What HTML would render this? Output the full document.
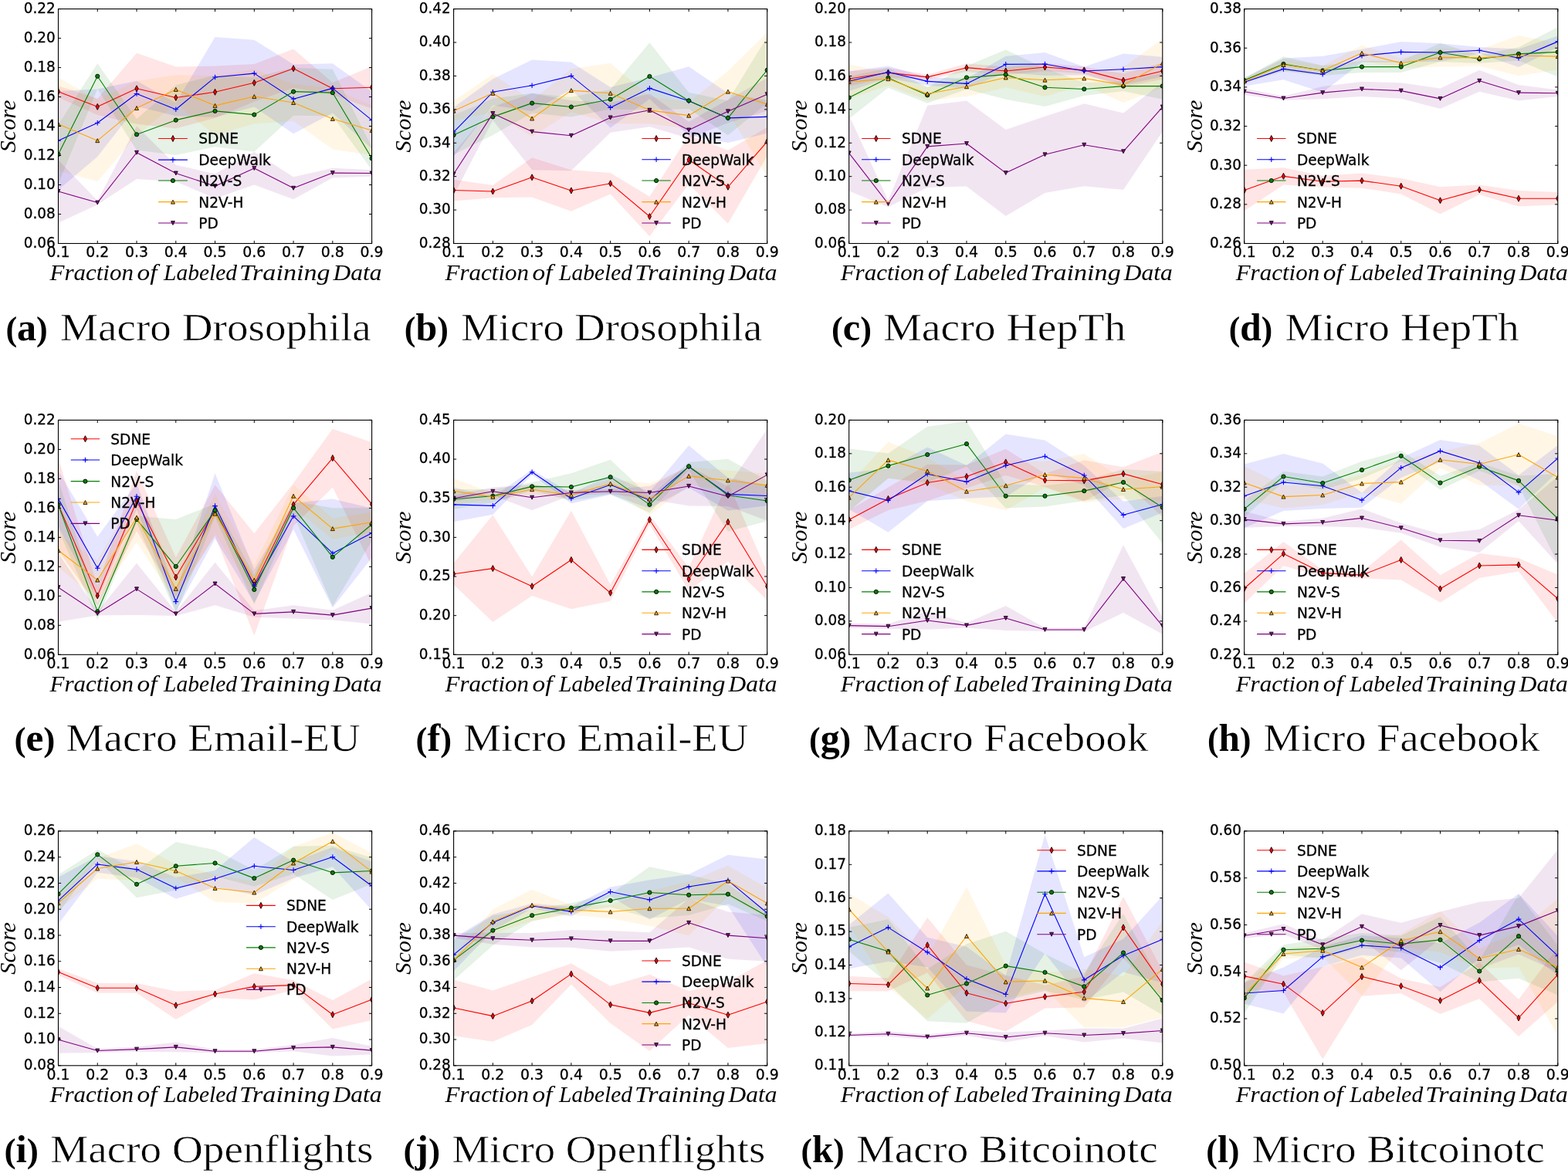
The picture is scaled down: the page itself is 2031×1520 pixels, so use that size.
<!DOCTYPE html><html><head><meta charset="utf-8"><title>Figure</title><style>
html,body{margin:0;padding:0;background:#fff;overflow:hidden}
svg{display:block}
.tk{font-family:"DejaVu Sans","Liberation Sans",sans-serif;font-size:18.9px;fill:#000;stroke:#000;stroke-width:0.3px}
.lg{font-family:"DejaVu Sans","Liberation Sans",sans-serif;font-size:18.9px;fill:#000;stroke:#000;stroke-width:0.3px}
.xl{font-family:"Liberation Serif","DejaVu Serif",serif;font-style:italic;font-size:30px;fill:#000}
.yl{font-family:"Liberation Serif","DejaVu Serif",serif;font-style:italic;font-size:30px;fill:#000}
.cb{font-family:"Liberation Serif","DejaVu Serif",serif;font-weight:bold;font-size:50px;fill:#000}
.ct{font-family:"Liberation Serif","DejaVu Serif",serif;font-size:50px;fill:#000;stroke:#fff;stroke-width:0.6px}
</style></head><body>
<svg width="2031" height="1520" viewBox="0 0 2031 1520">
<rect width="2031" height="1520" fill="#fff"/>
<clipPath id="clip00"><rect x="75.5" y="11.6" width="406.1" height="303.9"/></clipPath>
<g clip-path="url(#clip00)">
<polygon points="75.5,111.18 126.26,127.65 177.03,68.85 227.79,86.59 278.55,85.52 329.31,82.96 380.08,63.5 430.84,106.91 481.6,85.95 481.6,140.69 430.84,122.73 380.08,113.96 329.31,131.71 278.55,153.09 227.79,166.56 177.03,160.79 126.26,149.03 75.5,126.15" fill="#ff0000" fill-opacity="0.1"/>
<polygon points="75.5,118.02 126.26,115.46 177.03,104.77 227.79,133.21 278.55,48.11 329.31,51.74 380.08,83.39 430.84,82.32 481.6,118.67 481.6,192.64 430.84,146.46 380.08,173.19 329.31,138.55 278.55,152.02 227.79,150.31 177.03,138.12 126.26,203.12 75.5,246.31" fill="#0000ff" fill-opacity="0.1"/>
<polygon points="75.5,161.43 126.26,82.32 177.03,153.94 227.79,110.33 278.55,97.5 329.31,100.49 380.08,87.66 430.84,89.8 481.6,190.29 481.6,220.23 430.84,150.52 380.08,149.67 329.31,196.71 278.55,190.29 227.79,200.98 177.03,194.57 126.26,115.24 75.5,238.4" fill="#008000" fill-opacity="0.1"/>
<polygon points="75.5,100.49 126.26,129.14 177.03,104.77 227.79,97.28 278.55,98.35 329.31,89.8 380.08,109.04 430.84,114.39 481.6,136.84 481.6,200.98 430.84,193.5 380.08,156.94 329.31,160.36 278.55,175.33 227.79,134.49 177.03,175.33 126.26,235.19 75.5,221.08" fill="#ffa500" fill-opacity="0.1"/>
<polygon points="75.5,207.4 126.26,260 177.03,163.57 227.79,213.81 278.55,225.14 329.31,196.71 380.08,229.21 430.84,217.66 481.6,220.23 481.6,228.78 430.84,230.49 380.08,258.29 329.31,239.47 278.55,257.22 227.79,235.19 177.03,231.99 126.26,265.13 75.5,288.65" fill="#800080" fill-opacity="0.1"/>
</g>
<g clip-path="url(#clip00)">
<polyline points="75.5,118.67 126.26,138.34 177.03,114.82 227.79,126.58 278.55,119.31 329.31,107.33 380.08,88.73 430.84,114.82 481.6,113.32" fill="none" stroke="#ff0000" stroke-width="1.1" stroke-linejoin="round"/>
<path d="M75.5 114.67L77.6 118.67L75.5 122.67L73.4 118.67Z" fill="#ff0000" stroke="#000" stroke-width="0.9"/>
<path d="M126.26 134.34L128.36 138.34L126.26 142.34L124.16 138.34Z" fill="#ff0000" stroke="#000" stroke-width="0.9"/>
<path d="M177.03 110.82L179.12 114.82L177.03 118.82L174.93 114.82Z" fill="#ff0000" stroke="#000" stroke-width="0.9"/>
<path d="M227.79 122.58L229.89 126.58L227.79 130.58L225.69 126.58Z" fill="#ff0000" stroke="#000" stroke-width="0.9"/>
<path d="M278.55 115.31L280.65 119.31L278.55 123.31L276.45 119.31Z" fill="#ff0000" stroke="#000" stroke-width="0.9"/>
<path d="M329.31 103.33L331.41 107.33L329.31 111.33L327.21 107.33Z" fill="#ff0000" stroke="#000" stroke-width="0.9"/>
<path d="M380.08 84.73L382.18 88.73L380.08 92.73L377.98 88.73Z" fill="#ff0000" stroke="#000" stroke-width="0.9"/>
<path d="M430.84 110.82L432.94 114.82L430.84 118.82L428.74 114.82Z" fill="#ff0000" stroke="#000" stroke-width="0.9"/>
<path d="M481.6 109.32L483.7 113.32L481.6 117.32L479.5 113.32Z" fill="#ff0000" stroke="#000" stroke-width="0.9"/>
<polyline points="75.5,182.17 126.26,159.29 177.03,121.45 227.79,141.76 278.55,100.06 329.31,95.15 380.08,128.29 430.84,114.39 481.6,155.66" fill="none" stroke="#0000ff" stroke-width="1.1" stroke-linejoin="round"/>
<path d="M72.2 182.17H78.8M75.5 178.87V185.47" stroke="#0000ff" stroke-width="1.1" fill="none"/>
<path d="M122.96 159.29H129.56M126.26 155.99V162.59" stroke="#0000ff" stroke-width="1.1" fill="none"/>
<path d="M173.72 121.45H180.33M177.03 118.15V124.75" stroke="#0000ff" stroke-width="1.1" fill="none"/>
<path d="M224.49 141.76H231.09M227.79 138.46V145.06" stroke="#0000ff" stroke-width="1.1" fill="none"/>
<path d="M275.25 100.06H281.85M278.55 96.76V103.36" stroke="#0000ff" stroke-width="1.1" fill="none"/>
<path d="M326.01 95.15H332.61M329.31 91.85V98.45" stroke="#0000ff" stroke-width="1.1" fill="none"/>
<path d="M376.78 128.29H383.38M380.08 124.99V131.59" stroke="#0000ff" stroke-width="1.1" fill="none"/>
<path d="M427.54 114.39H434.14M430.84 111.09V117.69" stroke="#0000ff" stroke-width="1.1" fill="none"/>
<path d="M478.3 155.66H484.9M481.6 152.36V158.96" stroke="#0000ff" stroke-width="1.1" fill="none"/>
<polyline points="75.5,199.91 126.26,98.78 177.03,174.26 227.79,155.66 278.55,143.9 329.31,148.6 380.08,118.67 430.84,120.16 481.6,205.26" fill="none" stroke="#008000" stroke-width="1.1" stroke-linejoin="round"/>
<circle cx="75.5" cy="199.91" r="2.6" fill="#008000" stroke="#000" stroke-width="0.9"/>
<circle cx="126.26" cy="98.78" r="2.6" fill="#008000" stroke="#000" stroke-width="0.9"/>
<circle cx="177.03" cy="174.26" r="2.6" fill="#008000" stroke="#000" stroke-width="0.9"/>
<circle cx="227.79" cy="155.66" r="2.6" fill="#008000" stroke="#000" stroke-width="0.9"/>
<circle cx="278.55" cy="143.9" r="2.6" fill="#008000" stroke="#000" stroke-width="0.9"/>
<circle cx="329.31" cy="148.6" r="2.6" fill="#008000" stroke="#000" stroke-width="0.9"/>
<circle cx="380.08" cy="118.67" r="2.6" fill="#008000" stroke="#000" stroke-width="0.9"/>
<circle cx="430.84" cy="120.16" r="2.6" fill="#008000" stroke="#000" stroke-width="0.9"/>
<circle cx="481.6" cy="205.26" r="2.6" fill="#008000" stroke="#000" stroke-width="0.9"/>
<polyline points="75.5,160.79 126.26,182.17 177.03,140.05 227.79,115.89 278.55,136.84 329.31,125.08 380.08,132.99 430.84,153.94 481.6,168.91" fill="none" stroke="#ffa500" stroke-width="1.1" stroke-linejoin="round"/>
<path d="M75.5 158.29L78 163.29L73 163.29Z" fill="#ffa500" stroke="#000" stroke-width="0.8" stroke-linejoin="miter"/>
<path d="M126.26 179.67L128.76 184.67L123.76 184.67Z" fill="#ffa500" stroke="#000" stroke-width="0.8" stroke-linejoin="miter"/>
<path d="M177.03 137.55L179.53 142.55L174.53 142.55Z" fill="#ffa500" stroke="#000" stroke-width="0.8" stroke-linejoin="miter"/>
<path d="M227.79 113.39L230.29 118.39L225.29 118.39Z" fill="#ffa500" stroke="#000" stroke-width="0.8" stroke-linejoin="miter"/>
<path d="M278.55 134.34L281.05 139.34L276.05 139.34Z" fill="#ffa500" stroke="#000" stroke-width="0.8" stroke-linejoin="miter"/>
<path d="M329.31 122.58L331.81 127.58L326.81 127.58Z" fill="#ffa500" stroke="#000" stroke-width="0.8" stroke-linejoin="miter"/>
<path d="M380.08 130.49L382.58 135.49L377.58 135.49Z" fill="#ffa500" stroke="#000" stroke-width="0.8" stroke-linejoin="miter"/>
<path d="M430.84 151.44L433.34 156.44L428.34 156.44Z" fill="#ffa500" stroke="#000" stroke-width="0.8" stroke-linejoin="miter"/>
<path d="M481.6 166.41L484.1 171.41L479.1 171.41Z" fill="#ffa500" stroke="#000" stroke-width="0.8" stroke-linejoin="miter"/>
<polyline points="75.5,248.02 126.26,262.56 177.03,197.78 227.79,224.5 278.55,241.18 329.31,218.09 380.08,243.75 430.84,224.08 481.6,224.5" fill="none" stroke="#800080" stroke-width="1.1" stroke-linejoin="round"/>
<path d="M75.5 250.52L78 245.52L73 245.52Z" fill="#800080" stroke="#000" stroke-width="0.8" stroke-linejoin="miter"/>
<path d="M126.26 265.06L128.76 260.06L123.76 260.06Z" fill="#800080" stroke="#000" stroke-width="0.8" stroke-linejoin="miter"/>
<path d="M177.03 200.28L179.53 195.28L174.53 195.28Z" fill="#800080" stroke="#000" stroke-width="0.8" stroke-linejoin="miter"/>
<path d="M227.79 227L230.29 222L225.29 222Z" fill="#800080" stroke="#000" stroke-width="0.8" stroke-linejoin="miter"/>
<path d="M278.55 243.68L281.05 238.68L276.05 238.68Z" fill="#800080" stroke="#000" stroke-width="0.8" stroke-linejoin="miter"/>
<path d="M329.31 220.59L331.81 215.59L326.81 215.59Z" fill="#800080" stroke="#000" stroke-width="0.8" stroke-linejoin="miter"/>
<path d="M380.08 246.25L382.58 241.25L377.58 241.25Z" fill="#800080" stroke="#000" stroke-width="0.8" stroke-linejoin="miter"/>
<path d="M430.84 226.58L433.34 221.58L428.34 221.58Z" fill="#800080" stroke="#000" stroke-width="0.8" stroke-linejoin="miter"/>
<path d="M481.6 227L484.1 222L479.1 222Z" fill="#800080" stroke="#000" stroke-width="0.8" stroke-linejoin="miter"/>
</g>
<line x1="205.05" y1="179.52" x2="242.89" y2="179.52" stroke="#ff0000" stroke-width="1.1"/>
<path d="M223.97 175.52L226.07 179.52L223.97 183.52L221.87 179.52Z" fill="#ff0000" stroke="#000" stroke-width="0.9"/>
<text transform="translate(257.27 186.41) scale(0.985 1)" class="lg">SDNE</text>
<line x1="205.05" y1="207.11" x2="242.89" y2="207.11" stroke="#0000ff" stroke-width="1.1"/>
<path d="M220.67 207.11H227.27M223.97 203.81V210.41" stroke="#0000ff" stroke-width="1.1" fill="none"/>
<text transform="translate(257.27 214) scale(0.985 1)" class="lg">DeepWalk</text>
<line x1="205.05" y1="234.05" x2="242.89" y2="234.05" stroke="#008000" stroke-width="1.1"/>
<circle cx="223.97" cy="234.05" r="2.6" fill="#008000" stroke="#000" stroke-width="0.9"/>
<text transform="translate(257.27 240.94) scale(0.985 1)" class="lg">N2V-S</text>
<line x1="205.05" y1="261.63" x2="242.89" y2="261.63" stroke="#ffa500" stroke-width="1.1"/>
<path d="M223.97 259.13L226.47 264.13L221.47 264.13Z" fill="#ffa500" stroke="#000" stroke-width="0.8" stroke-linejoin="miter"/>
<text transform="translate(257.27 268.52) scale(0.985 1)" class="lg">N2V-H</text>
<line x1="205.05" y1="289" x2="242.89" y2="289" stroke="#800080" stroke-width="1.1"/>
<path d="M223.97 291.5L226.47 286.5L221.47 286.5Z" fill="#800080" stroke="#000" stroke-width="0.8" stroke-linejoin="miter"/>
<text transform="translate(257.27 295.89) scale(0.985 1)" class="lg">PD</text>
<rect x="75.5" y="11.6" width="406.1" height="303.9" fill="none" stroke="#000" stroke-width="1.1"/>
<path d="M75.5 315.5v-3.6M75.5 11.6v3.6M126.26 315.5v-3.6M126.26 11.6v3.6M177.03 315.5v-3.6M177.03 11.6v3.6M227.79 315.5v-3.6M227.79 11.6v3.6M278.55 315.5v-3.6M278.55 11.6v3.6M329.31 315.5v-3.6M329.31 11.6v3.6M380.08 315.5v-3.6M380.08 11.6v3.6M430.84 315.5v-3.6M430.84 11.6v3.6M481.6 315.5v-3.6M481.6 11.6v3.6M75.5 315.5h3.6M481.6 315.5h-3.6M75.5 277.51h3.6M481.6 277.51h-3.6M75.5 239.53h3.6M481.6 239.53h-3.6M75.5 201.54h3.6M481.6 201.54h-3.6M75.5 163.55h3.6M481.6 163.55h-3.6M75.5 125.56h3.6M481.6 125.56h-3.6M75.5 87.58h3.6M481.6 87.58h-3.6M75.5 49.59h3.6M481.6 49.59h-3.6M75.5 11.6h3.6M481.6 11.6h-3.6" stroke="#000" stroke-width="1" fill="none"/>
<text transform="translate(71.7 320.8) scale(0.975 1)" class="tk" text-anchor="end">0.06</text>
<text transform="translate(71.7 282.81) scale(0.975 1)" class="tk" text-anchor="end">0.08</text>
<text transform="translate(71.7 244.83) scale(0.975 1)" class="tk" text-anchor="end">0.10</text>
<text transform="translate(71.7 206.84) scale(0.975 1)" class="tk" text-anchor="end">0.12</text>
<text transform="translate(71.7 168.85) scale(0.975 1)" class="tk" text-anchor="end">0.14</text>
<text transform="translate(71.7 130.86) scale(0.975 1)" class="tk" text-anchor="end">0.16</text>
<text transform="translate(71.7 92.88) scale(0.975 1)" class="tk" text-anchor="end">0.18</text>
<text transform="translate(71.7 54.89) scale(0.975 1)" class="tk" text-anchor="end">0.20</text>
<text transform="translate(71.7 16.9) scale(0.975 1)" class="tk" text-anchor="end">0.22</text>
<text x="75.5" y="333.4" class="tk" text-anchor="middle">0.1</text>
<text x="126.26" y="333.4" class="tk" text-anchor="middle">0.2</text>
<text x="177.03" y="333.4" class="tk" text-anchor="middle">0.3</text>
<text x="227.79" y="333.4" class="tk" text-anchor="middle">0.4</text>
<text x="278.55" y="333.4" class="tk" text-anchor="middle">0.5</text>
<text x="329.31" y="333.4" class="tk" text-anchor="middle">0.6</text>
<text x="380.08" y="333.4" class="tk" text-anchor="middle">0.7</text>
<text x="430.84" y="333.4" class="tk" text-anchor="middle">0.8</text>
<text x="481.6" y="333.4" class="tk" text-anchor="middle">0.9</text>
<text x="64.5" y="362.7" class="xl" textLength="108.5" lengthAdjust="spacingAndGlyphs">Fraction</text>
<text x="177.5" y="362.7" class="xl" textLength="26" lengthAdjust="spacingAndGlyphs">of</text>
<text x="212" y="362.7" class="xl" textLength="95" lengthAdjust="spacingAndGlyphs">Labeled</text>
<text x="310" y="362.7" class="xl" textLength="117.5" lengthAdjust="spacingAndGlyphs">Training</text>
<text x="431.5" y="362.7" class="xl" textLength="63" lengthAdjust="spacingAndGlyphs">Data</text>
<text transform="translate(20.3 163.55) rotate(-90)" class="yl" text-anchor="middle" textLength="67.8" lengthAdjust="spacingAndGlyphs">Score</text>
<text x="7.4" y="441" class="cb" textLength="54.4" lengthAdjust="spacingAndGlyphs"><tspan font-size="44">(</tspan>a<tspan font-size="44">)</tspan></text>
<text x="78" y="441" class="ct" textLength="402.8" lengthAdjust="spacingAndGlyphs">Macro Drosophila</text>
<clipPath id="clip10"><rect x="587.6" y="11.6" width="406.1" height="303.9"/></clipPath>
<g clip-path="url(#clip10)">
<polygon points="587.6,232.63 638.36,239.9 689.12,204.19 739.89,220.23 790.65,224.08 841.41,254.86 892.18,175.33 942.94,194.78 993.7,164.64 993.7,202.27 942.94,289.72 892.18,238.61 841.41,306.18 790.65,251.44 739.89,273.68 689.12,255.51 638.36,256.15 587.6,260.42" fill="#ff0000" fill-opacity="0.1"/>
<polygon points="587.6,138.98 638.36,102.2 689.12,77.4 739.89,80.61 790.65,113.11 841.41,100.49 892.18,86.17 942.94,120.8 993.7,130 993.7,172.76 942.94,184.95 892.18,175.54 841.41,128.29 790.65,165.7 739.89,116.1 689.12,144.11 638.36,136.41 587.6,203.12" fill="#0000ff" fill-opacity="0.1"/>
<polygon points="587.6,149.24 638.36,127.86 689.12,120.8 739.89,125.72 790.65,115.89 841.41,55.16 892.18,119.73 942.94,130.43 993.7,48.11 993.7,133.63 942.94,175.33 892.18,141.12 841.41,142.83 790.65,141.54 739.89,151.38 689.12,146.46 638.36,174.9 587.6,200.56" fill="#008000" fill-opacity="0.1"/>
<polygon points="587.6,130.85 638.36,96.22 689.12,130 739.89,89.37 790.65,81.68 841.41,125.08 892.18,132.56 942.94,91.94 993.7,42.12 993.7,228.14 942.94,145.39 892.18,166.77 841.41,160.57 790.65,159.93 739.89,144.96 689.12,177.04 638.36,145.39 587.6,156.51" fill="#ffa500" fill-opacity="0.1"/>
<polygon points="587.6,197.78 638.36,138.55 689.12,121.02 739.89,130.21 790.65,133.21 841.41,121.45 892.18,157.79 942.94,129.36 993.7,100.92 993.7,143.68 942.94,159.29 892.18,179.17 841.41,164.21 790.65,171.69 739.89,221.3 689.12,220.23 638.36,155.66 587.6,253.37" fill="#800080" fill-opacity="0.1"/>
</g>
<g clip-path="url(#clip10)">
<polyline points="587.6,246.53 638.36,248.02 689.12,229.85 739.89,246.95 790.65,237.76 841.41,280.52 892.18,206.97 942.94,242.25 993.7,183.45" fill="none" stroke="#ff0000" stroke-width="1.1" stroke-linejoin="round"/>
<path d="M587.6 242.53L589.7 246.53L587.6 250.53L585.5 246.53Z" fill="#ff0000" stroke="#000" stroke-width="0.9"/>
<path d="M638.36 244.02L640.46 248.02L638.36 252.02L636.26 248.02Z" fill="#ff0000" stroke="#000" stroke-width="0.9"/>
<path d="M689.12 225.85L691.23 229.85L689.12 233.85L687.02 229.85Z" fill="#ff0000" stroke="#000" stroke-width="0.9"/>
<path d="M739.89 242.95L741.99 246.95L739.89 250.95L737.79 246.95Z" fill="#ff0000" stroke="#000" stroke-width="0.9"/>
<path d="M790.65 233.76L792.75 237.76L790.65 241.76L788.55 237.76Z" fill="#ff0000" stroke="#000" stroke-width="0.9"/>
<path d="M841.41 276.52L843.51 280.52L841.41 284.52L839.31 280.52Z" fill="#ff0000" stroke="#000" stroke-width="0.9"/>
<path d="M892.18 202.97L894.28 206.97L892.18 210.97L890.08 206.97Z" fill="#ff0000" stroke="#000" stroke-width="0.9"/>
<path d="M942.94 238.25L945.04 242.25L942.94 246.25L940.84 242.25Z" fill="#ff0000" stroke="#000" stroke-width="0.9"/>
<path d="M993.7 179.45L995.8 183.45L993.7 187.45L991.6 183.45Z" fill="#ff0000" stroke="#000" stroke-width="0.9"/>
<polyline points="587.6,171.05 638.36,119.31 689.12,110.75 739.89,98.35 790.65,139.41 841.41,114.39 892.18,130.85 942.94,152.88 993.7,151.38" fill="none" stroke="#0000ff" stroke-width="1.1" stroke-linejoin="round"/>
<path d="M584.3 171.05H590.9M587.6 167.75V174.35" stroke="#0000ff" stroke-width="1.1" fill="none"/>
<path d="M635.06 119.31H641.66M638.36 116.01V122.61" stroke="#0000ff" stroke-width="1.1" fill="none"/>
<path d="M685.83 110.75H692.42M689.12 107.45V114.05" stroke="#0000ff" stroke-width="1.1" fill="none"/>
<path d="M736.59 98.35H743.19M739.89 95.05V101.65" stroke="#0000ff" stroke-width="1.1" fill="none"/>
<path d="M787.35 139.41H793.95M790.65 136.11V142.71" stroke="#0000ff" stroke-width="1.1" fill="none"/>
<path d="M838.11 114.39H844.71M841.41 111.09V117.69" stroke="#0000ff" stroke-width="1.1" fill="none"/>
<path d="M888.88 130.85H895.48M892.18 127.55V134.15" stroke="#0000ff" stroke-width="1.1" fill="none"/>
<path d="M939.64 152.88H946.24M942.94 149.58V156.18" stroke="#0000ff" stroke-width="1.1" fill="none"/>
<path d="M990.4 151.38H997M993.7 148.08V154.68" stroke="#0000ff" stroke-width="1.1" fill="none"/>
<polyline points="587.6,174.9 638.36,151.38 689.12,133.63 739.89,138.55 790.65,128.71 841.41,99 892.18,130.43 942.94,152.88 993.7,90.87" fill="none" stroke="#008000" stroke-width="1.1" stroke-linejoin="round"/>
<circle cx="587.6" cy="174.9" r="2.6" fill="#008000" stroke="#000" stroke-width="0.9"/>
<circle cx="638.36" cy="151.38" r="2.6" fill="#008000" stroke="#000" stroke-width="0.9"/>
<circle cx="689.12" cy="133.63" r="2.6" fill="#008000" stroke="#000" stroke-width="0.9"/>
<circle cx="739.89" cy="138.55" r="2.6" fill="#008000" stroke="#000" stroke-width="0.9"/>
<circle cx="790.65" cy="128.71" r="2.6" fill="#008000" stroke="#000" stroke-width="0.9"/>
<circle cx="841.41" cy="99" r="2.6" fill="#008000" stroke="#000" stroke-width="0.9"/>
<circle cx="892.18" cy="130.43" r="2.6" fill="#008000" stroke="#000" stroke-width="0.9"/>
<circle cx="942.94" cy="152.88" r="2.6" fill="#008000" stroke="#000" stroke-width="0.9"/>
<circle cx="993.7" cy="90.87" r="2.6" fill="#008000" stroke="#000" stroke-width="0.9"/>
<polyline points="587.6,143.68 638.36,120.8 689.12,153.52 739.89,117.17 790.65,120.8 841.41,142.83 892.18,149.67 942.94,118.67 993.7,135.13" fill="none" stroke="#ffa500" stroke-width="1.1" stroke-linejoin="round"/>
<path d="M587.6 141.18L590.1 146.18L585.1 146.18Z" fill="#ffa500" stroke="#000" stroke-width="0.8" stroke-linejoin="miter"/>
<path d="M638.36 118.3L640.86 123.3L635.86 123.3Z" fill="#ffa500" stroke="#000" stroke-width="0.8" stroke-linejoin="miter"/>
<path d="M689.12 151.02L691.62 156.02L686.62 156.02Z" fill="#ffa500" stroke="#000" stroke-width="0.8" stroke-linejoin="miter"/>
<path d="M739.89 114.67L742.39 119.67L737.39 119.67Z" fill="#ffa500" stroke="#000" stroke-width="0.8" stroke-linejoin="miter"/>
<path d="M790.65 118.3L793.15 123.3L788.15 123.3Z" fill="#ffa500" stroke="#000" stroke-width="0.8" stroke-linejoin="miter"/>
<path d="M841.41 140.33L843.91 145.33L838.91 145.33Z" fill="#ffa500" stroke="#000" stroke-width="0.8" stroke-linejoin="miter"/>
<path d="M892.18 147.17L894.68 152.17L889.68 152.17Z" fill="#ffa500" stroke="#000" stroke-width="0.8" stroke-linejoin="miter"/>
<path d="M942.94 116.17L945.44 121.17L940.44 121.17Z" fill="#ffa500" stroke="#000" stroke-width="0.8" stroke-linejoin="miter"/>
<path d="M993.7 132.63L996.2 137.63L991.2 137.63Z" fill="#ffa500" stroke="#000" stroke-width="0.8" stroke-linejoin="miter"/>
<polyline points="587.6,225.57 638.36,147.1 689.12,170.62 739.89,175.75 790.65,152.45 841.41,142.83 892.18,168.48 942.94,144.32 993.7,122.3" fill="none" stroke="#800080" stroke-width="1.1" stroke-linejoin="round"/>
<path d="M587.6 228.07L590.1 223.07L585.1 223.07Z" fill="#800080" stroke="#000" stroke-width="0.8" stroke-linejoin="miter"/>
<path d="M638.36 149.6L640.86 144.6L635.86 144.6Z" fill="#800080" stroke="#000" stroke-width="0.8" stroke-linejoin="miter"/>
<path d="M689.12 173.12L691.62 168.12L686.62 168.12Z" fill="#800080" stroke="#000" stroke-width="0.8" stroke-linejoin="miter"/>
<path d="M739.89 178.25L742.39 173.25L737.39 173.25Z" fill="#800080" stroke="#000" stroke-width="0.8" stroke-linejoin="miter"/>
<path d="M790.65 154.95L793.15 149.95L788.15 149.95Z" fill="#800080" stroke="#000" stroke-width="0.8" stroke-linejoin="miter"/>
<path d="M841.41 145.33L843.91 140.33L838.91 140.33Z" fill="#800080" stroke="#000" stroke-width="0.8" stroke-linejoin="miter"/>
<path d="M892.18 170.98L894.68 165.98L889.68 165.98Z" fill="#800080" stroke="#000" stroke-width="0.8" stroke-linejoin="miter"/>
<path d="M942.94 146.82L945.44 141.82L940.44 141.82Z" fill="#800080" stroke="#000" stroke-width="0.8" stroke-linejoin="miter"/>
<path d="M993.7 124.8L996.2 119.8L991.2 119.8Z" fill="#800080" stroke="#000" stroke-width="0.8" stroke-linejoin="miter"/>
</g>
<line x1="831.37" y1="179.52" x2="868.78" y2="179.52" stroke="#ff0000" stroke-width="1.1"/>
<path d="M850.08 175.52L852.18 179.52L850.08 183.52L847.98 179.52Z" fill="#ff0000" stroke="#000" stroke-width="0.9"/>
<text transform="translate(882.95 186.41) scale(0.985 1)" class="lg">SDNE</text>
<line x1="831.37" y1="206.68" x2="868.78" y2="206.68" stroke="#0000ff" stroke-width="1.1"/>
<path d="M846.78 206.68H853.38M850.08 203.38V209.98" stroke="#0000ff" stroke-width="1.1" fill="none"/>
<text transform="translate(882.95 213.57) scale(0.985 1)" class="lg">DeepWalk</text>
<line x1="831.37" y1="234.05" x2="868.78" y2="234.05" stroke="#008000" stroke-width="1.1"/>
<circle cx="850.08" cy="234.05" r="2.6" fill="#008000" stroke="#000" stroke-width="0.9"/>
<text transform="translate(882.95 240.94) scale(0.985 1)" class="lg">N2V-S</text>
<line x1="831.37" y1="261.63" x2="868.78" y2="261.63" stroke="#ffa500" stroke-width="1.1"/>
<path d="M850.08 259.13L852.58 264.13L847.58 264.13Z" fill="#ffa500" stroke="#000" stroke-width="0.8" stroke-linejoin="miter"/>
<text transform="translate(882.95 268.52) scale(0.985 1)" class="lg">N2V-H</text>
<line x1="831.37" y1="289" x2="868.78" y2="289" stroke="#800080" stroke-width="1.1"/>
<path d="M850.08 291.5L852.58 286.5L847.58 286.5Z" fill="#800080" stroke="#000" stroke-width="0.8" stroke-linejoin="miter"/>
<text transform="translate(882.95 295.89) scale(0.985 1)" class="lg">PD</text>
<rect x="587.6" y="11.6" width="406.1" height="303.9" fill="none" stroke="#000" stroke-width="1.1"/>
<path d="M587.6 315.5v-3.6M587.6 11.6v3.6M638.36 315.5v-3.6M638.36 11.6v3.6M689.12 315.5v-3.6M689.12 11.6v3.6M739.89 315.5v-3.6M739.89 11.6v3.6M790.65 315.5v-3.6M790.65 11.6v3.6M841.41 315.5v-3.6M841.41 11.6v3.6M892.18 315.5v-3.6M892.18 11.6v3.6M942.94 315.5v-3.6M942.94 11.6v3.6M993.7 315.5v-3.6M993.7 11.6v3.6M587.6 315.5h3.6M993.7 315.5h-3.6M587.6 272.09h3.6M993.7 272.09h-3.6M587.6 228.67h3.6M993.7 228.67h-3.6M587.6 185.26h3.6M993.7 185.26h-3.6M587.6 141.84h3.6M993.7 141.84h-3.6M587.6 98.43h3.6M993.7 98.43h-3.6M587.6 55.01h3.6M993.7 55.01h-3.6M587.6 11.6h3.6M993.7 11.6h-3.6" stroke="#000" stroke-width="1" fill="none"/>
<text transform="translate(583.8 320.8) scale(0.975 1)" class="tk" text-anchor="end">0.28</text>
<text transform="translate(583.8 277.39) scale(0.975 1)" class="tk" text-anchor="end">0.30</text>
<text transform="translate(583.8 233.97) scale(0.975 1)" class="tk" text-anchor="end">0.32</text>
<text transform="translate(583.8 190.56) scale(0.975 1)" class="tk" text-anchor="end">0.34</text>
<text transform="translate(583.8 147.14) scale(0.975 1)" class="tk" text-anchor="end">0.36</text>
<text transform="translate(583.8 103.73) scale(0.975 1)" class="tk" text-anchor="end">0.38</text>
<text transform="translate(583.8 60.31) scale(0.975 1)" class="tk" text-anchor="end">0.40</text>
<text transform="translate(583.8 16.9) scale(0.975 1)" class="tk" text-anchor="end">0.42</text>
<text x="587.6" y="333.4" class="tk" text-anchor="middle">0.1</text>
<text x="638.36" y="333.4" class="tk" text-anchor="middle">0.2</text>
<text x="689.12" y="333.4" class="tk" text-anchor="middle">0.3</text>
<text x="739.89" y="333.4" class="tk" text-anchor="middle">0.4</text>
<text x="790.65" y="333.4" class="tk" text-anchor="middle">0.5</text>
<text x="841.41" y="333.4" class="tk" text-anchor="middle">0.6</text>
<text x="892.18" y="333.4" class="tk" text-anchor="middle">0.7</text>
<text x="942.94" y="333.4" class="tk" text-anchor="middle">0.8</text>
<text x="993.7" y="333.4" class="tk" text-anchor="middle">0.9</text>
<text x="576.6" y="362.7" class="xl" textLength="108.5" lengthAdjust="spacingAndGlyphs">Fraction</text>
<text x="689.6" y="362.7" class="xl" textLength="26" lengthAdjust="spacingAndGlyphs">of</text>
<text x="724.1" y="362.7" class="xl" textLength="95" lengthAdjust="spacingAndGlyphs">Labeled</text>
<text x="822.1" y="362.7" class="xl" textLength="117.5" lengthAdjust="spacingAndGlyphs">Training</text>
<text x="943.6" y="362.7" class="xl" textLength="63" lengthAdjust="spacingAndGlyphs">Data</text>
<text transform="translate(532.4 163.55) rotate(-90)" class="yl" text-anchor="middle" textLength="67.8" lengthAdjust="spacingAndGlyphs">Score</text>
<text x="523.8" y="441" class="cb" textLength="57" lengthAdjust="spacingAndGlyphs"><tspan font-size="44">(</tspan>b<tspan font-size="44">)</tspan></text>
<text x="597.2" y="441" class="ct" textLength="390" lengthAdjust="spacingAndGlyphs">Micro Drosophila</text>
<clipPath id="clip20"><rect x="1099.7" y="11.6" width="406.1" height="303.9"/></clipPath>
<g clip-path="url(#clip20)">
<polygon points="1099.7,92.58 1150.46,87.66 1201.23,96.64 1251.99,82.32 1302.75,86.59 1353.51,81.68 1404.28,86.59 1455.04,95.57 1505.8,81.25 1505.8,102.63 1455.04,112.68 1404.28,95.15 1353.51,92.37 1302.75,97.28 1251.99,93.01 1201.23,103.06 1150.46,100.49 1099.7,111.82" fill="#ff0000" fill-opacity="0.1"/>
<polygon points="1099.7,92.37 1150.46,85.52 1201.23,100.06 1251.99,101.99 1302.75,72.7 1353.51,67.99 1404.28,86.59 1455.04,69.49 1505.8,73.77 1505.8,99.42 1455.04,110.11 1404.28,97.28 1353.51,97.93 1302.75,94.08 1251.99,114.82 1201.23,110.75 1150.46,101.35 1099.7,118.02" fill="#0000ff" fill-opacity="0.1"/>
<polygon points="1099.7,99.21 1150.46,88.09 1201.23,113.11 1251.99,85.52 1302.75,64.57 1353.51,88.73 1404.28,106.91 1455.04,105.2 1505.8,94.51 1505.8,128.71 1455.04,118.02 1404.28,124.01 1353.51,137.91 1302.75,128.71 1251.99,115.46 1201.23,133.63 1150.46,113.75 1099.7,153.94" fill="#008000" fill-opacity="0.1"/>
<polygon points="1099.7,83.39 1150.46,93.65 1201.23,112.89 1251.99,99.42 1302.75,87.66 1353.51,82.32 1404.28,93.01 1455.04,87.24 1505.8,50.25 1505.8,113.53 1455.04,132.99 1404.28,110.11 1353.51,125.08 1302.75,113.32 1251.99,125.08 1201.23,130 1150.46,110.75 1099.7,128.29" fill="#ffa500" fill-opacity="0.1"/>
<polygon points="1099.7,149.24 1150.46,259.78 1201.23,136.84 1251.99,130.43 1302.75,168.06 1353.51,150.74 1404.28,134.27 1455.04,146.46 1505.8,106.48 1505.8,170.62 1455.04,246.1 1404.28,241.18 1353.51,249.95 1302.75,280.09 1251.99,241.61 1201.23,242.89 1150.46,268.33 1099.7,247.59" fill="#800080" fill-opacity="0.1"/>
</g>
<g clip-path="url(#clip20)">
<polyline points="1099.7,102.2 1150.46,94.08 1201.23,99.85 1251.99,87.66 1302.75,91.94 1353.51,87.02 1404.28,90.87 1455.04,104.13 1505.8,91.94" fill="none" stroke="#ff0000" stroke-width="1.1" stroke-linejoin="round"/>
<path d="M1099.7 98.2L1101.8 102.2L1099.7 106.2L1097.6 102.2Z" fill="#ff0000" stroke="#000" stroke-width="0.9"/>
<path d="M1150.46 90.08L1152.56 94.08L1150.46 98.08L1148.36 94.08Z" fill="#ff0000" stroke="#000" stroke-width="0.9"/>
<path d="M1201.23 95.85L1203.33 99.85L1201.23 103.85L1199.13 99.85Z" fill="#ff0000" stroke="#000" stroke-width="0.9"/>
<path d="M1251.99 83.66L1254.09 87.66L1251.99 91.66L1249.89 87.66Z" fill="#ff0000" stroke="#000" stroke-width="0.9"/>
<path d="M1302.75 87.94L1304.85 91.94L1302.75 95.94L1300.65 91.94Z" fill="#ff0000" stroke="#000" stroke-width="0.9"/>
<path d="M1353.51 83.02L1355.61 87.02L1353.51 91.02L1351.41 87.02Z" fill="#ff0000" stroke="#000" stroke-width="0.9"/>
<path d="M1404.28 86.87L1406.38 90.87L1404.28 94.87L1402.18 90.87Z" fill="#ff0000" stroke="#000" stroke-width="0.9"/>
<path d="M1455.04 100.13L1457.14 104.13L1455.04 108.13L1452.94 104.13Z" fill="#ff0000" stroke="#000" stroke-width="0.9"/>
<path d="M1505.8 87.94L1507.9 91.94L1505.8 95.94L1503.7 91.94Z" fill="#ff0000" stroke="#000" stroke-width="0.9"/>
<polyline points="1099.7,105.2 1150.46,93.44 1201.23,105.41 1251.99,108.4 1302.75,83.39 1353.51,82.96 1404.28,91.94 1455.04,89.8 1505.8,86.59" fill="none" stroke="#0000ff" stroke-width="1.1" stroke-linejoin="round"/>
<path d="M1096.4 105.2H1103M1099.7 101.9V108.5" stroke="#0000ff" stroke-width="1.1" fill="none"/>
<path d="M1147.16 93.44H1153.76M1150.46 90.14V96.74" stroke="#0000ff" stroke-width="1.1" fill="none"/>
<path d="M1197.93 105.41H1204.53M1201.23 102.11V108.71" stroke="#0000ff" stroke-width="1.1" fill="none"/>
<path d="M1248.69 108.4H1255.29M1251.99 105.1V111.7" stroke="#0000ff" stroke-width="1.1" fill="none"/>
<path d="M1299.45 83.39H1306.05M1302.75 80.09V86.69" stroke="#0000ff" stroke-width="1.1" fill="none"/>
<path d="M1350.21 82.96H1356.81M1353.51 79.66V86.26" stroke="#0000ff" stroke-width="1.1" fill="none"/>
<path d="M1400.98 91.94H1407.58M1404.28 88.64V95.24" stroke="#0000ff" stroke-width="1.1" fill="none"/>
<path d="M1451.74 89.8H1458.34M1455.04 86.5V93.1" stroke="#0000ff" stroke-width="1.1" fill="none"/>
<path d="M1502.5 86.59H1509.1M1505.8 83.29V89.89" stroke="#0000ff" stroke-width="1.1" fill="none"/>
<polyline points="1099.7,126.58 1150.46,100.92 1201.23,123.37 1251.99,100.49 1302.75,96.64 1353.51,113.32 1404.28,115.46 1455.04,111.61 1505.8,111.61" fill="none" stroke="#008000" stroke-width="1.1" stroke-linejoin="round"/>
<circle cx="1099.7" cy="126.58" r="2.6" fill="#008000" stroke="#000" stroke-width="0.9"/>
<circle cx="1150.46" cy="100.92" r="2.6" fill="#008000" stroke="#000" stroke-width="0.9"/>
<circle cx="1201.23" cy="123.37" r="2.6" fill="#008000" stroke="#000" stroke-width="0.9"/>
<circle cx="1251.99" cy="100.49" r="2.6" fill="#008000" stroke="#000" stroke-width="0.9"/>
<circle cx="1302.75" cy="96.64" r="2.6" fill="#008000" stroke="#000" stroke-width="0.9"/>
<circle cx="1353.51" cy="113.32" r="2.6" fill="#008000" stroke="#000" stroke-width="0.9"/>
<circle cx="1404.28" cy="115.46" r="2.6" fill="#008000" stroke="#000" stroke-width="0.9"/>
<circle cx="1455.04" cy="111.61" r="2.6" fill="#008000" stroke="#000" stroke-width="0.9"/>
<circle cx="1505.8" cy="111.61" r="2.6" fill="#008000" stroke="#000" stroke-width="0.9"/>
<polyline points="1099.7,105.84 1150.46,102.2 1201.23,121.45 1251.99,112.25 1302.75,100.49 1353.51,103.7 1404.28,101.56 1455.04,110.11 1505.8,81.89" fill="none" stroke="#ffa500" stroke-width="1.1" stroke-linejoin="round"/>
<path d="M1099.7 103.34L1102.2 108.34L1097.2 108.34Z" fill="#ffa500" stroke="#000" stroke-width="0.8" stroke-linejoin="miter"/>
<path d="M1150.46 99.7L1152.96 104.7L1147.96 104.7Z" fill="#ffa500" stroke="#000" stroke-width="0.8" stroke-linejoin="miter"/>
<path d="M1201.23 118.95L1203.73 123.95L1198.73 123.95Z" fill="#ffa500" stroke="#000" stroke-width="0.8" stroke-linejoin="miter"/>
<path d="M1251.99 109.75L1254.49 114.75L1249.49 114.75Z" fill="#ffa500" stroke="#000" stroke-width="0.8" stroke-linejoin="miter"/>
<path d="M1302.75 97.99L1305.25 102.99L1300.25 102.99Z" fill="#ffa500" stroke="#000" stroke-width="0.8" stroke-linejoin="miter"/>
<path d="M1353.51 101.2L1356.01 106.2L1351.01 106.2Z" fill="#ffa500" stroke="#000" stroke-width="0.8" stroke-linejoin="miter"/>
<path d="M1404.28 99.06L1406.78 104.06L1401.78 104.06Z" fill="#ffa500" stroke="#000" stroke-width="0.8" stroke-linejoin="miter"/>
<path d="M1455.04 107.61L1457.54 112.61L1452.54 112.61Z" fill="#ffa500" stroke="#000" stroke-width="0.8" stroke-linejoin="miter"/>
<path d="M1505.8 79.39L1508.3 84.39L1503.3 84.39Z" fill="#ffa500" stroke="#000" stroke-width="0.8" stroke-linejoin="miter"/>
<polyline points="1099.7,198.42 1150.46,264.06 1201.23,189.87 1251.99,186.02 1302.75,224.08 1353.51,200.34 1404.28,187.73 1455.04,196.28 1505.8,138.55" fill="none" stroke="#800080" stroke-width="1.1" stroke-linejoin="round"/>
<path d="M1099.7 200.92L1102.2 195.92L1097.2 195.92Z" fill="#800080" stroke="#000" stroke-width="0.8" stroke-linejoin="miter"/>
<path d="M1150.46 266.56L1152.96 261.56L1147.96 261.56Z" fill="#800080" stroke="#000" stroke-width="0.8" stroke-linejoin="miter"/>
<path d="M1201.23 192.37L1203.73 187.37L1198.73 187.37Z" fill="#800080" stroke="#000" stroke-width="0.8" stroke-linejoin="miter"/>
<path d="M1251.99 188.52L1254.49 183.52L1249.49 183.52Z" fill="#800080" stroke="#000" stroke-width="0.8" stroke-linejoin="miter"/>
<path d="M1302.75 226.58L1305.25 221.58L1300.25 221.58Z" fill="#800080" stroke="#000" stroke-width="0.8" stroke-linejoin="miter"/>
<path d="M1353.51 202.84L1356.01 197.84L1351.01 197.84Z" fill="#800080" stroke="#000" stroke-width="0.8" stroke-linejoin="miter"/>
<path d="M1404.28 190.23L1406.78 185.23L1401.78 185.23Z" fill="#800080" stroke="#000" stroke-width="0.8" stroke-linejoin="miter"/>
<path d="M1455.04 198.78L1457.54 193.78L1452.54 193.78Z" fill="#800080" stroke="#000" stroke-width="0.8" stroke-linejoin="miter"/>
<path d="M1505.8 141.05L1508.3 136.05L1503.3 136.05Z" fill="#800080" stroke="#000" stroke-width="0.8" stroke-linejoin="miter"/>
</g>
<line x1="1116.09" y1="179.52" x2="1153.5" y2="179.52" stroke="#ff0000" stroke-width="1.1"/>
<path d="M1134.79 175.52L1136.89 179.52L1134.79 183.52L1132.69 179.52Z" fill="#ff0000" stroke="#000" stroke-width="0.9"/>
<text transform="translate(1167.88 186.41) scale(0.985 1)" class="lg">SDNE</text>
<line x1="1116.09" y1="206.68" x2="1153.5" y2="206.68" stroke="#0000ff" stroke-width="1.1"/>
<path d="M1131.49 206.68H1138.09M1134.79 203.38V209.98" stroke="#0000ff" stroke-width="1.1" fill="none"/>
<text transform="translate(1167.88 213.57) scale(0.985 1)" class="lg">DeepWalk</text>
<line x1="1116.09" y1="234.05" x2="1153.5" y2="234.05" stroke="#008000" stroke-width="1.1"/>
<circle cx="1134.79" cy="234.05" r="2.6" fill="#008000" stroke="#000" stroke-width="0.9"/>
<text transform="translate(1167.88 240.94) scale(0.985 1)" class="lg">N2V-S</text>
<line x1="1116.09" y1="261.63" x2="1153.5" y2="261.63" stroke="#ffa500" stroke-width="1.1"/>
<path d="M1134.79 259.13L1137.29 264.13L1132.29 264.13Z" fill="#ffa500" stroke="#000" stroke-width="0.8" stroke-linejoin="miter"/>
<text transform="translate(1167.88 268.52) scale(0.985 1)" class="lg">N2V-H</text>
<line x1="1116.09" y1="289" x2="1153.5" y2="289" stroke="#800080" stroke-width="1.1"/>
<path d="M1134.79 291.5L1137.29 286.5L1132.29 286.5Z" fill="#800080" stroke="#000" stroke-width="0.8" stroke-linejoin="miter"/>
<text transform="translate(1167.88 295.89) scale(0.985 1)" class="lg">PD</text>
<rect x="1099.7" y="11.6" width="406.1" height="303.9" fill="none" stroke="#000" stroke-width="1.1"/>
<path d="M1099.7 315.5v-3.6M1099.7 11.6v3.6M1150.46 315.5v-3.6M1150.46 11.6v3.6M1201.23 315.5v-3.6M1201.23 11.6v3.6M1251.99 315.5v-3.6M1251.99 11.6v3.6M1302.75 315.5v-3.6M1302.75 11.6v3.6M1353.51 315.5v-3.6M1353.51 11.6v3.6M1404.28 315.5v-3.6M1404.28 11.6v3.6M1455.04 315.5v-3.6M1455.04 11.6v3.6M1505.8 315.5v-3.6M1505.8 11.6v3.6M1099.7 315.5h3.6M1505.8 315.5h-3.6M1099.7 272.09h3.6M1505.8 272.09h-3.6M1099.7 228.67h3.6M1505.8 228.67h-3.6M1099.7 185.26h3.6M1505.8 185.26h-3.6M1099.7 141.84h3.6M1505.8 141.84h-3.6M1099.7 98.43h3.6M1505.8 98.43h-3.6M1099.7 55.01h3.6M1505.8 55.01h-3.6M1099.7 11.6h3.6M1505.8 11.6h-3.6" stroke="#000" stroke-width="1" fill="none"/>
<text transform="translate(1095.9 320.8) scale(0.975 1)" class="tk" text-anchor="end">0.06</text>
<text transform="translate(1095.9 277.39) scale(0.975 1)" class="tk" text-anchor="end">0.08</text>
<text transform="translate(1095.9 233.97) scale(0.975 1)" class="tk" text-anchor="end">0.10</text>
<text transform="translate(1095.9 190.56) scale(0.975 1)" class="tk" text-anchor="end">0.12</text>
<text transform="translate(1095.9 147.14) scale(0.975 1)" class="tk" text-anchor="end">0.14</text>
<text transform="translate(1095.9 103.73) scale(0.975 1)" class="tk" text-anchor="end">0.16</text>
<text transform="translate(1095.9 60.31) scale(0.975 1)" class="tk" text-anchor="end">0.18</text>
<text transform="translate(1095.9 16.9) scale(0.975 1)" class="tk" text-anchor="end">0.20</text>
<text x="1099.7" y="333.4" class="tk" text-anchor="middle">0.1</text>
<text x="1150.46" y="333.4" class="tk" text-anchor="middle">0.2</text>
<text x="1201.23" y="333.4" class="tk" text-anchor="middle">0.3</text>
<text x="1251.99" y="333.4" class="tk" text-anchor="middle">0.4</text>
<text x="1302.75" y="333.4" class="tk" text-anchor="middle">0.5</text>
<text x="1353.51" y="333.4" class="tk" text-anchor="middle">0.6</text>
<text x="1404.28" y="333.4" class="tk" text-anchor="middle">0.7</text>
<text x="1455.04" y="333.4" class="tk" text-anchor="middle">0.8</text>
<text x="1505.8" y="333.4" class="tk" text-anchor="middle">0.9</text>
<text x="1088.7" y="362.7" class="xl" textLength="108.5" lengthAdjust="spacingAndGlyphs">Fraction</text>
<text x="1201.7" y="362.7" class="xl" textLength="26" lengthAdjust="spacingAndGlyphs">of</text>
<text x="1236.2" y="362.7" class="xl" textLength="95" lengthAdjust="spacingAndGlyphs">Labeled</text>
<text x="1334.2" y="362.7" class="xl" textLength="117.5" lengthAdjust="spacingAndGlyphs">Training</text>
<text x="1455.7" y="362.7" class="xl" textLength="63" lengthAdjust="spacingAndGlyphs">Data</text>
<text transform="translate(1044.5 163.55) rotate(-90)" class="yl" text-anchor="middle" textLength="67.8" lengthAdjust="spacingAndGlyphs">Score</text>
<text x="1077" y="441" class="cb" textLength="52" lengthAdjust="spacingAndGlyphs"><tspan font-size="44">(</tspan>c<tspan font-size="44">)</tspan></text>
<text x="1144.2" y="441" class="ct" textLength="314.2" lengthAdjust="spacingAndGlyphs">Macro HepTh</text>
<clipPath id="clip30"><rect x="1611.7" y="11.6" width="406.1" height="303.9"/></clipPath>
<g clip-path="url(#clip30)">
<polygon points="1611.7,219.8 1662.46,217.23 1713.23,227.71 1763.99,224.5 1814.75,230.92 1865.51,242.25 1916.28,239.47 1967.04,246.95 2017.8,249.09 2017.8,265.34 1967.04,267.48 1916.28,252.3 1865.51,277.31 1814.75,251.44 1763.99,243.75 1713.23,242.68 1662.46,239.47 1611.7,273.25" fill="#ff0000" fill-opacity="0.1"/>
<polygon points="1611.7,101.13 1662.46,75.48 1713.23,72.7 1763.99,63.72 1814.75,53.88 1865.51,56.23 1916.28,60.94 1967.04,63.5 2017.8,46.4 2017.8,61.36 1967.04,87.02 1916.28,69.49 1865.51,79.75 1814.75,80.82 1763.99,80.82 1713.23,119.73 1662.46,103.27 1611.7,111.82" fill="#0000ff" fill-opacity="0.1"/>
<polygon points="1611.7,100.92 1662.46,73.34 1713.23,85.1 1763.99,79.11 1814.75,79.11 1865.51,56.02 1916.28,71.2 1967.04,61.36 2017.8,35.28 2017.8,99.42 1967.04,78.47 1916.28,81.89 1865.51,79.97 1814.75,94.08 1763.99,94.08 1713.23,97.93 1662.46,92.58 1611.7,107.33" fill="#008000" fill-opacity="0.1"/>
<polygon points="1611.7,101.99 1662.46,76.54 1713.23,85.1 1763.99,58.8 1814.75,75.26 1865.51,62.22 1916.28,64.14 1967.04,45.97 2017.8,56.02 2017.8,90.23 1967.04,98.14 1916.28,85.52 1865.51,86.59 1814.75,88.09 1763.99,78.9 1713.23,97.93 1662.46,91.51 1611.7,108.4" fill="#ffa500" fill-opacity="0.1"/>
<polygon points="1611.7,114.39 1662.46,124.87 1713.23,112.04 1763.99,105.84 1814.75,107.33 1865.51,114.6 1916.28,90.87 1967.04,109.9 2017.8,116.53 2017.8,125.08 1967.04,130.43 1916.28,118.67 1865.51,141.12 1814.75,127.86 1763.99,125.08 1713.23,128.29 1662.46,130 1611.7,122.94" fill="#800080" fill-opacity="0.1"/>
</g>
<g clip-path="url(#clip30)">
<polyline points="1611.7,246.53 1662.46,228.35 1713.23,235.19 1763.99,234.12 1814.75,241.18 1865.51,259.78 1916.28,245.88 1967.04,257.22 2017.8,257.22" fill="none" stroke="#ff0000" stroke-width="1.1" stroke-linejoin="round"/>
<path d="M1611.7 242.53L1613.8 246.53L1611.7 250.53L1609.6 246.53Z" fill="#ff0000" stroke="#000" stroke-width="0.9"/>
<path d="M1662.46 224.35L1664.56 228.35L1662.46 232.35L1660.36 228.35Z" fill="#ff0000" stroke="#000" stroke-width="0.9"/>
<path d="M1713.23 231.19L1715.33 235.19L1713.23 239.19L1711.13 235.19Z" fill="#ff0000" stroke="#000" stroke-width="0.9"/>
<path d="M1763.99 230.12L1766.09 234.12L1763.99 238.12L1761.89 234.12Z" fill="#ff0000" stroke="#000" stroke-width="0.9"/>
<path d="M1814.75 237.18L1816.85 241.18L1814.75 245.18L1812.65 241.18Z" fill="#ff0000" stroke="#000" stroke-width="0.9"/>
<path d="M1865.51 255.78L1867.61 259.78L1865.51 263.78L1863.41 259.78Z" fill="#ff0000" stroke="#000" stroke-width="0.9"/>
<path d="M1916.28 241.88L1918.38 245.88L1916.28 249.88L1914.18 245.88Z" fill="#ff0000" stroke="#000" stroke-width="0.9"/>
<path d="M1967.04 253.22L1969.14 257.22L1967.04 261.22L1964.94 257.22Z" fill="#ff0000" stroke="#000" stroke-width="0.9"/>
<path d="M2017.8 253.22L2019.9 257.22L2017.8 261.22L2015.7 257.22Z" fill="#ff0000" stroke="#000" stroke-width="0.9"/>
<polyline points="1611.7,106.48 1662.46,89.37 1713.23,96.22 1763.99,72.27 1814.75,67.35 1865.51,67.99 1916.28,65.21 1967.04,75.26 2017.8,53.88" fill="none" stroke="#0000ff" stroke-width="1.1" stroke-linejoin="round"/>
<path d="M1608.4 106.48H1615M1611.7 103.18V109.78" stroke="#0000ff" stroke-width="1.1" fill="none"/>
<path d="M1659.16 89.37H1665.76M1662.46 86.07V92.67" stroke="#0000ff" stroke-width="1.1" fill="none"/>
<path d="M1709.93 96.22H1716.53M1713.23 92.92V99.52" stroke="#0000ff" stroke-width="1.1" fill="none"/>
<path d="M1760.69 72.27H1767.29M1763.99 68.97V75.57" stroke="#0000ff" stroke-width="1.1" fill="none"/>
<path d="M1811.45 67.35H1818.05M1814.75 64.05V70.65" stroke="#0000ff" stroke-width="1.1" fill="none"/>
<path d="M1862.21 67.99H1868.81M1865.51 64.69V71.29" stroke="#0000ff" stroke-width="1.1" fill="none"/>
<path d="M1912.98 65.21H1919.58M1916.28 61.91V68.51" stroke="#0000ff" stroke-width="1.1" fill="none"/>
<path d="M1963.74 75.26H1970.34M1967.04 71.96V78.56" stroke="#0000ff" stroke-width="1.1" fill="none"/>
<path d="M2014.5 53.88H2021.1M2017.8 50.58V57.18" stroke="#0000ff" stroke-width="1.1" fill="none"/>
<polyline points="1611.7,104.13 1662.46,82.96 1713.23,91.51 1763.99,86.59 1814.75,86.59 1865.51,67.99 1916.28,76.54 1967.04,69.92 2017.8,67.35" fill="none" stroke="#008000" stroke-width="1.1" stroke-linejoin="round"/>
<circle cx="1611.7" cy="104.13" r="2.6" fill="#008000" stroke="#000" stroke-width="0.9"/>
<circle cx="1662.46" cy="82.96" r="2.6" fill="#008000" stroke="#000" stroke-width="0.9"/>
<circle cx="1713.23" cy="91.51" r="2.6" fill="#008000" stroke="#000" stroke-width="0.9"/>
<circle cx="1763.99" cy="86.59" r="2.6" fill="#008000" stroke="#000" stroke-width="0.9"/>
<circle cx="1814.75" cy="86.59" r="2.6" fill="#008000" stroke="#000" stroke-width="0.9"/>
<circle cx="1865.51" cy="67.99" r="2.6" fill="#008000" stroke="#000" stroke-width="0.9"/>
<circle cx="1916.28" cy="76.54" r="2.6" fill="#008000" stroke="#000" stroke-width="0.9"/>
<circle cx="1967.04" cy="69.92" r="2.6" fill="#008000" stroke="#000" stroke-width="0.9"/>
<circle cx="2017.8" cy="67.35" r="2.6" fill="#008000" stroke="#000" stroke-width="0.9"/>
<polyline points="1611.7,105.2 1662.46,84.03 1713.23,91.51 1763.99,68.85 1814.75,81.68 1865.51,74.41 1916.28,74.83 1967.04,72.05 2017.8,73.12" fill="none" stroke="#ffa500" stroke-width="1.1" stroke-linejoin="round"/>
<path d="M1611.7 102.7L1614.2 107.7L1609.2 107.7Z" fill="#ffa500" stroke="#000" stroke-width="0.8" stroke-linejoin="miter"/>
<path d="M1662.46 81.53L1664.96 86.53L1659.96 86.53Z" fill="#ffa500" stroke="#000" stroke-width="0.8" stroke-linejoin="miter"/>
<path d="M1713.23 89.01L1715.73 94.01L1710.73 94.01Z" fill="#ffa500" stroke="#000" stroke-width="0.8" stroke-linejoin="miter"/>
<path d="M1763.99 66.35L1766.49 71.35L1761.49 71.35Z" fill="#ffa500" stroke="#000" stroke-width="0.8" stroke-linejoin="miter"/>
<path d="M1814.75 79.18L1817.25 84.18L1812.25 84.18Z" fill="#ffa500" stroke="#000" stroke-width="0.8" stroke-linejoin="miter"/>
<path d="M1865.51 71.91L1868.01 76.91L1863.01 76.91Z" fill="#ffa500" stroke="#000" stroke-width="0.8" stroke-linejoin="miter"/>
<path d="M1916.28 72.33L1918.78 77.33L1913.78 77.33Z" fill="#ffa500" stroke="#000" stroke-width="0.8" stroke-linejoin="miter"/>
<path d="M1967.04 69.55L1969.54 74.55L1964.54 74.55Z" fill="#ffa500" stroke="#000" stroke-width="0.8" stroke-linejoin="miter"/>
<path d="M2017.8 70.62L2020.3 75.62L2015.3 75.62Z" fill="#ffa500" stroke="#000" stroke-width="0.8" stroke-linejoin="miter"/>
<polyline points="1611.7,118.67 1662.46,127.43 1713.23,120.16 1763.99,115.46 1814.75,117.6 1865.51,127.86 1916.28,104.77 1967.04,120.16 2017.8,120.8" fill="none" stroke="#800080" stroke-width="1.1" stroke-linejoin="round"/>
<path d="M1611.7 121.17L1614.2 116.17L1609.2 116.17Z" fill="#800080" stroke="#000" stroke-width="0.8" stroke-linejoin="miter"/>
<path d="M1662.46 129.93L1664.96 124.93L1659.96 124.93Z" fill="#800080" stroke="#000" stroke-width="0.8" stroke-linejoin="miter"/>
<path d="M1713.23 122.66L1715.73 117.66L1710.73 117.66Z" fill="#800080" stroke="#000" stroke-width="0.8" stroke-linejoin="miter"/>
<path d="M1763.99 117.96L1766.49 112.96L1761.49 112.96Z" fill="#800080" stroke="#000" stroke-width="0.8" stroke-linejoin="miter"/>
<path d="M1814.75 120.1L1817.25 115.1L1812.25 115.1Z" fill="#800080" stroke="#000" stroke-width="0.8" stroke-linejoin="miter"/>
<path d="M1865.51 130.36L1868.01 125.36L1863.01 125.36Z" fill="#800080" stroke="#000" stroke-width="0.8" stroke-linejoin="miter"/>
<path d="M1916.28 107.27L1918.78 102.27L1913.78 102.27Z" fill="#800080" stroke="#000" stroke-width="0.8" stroke-linejoin="miter"/>
<path d="M1967.04 122.66L1969.54 117.66L1964.54 117.66Z" fill="#800080" stroke="#000" stroke-width="0.8" stroke-linejoin="miter"/>
<path d="M2017.8 123.3L2020.3 118.3L2015.3 118.3Z" fill="#800080" stroke="#000" stroke-width="0.8" stroke-linejoin="miter"/>
</g>
<line x1="1628.09" y1="179.52" x2="1665.5" y2="179.52" stroke="#ff0000" stroke-width="1.1"/>
<path d="M1646.79 175.52L1648.89 179.52L1646.79 183.52L1644.69 179.52Z" fill="#ff0000" stroke="#000" stroke-width="0.9"/>
<text transform="translate(1679.88 186.41) scale(0.985 1)" class="lg">SDNE</text>
<line x1="1628.09" y1="206.68" x2="1665.5" y2="206.68" stroke="#0000ff" stroke-width="1.1"/>
<path d="M1643.49 206.68H1650.09M1646.79 203.38V209.98" stroke="#0000ff" stroke-width="1.1" fill="none"/>
<text transform="translate(1679.88 213.57) scale(0.985 1)" class="lg">DeepWalk</text>
<line x1="1628.09" y1="234.05" x2="1665.5" y2="234.05" stroke="#008000" stroke-width="1.1"/>
<circle cx="1646.79" cy="234.05" r="2.6" fill="#008000" stroke="#000" stroke-width="0.9"/>
<text transform="translate(1679.88 240.94) scale(0.985 1)" class="lg">N2V-S</text>
<line x1="1628.09" y1="261.63" x2="1665.5" y2="261.63" stroke="#ffa500" stroke-width="1.1"/>
<path d="M1646.79 259.13L1649.29 264.13L1644.29 264.13Z" fill="#ffa500" stroke="#000" stroke-width="0.8" stroke-linejoin="miter"/>
<text transform="translate(1679.88 268.52) scale(0.985 1)" class="lg">N2V-H</text>
<line x1="1628.09" y1="289" x2="1665.5" y2="289" stroke="#800080" stroke-width="1.1"/>
<path d="M1646.79 291.5L1649.29 286.5L1644.29 286.5Z" fill="#800080" stroke="#000" stroke-width="0.8" stroke-linejoin="miter"/>
<text transform="translate(1679.88 295.89) scale(0.985 1)" class="lg">PD</text>
<rect x="1611.7" y="11.6" width="406.1" height="303.9" fill="none" stroke="#000" stroke-width="1.1"/>
<path d="M1611.7 315.5v-3.6M1611.7 11.6v3.6M1662.46 315.5v-3.6M1662.46 11.6v3.6M1713.23 315.5v-3.6M1713.23 11.6v3.6M1763.99 315.5v-3.6M1763.99 11.6v3.6M1814.75 315.5v-3.6M1814.75 11.6v3.6M1865.51 315.5v-3.6M1865.51 11.6v3.6M1916.28 315.5v-3.6M1916.28 11.6v3.6M1967.04 315.5v-3.6M1967.04 11.6v3.6M2017.8 315.5v-3.6M2017.8 11.6v3.6M1611.7 315.5h3.6M2017.8 315.5h-3.6M1611.7 264.85h3.6M2017.8 264.85h-3.6M1611.7 214.2h3.6M2017.8 214.2h-3.6M1611.7 163.55h3.6M2017.8 163.55h-3.6M1611.7 112.9h3.6M2017.8 112.9h-3.6M1611.7 62.25h3.6M2017.8 62.25h-3.6M1611.7 11.6h3.6M2017.8 11.6h-3.6" stroke="#000" stroke-width="1" fill="none"/>
<text transform="translate(1607.9 320.8) scale(0.975 1)" class="tk" text-anchor="end">0.26</text>
<text transform="translate(1607.9 270.15) scale(0.975 1)" class="tk" text-anchor="end">0.28</text>
<text transform="translate(1607.9 219.5) scale(0.975 1)" class="tk" text-anchor="end">0.30</text>
<text transform="translate(1607.9 168.85) scale(0.975 1)" class="tk" text-anchor="end">0.32</text>
<text transform="translate(1607.9 118.2) scale(0.975 1)" class="tk" text-anchor="end">0.34</text>
<text transform="translate(1607.9 67.55) scale(0.975 1)" class="tk" text-anchor="end">0.36</text>
<text transform="translate(1607.9 16.9) scale(0.975 1)" class="tk" text-anchor="end">0.38</text>
<text x="1611.7" y="333.4" class="tk" text-anchor="middle">0.1</text>
<text x="1662.46" y="333.4" class="tk" text-anchor="middle">0.2</text>
<text x="1713.23" y="333.4" class="tk" text-anchor="middle">0.3</text>
<text x="1763.99" y="333.4" class="tk" text-anchor="middle">0.4</text>
<text x="1814.75" y="333.4" class="tk" text-anchor="middle">0.5</text>
<text x="1865.51" y="333.4" class="tk" text-anchor="middle">0.6</text>
<text x="1916.28" y="333.4" class="tk" text-anchor="middle">0.7</text>
<text x="1967.04" y="333.4" class="tk" text-anchor="middle">0.8</text>
<text x="2017.8" y="333.4" class="tk" text-anchor="middle">0.9</text>
<text x="1600.7" y="362.7" class="xl" textLength="108.5" lengthAdjust="spacingAndGlyphs">Fraction</text>
<text x="1713.7" y="362.7" class="xl" textLength="26" lengthAdjust="spacingAndGlyphs">of</text>
<text x="1748.2" y="362.7" class="xl" textLength="95" lengthAdjust="spacingAndGlyphs">Labeled</text>
<text x="1846.2" y="362.7" class="xl" textLength="117.5" lengthAdjust="spacingAndGlyphs">Training</text>
<text x="1967.7" y="362.7" class="xl" textLength="63" lengthAdjust="spacingAndGlyphs">Data</text>
<text transform="translate(1556.5 163.55) rotate(-90)" class="yl" text-anchor="middle" textLength="67.8" lengthAdjust="spacingAndGlyphs">Score</text>
<text x="1591.8" y="441" class="cb" textLength="56.4" lengthAdjust="spacingAndGlyphs"><tspan font-size="44">(</tspan>d<tspan font-size="44">)</tspan></text>
<text x="1664.6" y="441" class="ct" textLength="303.2" lengthAdjust="spacingAndGlyphs">Micro HepTh</text>
<clipPath id="clip01"><rect x="75.5" y="544.4" width="406.1" height="303.9"/></clipPath>
<g clip-path="url(#clip01)">
<polygon points="75.5,594.01 126.26,759.07 177.03,610.04 227.79,722.29 278.55,628.22 329.31,691.29 380.08,626.08 430.84,555.73 481.6,573.27 481.6,733.62 430.84,631.42 380.08,681.67 329.31,823.85 278.55,694.5 227.79,773.61 177.03,688.3 126.26,784.73 75.5,713.74" fill="#ff0000" fill-opacity="0.1"/>
<polygon points="75.5,610.04 126.26,695.57 177.03,626.08 227.79,766.77 278.55,613.25 329.31,738.33 380.08,651.73 430.84,646.39 481.6,658.58 481.6,722.72 430.84,787.51 380.08,685.94 329.31,781.09 278.55,697.92 227.79,792.42 177.03,660.29 126.26,776.82 75.5,682.74" fill="#0000ff" fill-opacity="0.1"/>
<polygon points="75.5,622.23 126.26,781.73 177.03,668.84 227.79,673.12 278.55,652.8 329.31,744.74 380.08,649.6 430.84,658.15 481.6,658.15 481.6,700.91 430.84,785.58 380.08,666.7 329.31,783.23 278.55,669.91 227.79,794.99 177.03,677.39 126.26,803.11 75.5,686.37" fill="#008000" fill-opacity="0.1"/>
<polygon points="75.5,691.93 126.26,725.93 177.03,638.48 227.79,745.81 278.55,639.98 329.31,732.56 380.08,628.22 430.84,671.41 481.6,663.92 481.6,689.58 430.84,698.77 380.08,657.29 329.31,771.04 278.55,691.29 227.79,780.02 177.03,702.62 126.26,777.24 75.5,734.69" fill="#ffa500" fill-opacity="0.1"/>
<polygon points="75.5,716.73 126.26,792.42 177.03,729.78 227.79,792.85 278.55,728.71 329.31,791.14 380.08,784.3 430.84,790.71 481.6,767.83 481.6,808.46 430.84,803.54 380.08,801.4 329.31,799.69 278.55,784.3 227.79,797.98 177.03,796.91 126.26,797.55 75.5,805.68" fill="#800080" fill-opacity="0.1"/>
</g>
<g clip-path="url(#clip01)">
<polyline points="75.5,653.87 126.26,771.9 177.03,649.17 227.79,747.95 278.55,661.36 329.31,757.57 380.08,653.87 430.84,593.58 481.6,653.45" fill="none" stroke="#ff0000" stroke-width="1.1" stroke-linejoin="round"/>
<path d="M75.5 649.87L77.6 653.87L75.5 657.87L73.4 653.87Z" fill="#ff0000" stroke="#000" stroke-width="0.9"/>
<path d="M126.26 767.9L128.36 771.9L126.26 775.9L124.16 771.9Z" fill="#ff0000" stroke="#000" stroke-width="0.9"/>
<path d="M177.03 645.17L179.12 649.17L177.03 653.17L174.93 649.17Z" fill="#ff0000" stroke="#000" stroke-width="0.9"/>
<path d="M227.79 743.95L229.89 747.95L227.79 751.95L225.69 747.95Z" fill="#ff0000" stroke="#000" stroke-width="0.9"/>
<path d="M278.55 657.36L280.65 661.36L278.55 665.36L276.45 661.36Z" fill="#ff0000" stroke="#000" stroke-width="0.9"/>
<path d="M329.31 753.57L331.41 757.57L329.31 761.57L327.21 757.57Z" fill="#ff0000" stroke="#000" stroke-width="0.9"/>
<path d="M380.08 649.87L382.18 653.87L380.08 657.87L377.98 653.87Z" fill="#ff0000" stroke="#000" stroke-width="0.9"/>
<path d="M430.84 589.58L432.94 593.58L430.84 597.58L428.74 593.58Z" fill="#ff0000" stroke="#000" stroke-width="0.9"/>
<path d="M481.6 649.45L483.7 653.45L481.6 657.45L479.5 653.45Z" fill="#ff0000" stroke="#000" stroke-width="0.9"/>
<polyline points="75.5,646.39 126.26,736.19 177.03,643.18 227.79,779.59 278.55,655.58 329.31,759.71 380.08,668.84 430.84,716.95 481.6,690.65" fill="none" stroke="#0000ff" stroke-width="1.1" stroke-linejoin="round"/>
<path d="M72.2 646.39H78.8M75.5 643.09V649.69" stroke="#0000ff" stroke-width="1.1" fill="none"/>
<path d="M122.96 736.19H129.56M126.26 732.89V739.49" stroke="#0000ff" stroke-width="1.1" fill="none"/>
<path d="M173.72 643.18H180.33M177.03 639.88V646.48" stroke="#0000ff" stroke-width="1.1" fill="none"/>
<path d="M224.49 779.59H231.09M227.79 776.29V782.89" stroke="#0000ff" stroke-width="1.1" fill="none"/>
<path d="M275.25 655.58H281.85M278.55 652.28V658.88" stroke="#0000ff" stroke-width="1.1" fill="none"/>
<path d="M326.01 759.71H332.61M329.31 756.41V763.01" stroke="#0000ff" stroke-width="1.1" fill="none"/>
<path d="M376.78 668.84H383.38M380.08 665.54V672.14" stroke="#0000ff" stroke-width="1.1" fill="none"/>
<path d="M427.54 716.95H434.14M430.84 713.65V720.25" stroke="#0000ff" stroke-width="1.1" fill="none"/>
<path d="M478.3 690.65H484.9M481.6 687.35V693.95" stroke="#0000ff" stroke-width="1.1" fill="none"/>
<polyline points="75.5,654.3 126.26,792.42 177.03,673.12 227.79,734.05 278.55,661.36 329.31,763.99 380.08,658.15 430.84,721.87 481.6,679.53" fill="none" stroke="#008000" stroke-width="1.1" stroke-linejoin="round"/>
<circle cx="75.5" cy="654.3" r="2.6" fill="#008000" stroke="#000" stroke-width="0.9"/>
<circle cx="126.26" cy="792.42" r="2.6" fill="#008000" stroke="#000" stroke-width="0.9"/>
<circle cx="177.03" cy="673.12" r="2.6" fill="#008000" stroke="#000" stroke-width="0.9"/>
<circle cx="227.79" cy="734.05" r="2.6" fill="#008000" stroke="#000" stroke-width="0.9"/>
<circle cx="278.55" cy="661.36" r="2.6" fill="#008000" stroke="#000" stroke-width="0.9"/>
<circle cx="329.31" cy="763.99" r="2.6" fill="#008000" stroke="#000" stroke-width="0.9"/>
<circle cx="380.08" cy="658.15" r="2.6" fill="#008000" stroke="#000" stroke-width="0.9"/>
<circle cx="430.84" cy="721.87" r="2.6" fill="#008000" stroke="#000" stroke-width="0.9"/>
<circle cx="481.6" cy="679.53" r="2.6" fill="#008000" stroke="#000" stroke-width="0.9"/>
<polyline points="75.5,713.31 126.26,751.59 177.03,670.55 227.79,762.92 278.55,665.63 329.31,751.8 380.08,642.75 430.84,685.09 481.6,676.75" fill="none" stroke="#ffa500" stroke-width="1.1" stroke-linejoin="round"/>
<path d="M75.5 710.81L78 715.81L73 715.81Z" fill="#ffa500" stroke="#000" stroke-width="0.8" stroke-linejoin="miter"/>
<path d="M126.26 749.09L128.76 754.09L123.76 754.09Z" fill="#ffa500" stroke="#000" stroke-width="0.8" stroke-linejoin="miter"/>
<path d="M177.03 668.05L179.53 673.05L174.53 673.05Z" fill="#ffa500" stroke="#000" stroke-width="0.8" stroke-linejoin="miter"/>
<path d="M227.79 760.42L230.29 765.42L225.29 765.42Z" fill="#ffa500" stroke="#000" stroke-width="0.8" stroke-linejoin="miter"/>
<path d="M278.55 663.13L281.05 668.13L276.05 668.13Z" fill="#ffa500" stroke="#000" stroke-width="0.8" stroke-linejoin="miter"/>
<path d="M329.31 749.3L331.81 754.3L326.81 754.3Z" fill="#ffa500" stroke="#000" stroke-width="0.8" stroke-linejoin="miter"/>
<path d="M380.08 640.25L382.58 645.25L377.58 645.25Z" fill="#ffa500" stroke="#000" stroke-width="0.8" stroke-linejoin="miter"/>
<path d="M430.84 682.59L433.34 687.59L428.34 687.59Z" fill="#ffa500" stroke="#000" stroke-width="0.8" stroke-linejoin="miter"/>
<path d="M481.6 674.25L484.1 679.25L479.1 679.25Z" fill="#ffa500" stroke="#000" stroke-width="0.8" stroke-linejoin="miter"/>
<polyline points="75.5,761.21 126.26,794.99 177.03,763.34 227.79,795.42 278.55,756.5 329.31,795.42 380.08,792.85 430.84,797.13 481.6,788.15" fill="none" stroke="#800080" stroke-width="1.1" stroke-linejoin="round"/>
<path d="M75.5 763.71L78 758.71L73 758.71Z" fill="#800080" stroke="#000" stroke-width="0.8" stroke-linejoin="miter"/>
<path d="M126.26 797.49L128.76 792.49L123.76 792.49Z" fill="#800080" stroke="#000" stroke-width="0.8" stroke-linejoin="miter"/>
<path d="M177.03 765.84L179.53 760.84L174.53 760.84Z" fill="#800080" stroke="#000" stroke-width="0.8" stroke-linejoin="miter"/>
<path d="M227.79 797.92L230.29 792.92L225.29 792.92Z" fill="#800080" stroke="#000" stroke-width="0.8" stroke-linejoin="miter"/>
<path d="M278.55 759L281.05 754L276.05 754Z" fill="#800080" stroke="#000" stroke-width="0.8" stroke-linejoin="miter"/>
<path d="M329.31 797.92L331.81 792.92L326.81 792.92Z" fill="#800080" stroke="#000" stroke-width="0.8" stroke-linejoin="miter"/>
<path d="M380.08 795.35L382.58 790.35L377.58 790.35Z" fill="#800080" stroke="#000" stroke-width="0.8" stroke-linejoin="miter"/>
<path d="M430.84 799.63L433.34 794.63L428.34 794.63Z" fill="#800080" stroke="#000" stroke-width="0.8" stroke-linejoin="miter"/>
<path d="M481.6 790.65L484.1 785.65L479.1 785.65Z" fill="#800080" stroke="#000" stroke-width="0.8" stroke-linejoin="miter"/>
</g>
<line x1="91.73" y1="568.7" x2="129.14" y2="568.7" stroke="#ff0000" stroke-width="1.1"/>
<path d="M110.44 564.7L112.54 568.7L110.44 572.7L108.34 568.7Z" fill="#ff0000" stroke="#000" stroke-width="0.9"/>
<text transform="translate(143.31 575.59) scale(0.985 1)" class="lg">SDNE</text>
<line x1="91.73" y1="596.07" x2="129.14" y2="596.07" stroke="#0000ff" stroke-width="1.1"/>
<path d="M107.14 596.07H113.74M110.44 592.77V599.37" stroke="#0000ff" stroke-width="1.1" fill="none"/>
<text transform="translate(143.31 602.96) scale(0.985 1)" class="lg">DeepWalk</text>
<line x1="91.73" y1="623.65" x2="129.14" y2="623.65" stroke="#008000" stroke-width="1.1"/>
<circle cx="110.44" cy="623.65" r="2.6" fill="#008000" stroke="#000" stroke-width="0.9"/>
<text transform="translate(143.31 630.54) scale(0.985 1)" class="lg">N2V-S</text>
<line x1="91.73" y1="651.02" x2="129.14" y2="651.02" stroke="#ffa500" stroke-width="1.1"/>
<path d="M110.44 648.52L112.94 653.52L107.94 653.52Z" fill="#ffa500" stroke="#000" stroke-width="0.8" stroke-linejoin="miter"/>
<text transform="translate(143.31 657.9) scale(0.985 1)" class="lg">N2V-H</text>
<line x1="91.73" y1="678.38" x2="129.14" y2="678.38" stroke="#800080" stroke-width="1.1"/>
<path d="M110.44 680.88L112.94 675.88L107.94 675.88Z" fill="#800080" stroke="#000" stroke-width="0.8" stroke-linejoin="miter"/>
<text transform="translate(143.31 685.27) scale(0.985 1)" class="lg">PD</text>
<rect x="75.5" y="544.4" width="406.1" height="303.9" fill="none" stroke="#000" stroke-width="1.1"/>
<path d="M75.5 848.3v-3.6M75.5 544.4v3.6M126.26 848.3v-3.6M126.26 544.4v3.6M177.03 848.3v-3.6M177.03 544.4v3.6M227.79 848.3v-3.6M227.79 544.4v3.6M278.55 848.3v-3.6M278.55 544.4v3.6M329.31 848.3v-3.6M329.31 544.4v3.6M380.08 848.3v-3.6M380.08 544.4v3.6M430.84 848.3v-3.6M430.84 544.4v3.6M481.6 848.3v-3.6M481.6 544.4v3.6M75.5 848.3h3.6M481.6 848.3h-3.6M75.5 810.31h3.6M481.6 810.31h-3.6M75.5 772.32h3.6M481.6 772.32h-3.6M75.5 734.34h3.6M481.6 734.34h-3.6M75.5 696.35h3.6M481.6 696.35h-3.6M75.5 658.36h3.6M481.6 658.36h-3.6M75.5 620.38h3.6M481.6 620.38h-3.6M75.5 582.39h3.6M481.6 582.39h-3.6M75.5 544.4h3.6M481.6 544.4h-3.6" stroke="#000" stroke-width="1" fill="none"/>
<text transform="translate(71.7 853.6) scale(0.975 1)" class="tk" text-anchor="end">0.06</text>
<text transform="translate(71.7 815.61) scale(0.975 1)" class="tk" text-anchor="end">0.08</text>
<text transform="translate(71.7 777.62) scale(0.975 1)" class="tk" text-anchor="end">0.10</text>
<text transform="translate(71.7 739.64) scale(0.975 1)" class="tk" text-anchor="end">0.12</text>
<text transform="translate(71.7 701.65) scale(0.975 1)" class="tk" text-anchor="end">0.14</text>
<text transform="translate(71.7 663.66) scale(0.975 1)" class="tk" text-anchor="end">0.16</text>
<text transform="translate(71.7 625.67) scale(0.975 1)" class="tk" text-anchor="end">0.18</text>
<text transform="translate(71.7 587.69) scale(0.975 1)" class="tk" text-anchor="end">0.20</text>
<text transform="translate(71.7 549.7) scale(0.975 1)" class="tk" text-anchor="end">0.22</text>
<text x="75.5" y="866.2" class="tk" text-anchor="middle">0.1</text>
<text x="126.26" y="866.2" class="tk" text-anchor="middle">0.2</text>
<text x="177.03" y="866.2" class="tk" text-anchor="middle">0.3</text>
<text x="227.79" y="866.2" class="tk" text-anchor="middle">0.4</text>
<text x="278.55" y="866.2" class="tk" text-anchor="middle">0.5</text>
<text x="329.31" y="866.2" class="tk" text-anchor="middle">0.6</text>
<text x="380.08" y="866.2" class="tk" text-anchor="middle">0.7</text>
<text x="430.84" y="866.2" class="tk" text-anchor="middle">0.8</text>
<text x="481.6" y="866.2" class="tk" text-anchor="middle">0.9</text>
<text x="64.5" y="895.5" class="xl" textLength="108.5" lengthAdjust="spacingAndGlyphs">Fraction</text>
<text x="177.5" y="895.5" class="xl" textLength="26" lengthAdjust="spacingAndGlyphs">of</text>
<text x="212" y="895.5" class="xl" textLength="95" lengthAdjust="spacingAndGlyphs">Labeled</text>
<text x="310" y="895.5" class="xl" textLength="117.5" lengthAdjust="spacingAndGlyphs">Training</text>
<text x="431.5" y="895.5" class="xl" textLength="63" lengthAdjust="spacingAndGlyphs">Data</text>
<text transform="translate(20.3 696.35) rotate(-90)" class="yl" text-anchor="middle" textLength="67.8" lengthAdjust="spacingAndGlyphs">Score</text>
<text x="18.4" y="973" class="cb" textLength="53" lengthAdjust="spacingAndGlyphs"><tspan font-size="44">(</tspan>e<tspan font-size="44">)</tspan></text>
<text x="85.6" y="973" class="ct" textLength="381.2" lengthAdjust="spacingAndGlyphs">Macro Email-EU</text>
<clipPath id="clip11"><rect x="587.6" y="544.4" width="406.1" height="303.9"/></clipPath>
<g clip-path="url(#clip11)">
<polygon points="587.6,729.78 638.36,667.13 689.12,747.31 739.89,661.78 790.65,757.57 841.41,667.13 892.18,735.55 942.94,625.01 993.7,741.54 993.7,777.88 942.94,727.64 892.18,765.48 841.41,679.96 790.65,778.95 739.89,789.22 689.12,772.11 638.36,806.11 587.6,757.57" fill="#ff0000" fill-opacity="0.1"/>
<polygon points="587.6,631.42 638.36,644.04 689.12,608.54 739.89,639.55 790.65,615.39 841.41,637.41 892.18,577.33 942.94,619.02 993.7,629.71 993.7,655.37 942.94,661.78 892.18,632.06 841.41,658.79 790.65,641.04 739.89,652.38 689.12,614.96 638.36,666.7 587.6,676.32" fill="#0000ff" fill-opacity="0.1"/>
<polygon points="587.6,633.99 638.36,634.2 689.12,625.01 739.89,613.25 790.65,595.72 841.41,643.18 892.18,598.92 942.94,594.65 993.7,622.66 993.7,675.25 942.94,688.72 892.18,609.61 841.41,664.56 790.65,640.62 739.89,648.74 689.12,635.7 638.36,651.31 587.6,659.65" fill="#008000" fill-opacity="0.1"/>
<polygon points="587.6,619.66 638.36,639.55 689.12,627.79 739.89,637.41 790.65,621.37 841.41,626.51 892.18,605.12 942.94,609.61 993.7,613.89 993.7,643.82 942.94,635.27 892.18,628.64 841.41,667.13 790.65,632.06 739.89,645.96 689.12,640.62 638.36,648.1 587.6,653.02" fill="#ffa500" fill-opacity="0.1"/>
<polygon points="587.6,641.47 638.36,631.42 689.12,628 739.89,635.27 790.65,633.56 841.41,629.93 892.18,604.27 942.94,630.35 993.7,555.95 993.7,674.83 942.94,656.01 892.18,655.58 841.41,647.03 790.65,639.98 739.89,641.69 689.12,661.36 638.36,642.11 587.6,650.02" fill="#800080" fill-opacity="0.1"/>
</g>
<g clip-path="url(#clip11)">
<polyline points="587.6,743.67 638.36,736.62 689.12,759.71 739.89,725.5 790.65,768.26 841.41,673.54 892.18,750.52 942.94,676.32 993.7,759.71" fill="none" stroke="#ff0000" stroke-width="1.1" stroke-linejoin="round"/>
<path d="M587.6 739.67L589.7 743.67L587.6 747.67L585.5 743.67Z" fill="#ff0000" stroke="#000" stroke-width="0.9"/>
<path d="M638.36 732.62L640.46 736.62L638.36 740.62L636.26 736.62Z" fill="#ff0000" stroke="#000" stroke-width="0.9"/>
<path d="M689.12 755.71L691.23 759.71L689.12 763.71L687.02 759.71Z" fill="#ff0000" stroke="#000" stroke-width="0.9"/>
<path d="M739.89 721.5L741.99 725.5L739.89 729.5L737.79 725.5Z" fill="#ff0000" stroke="#000" stroke-width="0.9"/>
<path d="M790.65 764.26L792.75 768.26L790.65 772.26L788.55 768.26Z" fill="#ff0000" stroke="#000" stroke-width="0.9"/>
<path d="M841.41 669.54L843.51 673.54L841.41 677.54L839.31 673.54Z" fill="#ff0000" stroke="#000" stroke-width="0.9"/>
<path d="M892.18 746.52L894.28 750.52L892.18 754.52L890.08 750.52Z" fill="#ff0000" stroke="#000" stroke-width="0.9"/>
<path d="M942.94 672.32L945.04 676.32L942.94 680.32L940.84 676.32Z" fill="#ff0000" stroke="#000" stroke-width="0.9"/>
<path d="M993.7 755.71L995.8 759.71L993.7 763.71L991.6 759.71Z" fill="#ff0000" stroke="#000" stroke-width="0.9"/>
<polyline points="587.6,653.87 638.36,655.37 689.12,611.75 739.89,645.96 790.65,628.22 841.41,648.1 892.18,604.7 942.94,640.4 993.7,642.54" fill="none" stroke="#0000ff" stroke-width="1.1" stroke-linejoin="round"/>
<path d="M584.3 653.87H590.9M587.6 650.57V657.17" stroke="#0000ff" stroke-width="1.1" fill="none"/>
<path d="M635.06 655.37H641.66M638.36 652.07V658.67" stroke="#0000ff" stroke-width="1.1" fill="none"/>
<path d="M685.83 611.75H692.42M689.12 608.45V615.05" stroke="#0000ff" stroke-width="1.1" fill="none"/>
<path d="M736.59 645.96H743.19M739.89 642.66V649.26" stroke="#0000ff" stroke-width="1.1" fill="none"/>
<path d="M787.35 628.22H793.95M790.65 624.92V631.52" stroke="#0000ff" stroke-width="1.1" fill="none"/>
<path d="M838.11 648.1H844.71M841.41 644.8V651.4" stroke="#0000ff" stroke-width="1.1" fill="none"/>
<path d="M888.88 604.7H895.48M892.18 601.4V608" stroke="#0000ff" stroke-width="1.1" fill="none"/>
<path d="M939.64 640.4H946.24M942.94 637.1V643.7" stroke="#0000ff" stroke-width="1.1" fill="none"/>
<path d="M990.4 642.54H997M993.7 639.24V645.84" stroke="#0000ff" stroke-width="1.1" fill="none"/>
<polyline points="587.6,646.82 638.36,642.75 689.12,630.35 739.89,631 790.65,618.17 841.41,653.87 892.18,604.27 942.94,641.69 993.7,648.96" fill="none" stroke="#008000" stroke-width="1.1" stroke-linejoin="round"/>
<circle cx="587.6" cy="646.82" r="2.6" fill="#008000" stroke="#000" stroke-width="0.9"/>
<circle cx="638.36" cy="642.75" r="2.6" fill="#008000" stroke="#000" stroke-width="0.9"/>
<circle cx="689.12" cy="630.35" r="2.6" fill="#008000" stroke="#000" stroke-width="0.9"/>
<circle cx="739.89" cy="631" r="2.6" fill="#008000" stroke="#000" stroke-width="0.9"/>
<circle cx="790.65" cy="618.17" r="2.6" fill="#008000" stroke="#000" stroke-width="0.9"/>
<circle cx="841.41" cy="653.87" r="2.6" fill="#008000" stroke="#000" stroke-width="0.9"/>
<circle cx="892.18" cy="604.27" r="2.6" fill="#008000" stroke="#000" stroke-width="0.9"/>
<circle cx="942.94" cy="641.69" r="2.6" fill="#008000" stroke="#000" stroke-width="0.9"/>
<circle cx="993.7" cy="648.96" r="2.6" fill="#008000" stroke="#000" stroke-width="0.9"/>
<polyline points="587.6,636.34 638.36,643.82 689.12,634.2 739.89,641.69 790.65,626.72 841.41,646.82 892.18,616.88 942.94,622.44 993.7,628.86" fill="none" stroke="#ffa500" stroke-width="1.1" stroke-linejoin="round"/>
<path d="M587.6 633.84L590.1 638.84L585.1 638.84Z" fill="#ffa500" stroke="#000" stroke-width="0.8" stroke-linejoin="miter"/>
<path d="M638.36 641.32L640.86 646.32L635.86 646.32Z" fill="#ffa500" stroke="#000" stroke-width="0.8" stroke-linejoin="miter"/>
<path d="M689.12 631.7L691.62 636.7L686.62 636.7Z" fill="#ffa500" stroke="#000" stroke-width="0.8" stroke-linejoin="miter"/>
<path d="M739.89 639.19L742.39 644.19L737.39 644.19Z" fill="#ffa500" stroke="#000" stroke-width="0.8" stroke-linejoin="miter"/>
<path d="M790.65 624.22L793.15 629.22L788.15 629.22Z" fill="#ffa500" stroke="#000" stroke-width="0.8" stroke-linejoin="miter"/>
<path d="M841.41 644.32L843.91 649.32L838.91 649.32Z" fill="#ffa500" stroke="#000" stroke-width="0.8" stroke-linejoin="miter"/>
<path d="M892.18 614.38L894.68 619.38L889.68 619.38Z" fill="#ffa500" stroke="#000" stroke-width="0.8" stroke-linejoin="miter"/>
<path d="M942.94 619.94L945.44 624.94L940.44 624.94Z" fill="#ffa500" stroke="#000" stroke-width="0.8" stroke-linejoin="miter"/>
<path d="M993.7 626.36L996.2 631.36L991.2 631.36Z" fill="#ffa500" stroke="#000" stroke-width="0.8" stroke-linejoin="miter"/>
<polyline points="587.6,645.75 638.36,636.77 689.12,644.68 739.89,638.48 790.65,636.77 841.41,638.48 892.18,629.93 942.94,643.18 993.7,615.39" fill="none" stroke="#800080" stroke-width="1.1" stroke-linejoin="round"/>
<path d="M587.6 648.25L590.1 643.25L585.1 643.25Z" fill="#800080" stroke="#000" stroke-width="0.8" stroke-linejoin="miter"/>
<path d="M638.36 639.27L640.86 634.27L635.86 634.27Z" fill="#800080" stroke="#000" stroke-width="0.8" stroke-linejoin="miter"/>
<path d="M689.12 647.18L691.62 642.18L686.62 642.18Z" fill="#800080" stroke="#000" stroke-width="0.8" stroke-linejoin="miter"/>
<path d="M739.89 640.98L742.39 635.98L737.39 635.98Z" fill="#800080" stroke="#000" stroke-width="0.8" stroke-linejoin="miter"/>
<path d="M790.65 639.27L793.15 634.27L788.15 634.27Z" fill="#800080" stroke="#000" stroke-width="0.8" stroke-linejoin="miter"/>
<path d="M841.41 640.98L843.91 635.98L838.91 635.98Z" fill="#800080" stroke="#000" stroke-width="0.8" stroke-linejoin="miter"/>
<path d="M892.18 632.43L894.68 627.43L889.68 627.43Z" fill="#800080" stroke="#000" stroke-width="0.8" stroke-linejoin="miter"/>
<path d="M942.94 645.68L945.44 640.68L940.44 640.68Z" fill="#800080" stroke="#000" stroke-width="0.8" stroke-linejoin="miter"/>
<path d="M993.7 617.89L996.2 612.89L991.2 612.89Z" fill="#800080" stroke="#000" stroke-width="0.8" stroke-linejoin="miter"/>
</g>
<line x1="831.37" y1="712.38" x2="868.78" y2="712.38" stroke="#ff0000" stroke-width="1.1"/>
<path d="M850.08 708.38L852.18 712.38L850.08 716.38L847.98 712.38Z" fill="#ff0000" stroke="#000" stroke-width="0.9"/>
<text transform="translate(882.95 719.27) scale(0.985 1)" class="lg">SDNE</text>
<line x1="831.37" y1="739.75" x2="868.78" y2="739.75" stroke="#0000ff" stroke-width="1.1"/>
<path d="M846.78 739.75H853.38M850.08 736.45V743.05" stroke="#0000ff" stroke-width="1.1" fill="none"/>
<text transform="translate(882.95 746.64) scale(0.985 1)" class="lg">DeepWalk</text>
<line x1="831.37" y1="766.9" x2="868.78" y2="766.9" stroke="#008000" stroke-width="1.1"/>
<circle cx="850.08" cy="766.9" r="2.6" fill="#008000" stroke="#000" stroke-width="0.9"/>
<text transform="translate(882.95 773.79) scale(0.985 1)" class="lg">N2V-S</text>
<line x1="831.37" y1="794.27" x2="868.78" y2="794.27" stroke="#ffa500" stroke-width="1.1"/>
<path d="M850.08 791.77L852.58 796.77L847.58 796.77Z" fill="#ffa500" stroke="#000" stroke-width="0.8" stroke-linejoin="miter"/>
<text transform="translate(882.95 801.16) scale(0.985 1)" class="lg">N2V-H</text>
<line x1="831.37" y1="821.64" x2="868.78" y2="821.64" stroke="#800080" stroke-width="1.1"/>
<path d="M850.08 824.14L852.58 819.14L847.58 819.14Z" fill="#800080" stroke="#000" stroke-width="0.8" stroke-linejoin="miter"/>
<text transform="translate(882.95 828.53) scale(0.985 1)" class="lg">PD</text>
<rect x="587.6" y="544.4" width="406.1" height="303.9" fill="none" stroke="#000" stroke-width="1.1"/>
<path d="M587.6 848.3v-3.6M587.6 544.4v3.6M638.36 848.3v-3.6M638.36 544.4v3.6M689.12 848.3v-3.6M689.12 544.4v3.6M739.89 848.3v-3.6M739.89 544.4v3.6M790.65 848.3v-3.6M790.65 544.4v3.6M841.41 848.3v-3.6M841.41 544.4v3.6M892.18 848.3v-3.6M892.18 544.4v3.6M942.94 848.3v-3.6M942.94 544.4v3.6M993.7 848.3v-3.6M993.7 544.4v3.6M587.6 848.3h3.6M993.7 848.3h-3.6M587.6 797.65h3.6M993.7 797.65h-3.6M587.6 747h3.6M993.7 747h-3.6M587.6 696.35h3.6M993.7 696.35h-3.6M587.6 645.7h3.6M993.7 645.7h-3.6M587.6 595.05h3.6M993.7 595.05h-3.6M587.6 544.4h3.6M993.7 544.4h-3.6" stroke="#000" stroke-width="1" fill="none"/>
<text transform="translate(583.8 853.6) scale(0.975 1)" class="tk" text-anchor="end">0.15</text>
<text transform="translate(583.8 802.95) scale(0.975 1)" class="tk" text-anchor="end">0.20</text>
<text transform="translate(583.8 752.3) scale(0.975 1)" class="tk" text-anchor="end">0.25</text>
<text transform="translate(583.8 701.65) scale(0.975 1)" class="tk" text-anchor="end">0.30</text>
<text transform="translate(583.8 651) scale(0.975 1)" class="tk" text-anchor="end">0.35</text>
<text transform="translate(583.8 600.35) scale(0.975 1)" class="tk" text-anchor="end">0.40</text>
<text transform="translate(583.8 549.7) scale(0.975 1)" class="tk" text-anchor="end">0.45</text>
<text x="587.6" y="866.2" class="tk" text-anchor="middle">0.1</text>
<text x="638.36" y="866.2" class="tk" text-anchor="middle">0.2</text>
<text x="689.12" y="866.2" class="tk" text-anchor="middle">0.3</text>
<text x="739.89" y="866.2" class="tk" text-anchor="middle">0.4</text>
<text x="790.65" y="866.2" class="tk" text-anchor="middle">0.5</text>
<text x="841.41" y="866.2" class="tk" text-anchor="middle">0.6</text>
<text x="892.18" y="866.2" class="tk" text-anchor="middle">0.7</text>
<text x="942.94" y="866.2" class="tk" text-anchor="middle">0.8</text>
<text x="993.7" y="866.2" class="tk" text-anchor="middle">0.9</text>
<text x="576.6" y="895.5" class="xl" textLength="108.5" lengthAdjust="spacingAndGlyphs">Fraction</text>
<text x="689.6" y="895.5" class="xl" textLength="26" lengthAdjust="spacingAndGlyphs">of</text>
<text x="724.1" y="895.5" class="xl" textLength="95" lengthAdjust="spacingAndGlyphs">Labeled</text>
<text x="822.1" y="895.5" class="xl" textLength="117.5" lengthAdjust="spacingAndGlyphs">Training</text>
<text x="943.6" y="895.5" class="xl" textLength="63" lengthAdjust="spacingAndGlyphs">Data</text>
<text transform="translate(532.4 696.35) rotate(-90)" class="yl" text-anchor="middle" textLength="67.8" lengthAdjust="spacingAndGlyphs">Score</text>
<text x="538.6" y="973" class="cb" textLength="46.6" lengthAdjust="spacingAndGlyphs"><tspan font-size="44">(</tspan>f<tspan font-size="44">)</tspan></text>
<text x="600.4" y="973" class="ct" textLength="368.8" lengthAdjust="spacingAndGlyphs">Micro Email-EU</text>
<clipPath id="clip21"><rect x="1099.7" y="544.4" width="406.1" height="303.9"/></clipPath>
<g clip-path="url(#clip21)">
<polygon points="1099.7,661.14 1150.46,631.42 1201.23,601.92 1251.99,602.56 1302.75,581.82 1353.51,613.68 1404.28,596.14 1455.04,605.34 1505.8,585.45 1505.8,670.12 1455.04,622.44 1404.28,649.6 1353.51,630.78 1302.75,616.03 1251.99,632.49 1201.23,648.96 1150.46,661.36 1099.7,685.94" fill="#ff0000" fill-opacity="0.1"/>
<polygon points="1099.7,612.61 1150.46,607.26 1201.23,579.47 1251.99,602.99 1302.75,562.58 1353.51,570.49 1404.28,603.2 1455.04,649.81 1505.8,642.75 1505.8,664.14 1455.04,684.88 1404.28,628.86 1353.51,611.97 1302.75,643.82 1251.99,645.75 1201.23,649.17 1150.46,689.79 1099.7,659.65" fill="#0000ff" fill-opacity="0.1"/>
<polygon points="1099.7,581.6 1150.46,587.59 1201.23,552.74 1251.99,545.9 1302.75,626.93 1353.51,629.07 1404.28,623.3 1455.04,607.9 1505.8,610.9 1505.8,704.12 1455.04,642.11 1404.28,648.96 1353.51,656.44 1302.75,658.58 1251.99,604.48 1201.23,625.44 1150.46,619.66 1099.7,662.85" fill="#008000" fill-opacity="0.1"/>
<polygon points="1099.7,627.57 1150.46,572.62 1201.23,593.36 1251.99,623.94 1302.75,597.21 1353.51,597.85 1404.28,588.02 1455.04,621.16 1505.8,611.54 1505.8,650.02 1455.04,646.82 1404.28,651.31 1353.51,632.06 1302.75,661.36 1251.99,649.6 1201.23,627.57 1150.46,619.66 1099.7,661.78" fill="#ffa500" fill-opacity="0.1"/>
<polygon points="1099.7,807.39 1150.46,808.46 1201.23,792.21 1251.99,807.18 1302.75,784.94 1353.51,813.8 1404.28,813.38 1455.04,706.26 1505.8,800.33 1505.8,821.72 1455.04,793.92 1404.28,818.51 1353.51,818.08 1302.75,817.01 1251.99,813.59 1201.23,815.73 1150.46,814.87 1099.7,813.8" fill="#800080" fill-opacity="0.1"/>
</g>
<g clip-path="url(#clip21)">
<polyline points="1099.7,673.54 1150.46,646.39 1201.23,625.44 1251.99,617.52 1302.75,598.92 1353.51,622.23 1404.28,622.87 1455.04,613.89 1505.8,627.79" fill="none" stroke="#ff0000" stroke-width="1.1" stroke-linejoin="round"/>
<path d="M1099.7 669.54L1101.8 673.54L1099.7 677.54L1097.6 673.54Z" fill="#ff0000" stroke="#000" stroke-width="0.9"/>
<path d="M1150.46 642.39L1152.56 646.39L1150.46 650.39L1148.36 646.39Z" fill="#ff0000" stroke="#000" stroke-width="0.9"/>
<path d="M1201.23 621.44L1203.33 625.44L1201.23 629.44L1199.13 625.44Z" fill="#ff0000" stroke="#000" stroke-width="0.9"/>
<path d="M1251.99 613.52L1254.09 617.52L1251.99 621.52L1249.89 617.52Z" fill="#ff0000" stroke="#000" stroke-width="0.9"/>
<path d="M1302.75 594.92L1304.85 598.92L1302.75 602.92L1300.65 598.92Z" fill="#ff0000" stroke="#000" stroke-width="0.9"/>
<path d="M1353.51 618.23L1355.61 622.23L1353.51 626.23L1351.41 622.23Z" fill="#ff0000" stroke="#000" stroke-width="0.9"/>
<path d="M1404.28 618.87L1406.38 622.87L1404.28 626.87L1402.18 622.87Z" fill="#ff0000" stroke="#000" stroke-width="0.9"/>
<path d="M1455.04 609.89L1457.14 613.89L1455.04 617.89L1452.94 613.89Z" fill="#ff0000" stroke="#000" stroke-width="0.9"/>
<path d="M1505.8 623.79L1507.9 627.79L1505.8 631.79L1503.7 627.79Z" fill="#ff0000" stroke="#000" stroke-width="0.9"/>
<polyline points="1099.7,636.13 1150.46,648.53 1201.23,614.32 1251.99,624.37 1302.75,603.2 1353.51,591.23 1404.28,616.03 1455.04,667.34 1505.8,653.45" fill="none" stroke="#0000ff" stroke-width="1.1" stroke-linejoin="round"/>
<path d="M1096.4 636.13H1103M1099.7 632.83V639.43" stroke="#0000ff" stroke-width="1.1" fill="none"/>
<path d="M1147.16 648.53H1153.76M1150.46 645.23V651.83" stroke="#0000ff" stroke-width="1.1" fill="none"/>
<path d="M1197.93 614.32H1204.53M1201.23 611.02V617.62" stroke="#0000ff" stroke-width="1.1" fill="none"/>
<path d="M1248.69 624.37H1255.29M1251.99 621.07V627.67" stroke="#0000ff" stroke-width="1.1" fill="none"/>
<path d="M1299.45 603.2H1306.05M1302.75 599.9V606.5" stroke="#0000ff" stroke-width="1.1" fill="none"/>
<path d="M1350.21 591.23H1356.81M1353.51 587.93V594.53" stroke="#0000ff" stroke-width="1.1" fill="none"/>
<path d="M1400.98 616.03H1407.58M1404.28 612.73V619.33" stroke="#0000ff" stroke-width="1.1" fill="none"/>
<path d="M1451.74 667.34H1458.34M1455.04 664.04V670.64" stroke="#0000ff" stroke-width="1.1" fill="none"/>
<path d="M1502.5 653.45H1509.1M1505.8 650.15V656.75" stroke="#0000ff" stroke-width="1.1" fill="none"/>
<polyline points="1099.7,622.23 1150.46,603.63 1201.23,589.09 1251.99,575.19 1302.75,642.75 1353.51,642.75 1404.28,636.13 1455.04,625.01 1505.8,657.51" fill="none" stroke="#008000" stroke-width="1.1" stroke-linejoin="round"/>
<circle cx="1099.7" cy="622.23" r="2.6" fill="#008000" stroke="#000" stroke-width="0.9"/>
<circle cx="1150.46" cy="603.63" r="2.6" fill="#008000" stroke="#000" stroke-width="0.9"/>
<circle cx="1201.23" cy="589.09" r="2.6" fill="#008000" stroke="#000" stroke-width="0.9"/>
<circle cx="1251.99" cy="575.19" r="2.6" fill="#008000" stroke="#000" stroke-width="0.9"/>
<circle cx="1302.75" cy="642.75" r="2.6" fill="#008000" stroke="#000" stroke-width="0.9"/>
<circle cx="1353.51" cy="642.75" r="2.6" fill="#008000" stroke="#000" stroke-width="0.9"/>
<circle cx="1404.28" cy="636.13" r="2.6" fill="#008000" stroke="#000" stroke-width="0.9"/>
<circle cx="1455.04" cy="625.01" r="2.6" fill="#008000" stroke="#000" stroke-width="0.9"/>
<circle cx="1505.8" cy="657.51" r="2.6" fill="#008000" stroke="#000" stroke-width="0.9"/>
<polyline points="1099.7,644.68 1150.46,596.14 1201.23,610.47 1251.99,636.77 1302.75,629.28 1353.51,614.96 1404.28,619.66 1455.04,633.99 1505.8,630.78" fill="none" stroke="#ffa500" stroke-width="1.1" stroke-linejoin="round"/>
<path d="M1099.7 642.18L1102.2 647.18L1097.2 647.18Z" fill="#ffa500" stroke="#000" stroke-width="0.8" stroke-linejoin="miter"/>
<path d="M1150.46 593.64L1152.96 598.64L1147.96 598.64Z" fill="#ffa500" stroke="#000" stroke-width="0.8" stroke-linejoin="miter"/>
<path d="M1201.23 607.97L1203.73 612.97L1198.73 612.97Z" fill="#ffa500" stroke="#000" stroke-width="0.8" stroke-linejoin="miter"/>
<path d="M1251.99 634.27L1254.49 639.27L1249.49 639.27Z" fill="#ffa500" stroke="#000" stroke-width="0.8" stroke-linejoin="miter"/>
<path d="M1302.75 626.78L1305.25 631.78L1300.25 631.78Z" fill="#ffa500" stroke="#000" stroke-width="0.8" stroke-linejoin="miter"/>
<path d="M1353.51 612.46L1356.01 617.46L1351.01 617.46Z" fill="#ffa500" stroke="#000" stroke-width="0.8" stroke-linejoin="miter"/>
<path d="M1404.28 617.16L1406.78 622.16L1401.78 622.16Z" fill="#ffa500" stroke="#000" stroke-width="0.8" stroke-linejoin="miter"/>
<path d="M1455.04 631.49L1457.54 636.49L1452.54 636.49Z" fill="#ffa500" stroke="#000" stroke-width="0.8" stroke-linejoin="miter"/>
<path d="M1505.8 628.28L1508.3 633.28L1503.3 633.28Z" fill="#ffa500" stroke="#000" stroke-width="0.8" stroke-linejoin="miter"/>
<polyline points="1099.7,810.6 1150.46,811.67 1201.23,803.97 1251.99,810.38 1302.75,800.98 1353.51,815.94 1404.28,815.94 1455.04,750.09 1505.8,811.03" fill="none" stroke="#800080" stroke-width="1.1" stroke-linejoin="round"/>
<path d="M1099.7 813.1L1102.2 808.1L1097.2 808.1Z" fill="#800080" stroke="#000" stroke-width="0.8" stroke-linejoin="miter"/>
<path d="M1150.46 814.17L1152.96 809.17L1147.96 809.17Z" fill="#800080" stroke="#000" stroke-width="0.8" stroke-linejoin="miter"/>
<path d="M1201.23 806.47L1203.73 801.47L1198.73 801.47Z" fill="#800080" stroke="#000" stroke-width="0.8" stroke-linejoin="miter"/>
<path d="M1251.99 812.88L1254.49 807.88L1249.49 807.88Z" fill="#800080" stroke="#000" stroke-width="0.8" stroke-linejoin="miter"/>
<path d="M1302.75 803.48L1305.25 798.48L1300.25 798.48Z" fill="#800080" stroke="#000" stroke-width="0.8" stroke-linejoin="miter"/>
<path d="M1353.51 818.44L1356.01 813.44L1351.01 813.44Z" fill="#800080" stroke="#000" stroke-width="0.8" stroke-linejoin="miter"/>
<path d="M1404.28 818.44L1406.78 813.44L1401.78 813.44Z" fill="#800080" stroke="#000" stroke-width="0.8" stroke-linejoin="miter"/>
<path d="M1455.04 752.59L1457.54 747.59L1452.54 747.59Z" fill="#800080" stroke="#000" stroke-width="0.8" stroke-linejoin="miter"/>
<path d="M1505.8 813.53L1508.3 808.53L1503.3 808.53Z" fill="#800080" stroke="#000" stroke-width="0.8" stroke-linejoin="miter"/>
</g>
<line x1="1116.09" y1="712.38" x2="1153.5" y2="712.38" stroke="#ff0000" stroke-width="1.1"/>
<path d="M1134.79 708.38L1136.89 712.38L1134.79 716.38L1132.69 712.38Z" fill="#ff0000" stroke="#000" stroke-width="0.9"/>
<text transform="translate(1167.88 719.27) scale(0.985 1)" class="lg">SDNE</text>
<line x1="1116.09" y1="739.75" x2="1153.5" y2="739.75" stroke="#0000ff" stroke-width="1.1"/>
<path d="M1131.49 739.75H1138.09M1134.79 736.45V743.05" stroke="#0000ff" stroke-width="1.1" fill="none"/>
<text transform="translate(1167.88 746.64) scale(0.985 1)" class="lg">DeepWalk</text>
<line x1="1116.09" y1="766.9" x2="1153.5" y2="766.9" stroke="#008000" stroke-width="1.1"/>
<circle cx="1134.79" cy="766.9" r="2.6" fill="#008000" stroke="#000" stroke-width="0.9"/>
<text transform="translate(1167.88 773.79) scale(0.985 1)" class="lg">N2V-S</text>
<line x1="1116.09" y1="794.27" x2="1153.5" y2="794.27" stroke="#ffa500" stroke-width="1.1"/>
<path d="M1134.79 791.77L1137.29 796.77L1132.29 796.77Z" fill="#ffa500" stroke="#000" stroke-width="0.8" stroke-linejoin="miter"/>
<text transform="translate(1167.88 801.16) scale(0.985 1)" class="lg">N2V-H</text>
<line x1="1116.09" y1="821.64" x2="1153.5" y2="821.64" stroke="#800080" stroke-width="1.1"/>
<path d="M1134.79 824.14L1137.29 819.14L1132.29 819.14Z" fill="#800080" stroke="#000" stroke-width="0.8" stroke-linejoin="miter"/>
<text transform="translate(1167.88 828.53) scale(0.985 1)" class="lg">PD</text>
<rect x="1099.7" y="544.4" width="406.1" height="303.9" fill="none" stroke="#000" stroke-width="1.1"/>
<path d="M1099.7 848.3v-3.6M1099.7 544.4v3.6M1150.46 848.3v-3.6M1150.46 544.4v3.6M1201.23 848.3v-3.6M1201.23 544.4v3.6M1251.99 848.3v-3.6M1251.99 544.4v3.6M1302.75 848.3v-3.6M1302.75 544.4v3.6M1353.51 848.3v-3.6M1353.51 544.4v3.6M1404.28 848.3v-3.6M1404.28 544.4v3.6M1455.04 848.3v-3.6M1455.04 544.4v3.6M1505.8 848.3v-3.6M1505.8 544.4v3.6M1099.7 848.3h3.6M1505.8 848.3h-3.6M1099.7 804.89h3.6M1505.8 804.89h-3.6M1099.7 761.47h3.6M1505.8 761.47h-3.6M1099.7 718.06h3.6M1505.8 718.06h-3.6M1099.7 674.64h3.6M1505.8 674.64h-3.6M1099.7 631.23h3.6M1505.8 631.23h-3.6M1099.7 587.81h3.6M1505.8 587.81h-3.6M1099.7 544.4h3.6M1505.8 544.4h-3.6" stroke="#000" stroke-width="1" fill="none"/>
<text transform="translate(1095.9 853.6) scale(0.975 1)" class="tk" text-anchor="end">0.06</text>
<text transform="translate(1095.9 810.19) scale(0.975 1)" class="tk" text-anchor="end">0.08</text>
<text transform="translate(1095.9 766.77) scale(0.975 1)" class="tk" text-anchor="end">0.10</text>
<text transform="translate(1095.9 723.36) scale(0.975 1)" class="tk" text-anchor="end">0.12</text>
<text transform="translate(1095.9 679.94) scale(0.975 1)" class="tk" text-anchor="end">0.14</text>
<text transform="translate(1095.9 636.53) scale(0.975 1)" class="tk" text-anchor="end">0.16</text>
<text transform="translate(1095.9 593.11) scale(0.975 1)" class="tk" text-anchor="end">0.18</text>
<text transform="translate(1095.9 549.7) scale(0.975 1)" class="tk" text-anchor="end">0.20</text>
<text x="1099.7" y="866.2" class="tk" text-anchor="middle">0.1</text>
<text x="1150.46" y="866.2" class="tk" text-anchor="middle">0.2</text>
<text x="1201.23" y="866.2" class="tk" text-anchor="middle">0.3</text>
<text x="1251.99" y="866.2" class="tk" text-anchor="middle">0.4</text>
<text x="1302.75" y="866.2" class="tk" text-anchor="middle">0.5</text>
<text x="1353.51" y="866.2" class="tk" text-anchor="middle">0.6</text>
<text x="1404.28" y="866.2" class="tk" text-anchor="middle">0.7</text>
<text x="1455.04" y="866.2" class="tk" text-anchor="middle">0.8</text>
<text x="1505.8" y="866.2" class="tk" text-anchor="middle">0.9</text>
<text x="1088.7" y="895.5" class="xl" textLength="108.5" lengthAdjust="spacingAndGlyphs">Fraction</text>
<text x="1201.7" y="895.5" class="xl" textLength="26" lengthAdjust="spacingAndGlyphs">of</text>
<text x="1236.2" y="895.5" class="xl" textLength="95" lengthAdjust="spacingAndGlyphs">Labeled</text>
<text x="1334.2" y="895.5" class="xl" textLength="117.5" lengthAdjust="spacingAndGlyphs">Training</text>
<text x="1455.7" y="895.5" class="xl" textLength="63" lengthAdjust="spacingAndGlyphs">Data</text>
<text transform="translate(1044.5 696.35) rotate(-90)" class="yl" text-anchor="middle" textLength="67.8" lengthAdjust="spacingAndGlyphs">Score</text>
<text x="1048" y="973" class="cb" textLength="54.2" lengthAdjust="spacingAndGlyphs"><tspan font-size="44">(</tspan>g<tspan font-size="44">)</tspan></text>
<text x="1117.6" y="973" class="ct" textLength="369.8" lengthAdjust="spacingAndGlyphs">Macro Facebook</text>
<clipPath id="clip31"><rect x="1611.7" y="544.4" width="406.1" height="303.9"/></clipPath>
<g clip-path="url(#clip31)">
<polygon points="1611.7,743.25 1662.46,701.98 1713.23,738.33 1763.99,740.89 1814.75,699.42 1865.51,745.17 1916.28,716.95 1967.04,723.36 2017.8,744.74 2017.8,806.75 1967.04,740.47 1916.28,749.02 1865.51,780.66 1814.75,751.59 1763.99,749.45 1713.23,746.88 1662.46,733.2 1611.7,781.73" fill="#ff0000" fill-opacity="0.1"/>
<polygon points="1611.7,601.49 1662.46,588.02 1713.23,600.42 1763.99,638.48 1814.75,593.36 1865.51,570.06 1916.28,577.54 1967.04,615.81 2017.8,576.9 2017.8,611.11 1967.04,659.86 1916.28,622.44 1865.51,598.71 1814.75,619.02 1763.99,657.72 1713.23,659 1662.46,662 1611.7,684.02" fill="#0000ff" fill-opacity="0.1"/>
<polygon points="1611.7,648.96 1662.46,610.68 1713.23,617.52 1763.99,597.85 1814.75,583.74 1865.51,616.67 1916.28,599.35 1967.04,616.46 2017.8,614.32 2017.8,729.78 1967.04,629.28 1916.28,610.04 1865.51,634.63 1814.75,597.85 1763.99,620.09 1713.23,634.63 1662.46,624.37 1611.7,670.34" fill="#008000" fill-opacity="0.1"/>
<polygon points="1611.7,604.05 1662.46,628.64 1713.23,628.64 1763.99,614.75 1814.75,596.36 1865.51,585.03 1916.28,574.33 1967.04,548.68 2017.8,565.14 2017.8,672.05 1967.04,629.5 1916.28,628.64 1865.51,606.41 1814.75,652.8 1763.99,638.26 1713.23,654.3 1662.46,658.58 1611.7,646.82" fill="#ffa500" fill-opacity="0.1"/>
<polygon points="1611.7,662.43 1662.46,675.68 1713.23,671.62 1763.99,659.22 1814.75,677.82 1865.51,691.72 1916.28,685.94 1967.04,660.29 2017.8,617.52 2017.8,730.85 1967.04,675.25 1916.28,715.88 1865.51,708.82 1814.75,690.65 1763.99,683.59 1713.23,682.31 1662.46,682.1 1611.7,683.81" fill="#800080" fill-opacity="0.1"/>
</g>
<g clip-path="url(#clip31)">
<polyline points="1611.7,762.49 1662.46,717.59 1713.23,742.61 1763.99,745.17 1814.75,725.5 1865.51,762.92 1916.28,732.98 1967.04,731.91 2017.8,775.75" fill="none" stroke="#ff0000" stroke-width="1.1" stroke-linejoin="round"/>
<path d="M1611.7 758.49L1613.8 762.49L1611.7 766.49L1609.6 762.49Z" fill="#ff0000" stroke="#000" stroke-width="0.9"/>
<path d="M1662.46 713.59L1664.56 717.59L1662.46 721.59L1660.36 717.59Z" fill="#ff0000" stroke="#000" stroke-width="0.9"/>
<path d="M1713.23 738.61L1715.33 742.61L1713.23 746.61L1711.13 742.61Z" fill="#ff0000" stroke="#000" stroke-width="0.9"/>
<path d="M1763.99 741.17L1766.09 745.17L1763.99 749.17L1761.89 745.17Z" fill="#ff0000" stroke="#000" stroke-width="0.9"/>
<path d="M1814.75 721.5L1816.85 725.5L1814.75 729.5L1812.65 725.5Z" fill="#ff0000" stroke="#000" stroke-width="0.9"/>
<path d="M1865.51 758.92L1867.61 762.92L1865.51 766.92L1863.41 762.92Z" fill="#ff0000" stroke="#000" stroke-width="0.9"/>
<path d="M1916.28 728.98L1918.38 732.98L1916.28 736.98L1914.18 732.98Z" fill="#ff0000" stroke="#000" stroke-width="0.9"/>
<path d="M1967.04 727.91L1969.14 731.91L1967.04 735.91L1964.94 731.91Z" fill="#ff0000" stroke="#000" stroke-width="0.9"/>
<path d="M2017.8 771.75L2019.9 775.75L2017.8 779.75L2015.7 775.75Z" fill="#ff0000" stroke="#000" stroke-width="0.9"/>
<polyline points="1611.7,642.75 1662.46,625.01 1713.23,629.71 1763.99,648.1 1814.75,606.19 1865.51,584.38 1916.28,599.99 1967.04,637.84 2017.8,594.01" fill="none" stroke="#0000ff" stroke-width="1.1" stroke-linejoin="round"/>
<path d="M1608.4 642.75H1615M1611.7 639.45V646.05" stroke="#0000ff" stroke-width="1.1" fill="none"/>
<path d="M1659.16 625.01H1665.76M1662.46 621.71V628.31" stroke="#0000ff" stroke-width="1.1" fill="none"/>
<path d="M1709.93 629.71H1716.53M1713.23 626.41V633.01" stroke="#0000ff" stroke-width="1.1" fill="none"/>
<path d="M1760.69 648.1H1767.29M1763.99 644.8V651.4" stroke="#0000ff" stroke-width="1.1" fill="none"/>
<path d="M1811.45 606.19H1818.05M1814.75 602.89V609.49" stroke="#0000ff" stroke-width="1.1" fill="none"/>
<path d="M1862.21 584.38H1868.81M1865.51 581.08V587.68" stroke="#0000ff" stroke-width="1.1" fill="none"/>
<path d="M1912.98 599.99H1919.58M1916.28 596.69V603.29" stroke="#0000ff" stroke-width="1.1" fill="none"/>
<path d="M1963.74 637.84H1970.34M1967.04 634.54V641.14" stroke="#0000ff" stroke-width="1.1" fill="none"/>
<path d="M2014.5 594.01H2021.1M2017.8 590.71V597.31" stroke="#0000ff" stroke-width="1.1" fill="none"/>
<polyline points="1611.7,659.65 1662.46,617.52 1713.23,626.08 1763.99,608.97 1814.75,590.8 1865.51,625.65 1916.28,604.7 1967.04,622.87 2017.8,672.05" fill="none" stroke="#008000" stroke-width="1.1" stroke-linejoin="round"/>
<circle cx="1611.7" cy="659.65" r="2.6" fill="#008000" stroke="#000" stroke-width="0.9"/>
<circle cx="1662.46" cy="617.52" r="2.6" fill="#008000" stroke="#000" stroke-width="0.9"/>
<circle cx="1713.23" cy="626.08" r="2.6" fill="#008000" stroke="#000" stroke-width="0.9"/>
<circle cx="1763.99" cy="608.97" r="2.6" fill="#008000" stroke="#000" stroke-width="0.9"/>
<circle cx="1814.75" cy="590.8" r="2.6" fill="#008000" stroke="#000" stroke-width="0.9"/>
<circle cx="1865.51" cy="625.65" r="2.6" fill="#008000" stroke="#000" stroke-width="0.9"/>
<circle cx="1916.28" cy="604.7" r="2.6" fill="#008000" stroke="#000" stroke-width="0.9"/>
<circle cx="1967.04" cy="622.87" r="2.6" fill="#008000" stroke="#000" stroke-width="0.9"/>
<circle cx="2017.8" cy="672.05" r="2.6" fill="#008000" stroke="#000" stroke-width="0.9"/>
<polyline points="1611.7,625.44 1662.46,643.61 1713.23,641.47 1763.99,626.51 1814.75,624.58 1865.51,595.72 1916.28,601.49 1967.04,589.09 2017.8,618.59" fill="none" stroke="#ffa500" stroke-width="1.1" stroke-linejoin="round"/>
<path d="M1611.7 622.94L1614.2 627.94L1609.2 627.94Z" fill="#ffa500" stroke="#000" stroke-width="0.8" stroke-linejoin="miter"/>
<path d="M1662.46 641.11L1664.96 646.11L1659.96 646.11Z" fill="#ffa500" stroke="#000" stroke-width="0.8" stroke-linejoin="miter"/>
<path d="M1713.23 638.97L1715.73 643.97L1710.73 643.97Z" fill="#ffa500" stroke="#000" stroke-width="0.8" stroke-linejoin="miter"/>
<path d="M1763.99 624.01L1766.49 629.01L1761.49 629.01Z" fill="#ffa500" stroke="#000" stroke-width="0.8" stroke-linejoin="miter"/>
<path d="M1814.75 622.08L1817.25 627.08L1812.25 627.08Z" fill="#ffa500" stroke="#000" stroke-width="0.8" stroke-linejoin="miter"/>
<path d="M1865.51 593.22L1868.01 598.22L1863.01 598.22Z" fill="#ffa500" stroke="#000" stroke-width="0.8" stroke-linejoin="miter"/>
<path d="M1916.28 598.99L1918.78 603.99L1913.78 603.99Z" fill="#ffa500" stroke="#000" stroke-width="0.8" stroke-linejoin="miter"/>
<path d="M1967.04 586.59L1969.54 591.59L1964.54 591.59Z" fill="#ffa500" stroke="#000" stroke-width="0.8" stroke-linejoin="miter"/>
<path d="M2017.8 616.09L2020.3 621.09L2015.3 621.09Z" fill="#ffa500" stroke="#000" stroke-width="0.8" stroke-linejoin="miter"/>
<polyline points="1611.7,673.12 1662.46,678.89 1713.23,676.96 1763.99,671.41 1814.75,684.23 1865.51,700.27 1916.28,700.91 1967.04,667.77 2017.8,674.19" fill="none" stroke="#800080" stroke-width="1.1" stroke-linejoin="round"/>
<path d="M1611.7 675.62L1614.2 670.62L1609.2 670.62Z" fill="#800080" stroke="#000" stroke-width="0.8" stroke-linejoin="miter"/>
<path d="M1662.46 681.39L1664.96 676.39L1659.96 676.39Z" fill="#800080" stroke="#000" stroke-width="0.8" stroke-linejoin="miter"/>
<path d="M1713.23 679.46L1715.73 674.46L1710.73 674.46Z" fill="#800080" stroke="#000" stroke-width="0.8" stroke-linejoin="miter"/>
<path d="M1763.99 673.91L1766.49 668.91L1761.49 668.91Z" fill="#800080" stroke="#000" stroke-width="0.8" stroke-linejoin="miter"/>
<path d="M1814.75 686.73L1817.25 681.73L1812.25 681.73Z" fill="#800080" stroke="#000" stroke-width="0.8" stroke-linejoin="miter"/>
<path d="M1865.51 702.77L1868.01 697.77L1863.01 697.77Z" fill="#800080" stroke="#000" stroke-width="0.8" stroke-linejoin="miter"/>
<path d="M1916.28 703.41L1918.78 698.41L1913.78 698.41Z" fill="#800080" stroke="#000" stroke-width="0.8" stroke-linejoin="miter"/>
<path d="M1967.04 670.27L1969.54 665.27L1964.54 665.27Z" fill="#800080" stroke="#000" stroke-width="0.8" stroke-linejoin="miter"/>
<path d="M2017.8 676.69L2020.3 671.69L2015.3 671.69Z" fill="#800080" stroke="#000" stroke-width="0.8" stroke-linejoin="miter"/>
</g>
<line x1="1628.09" y1="712.38" x2="1665.5" y2="712.38" stroke="#ff0000" stroke-width="1.1"/>
<path d="M1646.79 708.38L1648.89 712.38L1646.79 716.38L1644.69 712.38Z" fill="#ff0000" stroke="#000" stroke-width="0.9"/>
<text transform="translate(1679.88 719.27) scale(0.985 1)" class="lg">SDNE</text>
<line x1="1628.09" y1="739.75" x2="1665.5" y2="739.75" stroke="#0000ff" stroke-width="1.1"/>
<path d="M1643.49 739.75H1650.09M1646.79 736.45V743.05" stroke="#0000ff" stroke-width="1.1" fill="none"/>
<text transform="translate(1679.88 746.64) scale(0.985 1)" class="lg">DeepWalk</text>
<line x1="1628.09" y1="766.9" x2="1665.5" y2="766.9" stroke="#008000" stroke-width="1.1"/>
<circle cx="1646.79" cy="766.9" r="2.6" fill="#008000" stroke="#000" stroke-width="0.9"/>
<text transform="translate(1679.88 773.79) scale(0.985 1)" class="lg">N2V-S</text>
<line x1="1628.09" y1="794.27" x2="1665.5" y2="794.27" stroke="#ffa500" stroke-width="1.1"/>
<path d="M1646.79 791.77L1649.29 796.77L1644.29 796.77Z" fill="#ffa500" stroke="#000" stroke-width="0.8" stroke-linejoin="miter"/>
<text transform="translate(1679.88 801.16) scale(0.985 1)" class="lg">N2V-H</text>
<line x1="1628.09" y1="821.64" x2="1665.5" y2="821.64" stroke="#800080" stroke-width="1.1"/>
<path d="M1646.79 824.14L1649.29 819.14L1644.29 819.14Z" fill="#800080" stroke="#000" stroke-width="0.8" stroke-linejoin="miter"/>
<text transform="translate(1679.88 828.53) scale(0.985 1)" class="lg">PD</text>
<rect x="1611.7" y="544.4" width="406.1" height="303.9" fill="none" stroke="#000" stroke-width="1.1"/>
<path d="M1611.7 848.3v-3.6M1611.7 544.4v3.6M1662.46 848.3v-3.6M1662.46 544.4v3.6M1713.23 848.3v-3.6M1713.23 544.4v3.6M1763.99 848.3v-3.6M1763.99 544.4v3.6M1814.75 848.3v-3.6M1814.75 544.4v3.6M1865.51 848.3v-3.6M1865.51 544.4v3.6M1916.28 848.3v-3.6M1916.28 544.4v3.6M1967.04 848.3v-3.6M1967.04 544.4v3.6M2017.8 848.3v-3.6M2017.8 544.4v3.6M1611.7 848.3h3.6M2017.8 848.3h-3.6M1611.7 804.89h3.6M2017.8 804.89h-3.6M1611.7 761.47h3.6M2017.8 761.47h-3.6M1611.7 718.06h3.6M2017.8 718.06h-3.6M1611.7 674.64h3.6M2017.8 674.64h-3.6M1611.7 631.23h3.6M2017.8 631.23h-3.6M1611.7 587.81h3.6M2017.8 587.81h-3.6M1611.7 544.4h3.6M2017.8 544.4h-3.6" stroke="#000" stroke-width="1" fill="none"/>
<text transform="translate(1607.9 853.6) scale(0.975 1)" class="tk" text-anchor="end">0.22</text>
<text transform="translate(1607.9 810.19) scale(0.975 1)" class="tk" text-anchor="end">0.24</text>
<text transform="translate(1607.9 766.77) scale(0.975 1)" class="tk" text-anchor="end">0.26</text>
<text transform="translate(1607.9 723.36) scale(0.975 1)" class="tk" text-anchor="end">0.28</text>
<text transform="translate(1607.9 679.94) scale(0.975 1)" class="tk" text-anchor="end">0.30</text>
<text transform="translate(1607.9 636.53) scale(0.975 1)" class="tk" text-anchor="end">0.32</text>
<text transform="translate(1607.9 593.11) scale(0.975 1)" class="tk" text-anchor="end">0.34</text>
<text transform="translate(1607.9 549.7) scale(0.975 1)" class="tk" text-anchor="end">0.36</text>
<text x="1611.7" y="866.2" class="tk" text-anchor="middle">0.1</text>
<text x="1662.46" y="866.2" class="tk" text-anchor="middle">0.2</text>
<text x="1713.23" y="866.2" class="tk" text-anchor="middle">0.3</text>
<text x="1763.99" y="866.2" class="tk" text-anchor="middle">0.4</text>
<text x="1814.75" y="866.2" class="tk" text-anchor="middle">0.5</text>
<text x="1865.51" y="866.2" class="tk" text-anchor="middle">0.6</text>
<text x="1916.28" y="866.2" class="tk" text-anchor="middle">0.7</text>
<text x="1967.04" y="866.2" class="tk" text-anchor="middle">0.8</text>
<text x="2017.8" y="866.2" class="tk" text-anchor="middle">0.9</text>
<text x="1600.7" y="895.5" class="xl" textLength="108.5" lengthAdjust="spacingAndGlyphs">Fraction</text>
<text x="1713.7" y="895.5" class="xl" textLength="26" lengthAdjust="spacingAndGlyphs">of</text>
<text x="1748.2" y="895.5" class="xl" textLength="95" lengthAdjust="spacingAndGlyphs">Labeled</text>
<text x="1846.2" y="895.5" class="xl" textLength="117.5" lengthAdjust="spacingAndGlyphs">Training</text>
<text x="1967.7" y="895.5" class="xl" textLength="63" lengthAdjust="spacingAndGlyphs">Data</text>
<text transform="translate(1556.5 696.35) rotate(-90)" class="yl" text-anchor="middle" textLength="67.8" lengthAdjust="spacingAndGlyphs">Score</text>
<text x="1564" y="973" class="cb" textLength="56.4" lengthAdjust="spacingAndGlyphs"><tspan font-size="44">(</tspan>h<tspan font-size="44">)</tspan></text>
<text x="1636.6" y="973" class="ct" textLength="358.2" lengthAdjust="spacingAndGlyphs">Micro Facebook</text>
<clipPath id="clip02"><rect x="75.5" y="1076.9" width="406.1" height="303.9"/></clipPath>
<g clip-path="url(#clip02)">
<polygon points="75.5,1255.29 126.26,1273.89 177.03,1273.89 227.79,1284.59 278.55,1283.09 329.31,1261.28 380.08,1270.26 430.84,1295.92 481.6,1268.55 481.6,1322 430.84,1333.55 380.08,1283.09 329.31,1295.49 278.55,1292.92 227.79,1320.93 177.03,1286.72 126.26,1286.72 75.5,1263.85" fill="#ff0000" fill-opacity="0.1"/>
<polygon points="75.5,1136.84 126.26,1109.26 177.03,1115.89 227.79,1137.05 278.55,1128.07 329.31,1084.88 380.08,1116.74 430.84,1097.71 481.6,1116.53 481.6,1179.39 430.84,1123.37 380.08,1138.12 329.31,1159.72 278.55,1149.46 227.79,1164.85 177.03,1137.27 126.26,1130.64 75.5,1197.56" fill="#0000ff" fill-opacity="0.1"/>
<polygon points="75.5,1133.42 126.26,1100.92 177.03,1128.29 227.79,1091.09 278.55,1101.35 329.31,1127.43 380.08,1096.64 430.84,1095.79 481.6,1111.4 481.6,1145.61 430.84,1165.92 380.08,1132.56 329.31,1148.81 278.55,1135.56 227.79,1153.52 177.03,1163.35 126.26,1113.75 75.5,1183.45" fill="#008000" fill-opacity="0.1"/>
<polygon points="75.5,1161.64 126.26,1112.25 177.03,1093.22 227.79,1119.95 278.55,1133.21 329.31,1142.19 380.08,1097.07 430.84,1078.9 481.6,1105.62 481.6,1153.52 430.84,1101.56 380.08,1139.83 329.31,1170.84 278.55,1168.7 227.79,1137.05 177.03,1140.69 126.26,1138.77 75.5,1178.75" fill="#ffa500" fill-opacity="0.1"/>
<polygon points="75.5,1329.7 126.26,1358.99 177.03,1356.43 227.79,1350.44 278.55,1360.06 329.31,1360.06 380.08,1353.65 430.84,1345.09 481.6,1355.78 481.6,1366.48 430.84,1368.61 380.08,1362.2 329.31,1364.34 278.55,1364.34 227.79,1363.27 177.03,1362.84 126.26,1364.12 75.5,1364.76" fill="#800080" fill-opacity="0.1"/>
</g>
<g clip-path="url(#clip02)">
<polyline points="75.5,1259.57 126.26,1280.31 177.03,1280.31 227.79,1302.76 278.55,1288.01 329.31,1278.38 380.08,1276.67 430.84,1314.73 481.6,1295.28" fill="none" stroke="#ff0000" stroke-width="1.1" stroke-linejoin="round"/>
<path d="M75.5 1255.57L77.6 1259.57L75.5 1263.57L73.4 1259.57Z" fill="#ff0000" stroke="#000" stroke-width="0.9"/>
<path d="M126.26 1276.31L128.36 1280.31L126.26 1284.31L124.16 1280.31Z" fill="#ff0000" stroke="#000" stroke-width="0.9"/>
<path d="M177.03 1276.31L179.12 1280.31L177.03 1284.31L174.93 1280.31Z" fill="#ff0000" stroke="#000" stroke-width="0.9"/>
<path d="M227.79 1298.76L229.89 1302.76L227.79 1306.76L225.69 1302.76Z" fill="#ff0000" stroke="#000" stroke-width="0.9"/>
<path d="M278.55 1284.01L280.65 1288.01L278.55 1292.01L276.45 1288.01Z" fill="#ff0000" stroke="#000" stroke-width="0.9"/>
<path d="M329.31 1274.38L331.41 1278.38L329.31 1282.38L327.21 1278.38Z" fill="#ff0000" stroke="#000" stroke-width="0.9"/>
<path d="M380.08 1272.67L382.18 1276.67L380.08 1280.67L377.98 1276.67Z" fill="#ff0000" stroke="#000" stroke-width="0.9"/>
<path d="M430.84 1310.73L432.94 1314.73L430.84 1318.73L428.74 1314.73Z" fill="#ff0000" stroke="#000" stroke-width="0.9"/>
<path d="M481.6 1291.28L483.7 1295.28L481.6 1299.28L479.5 1295.28Z" fill="#ff0000" stroke="#000" stroke-width="0.9"/>
<polyline points="75.5,1167.2 126.26,1119.95 177.03,1126.58 227.79,1150.95 278.55,1138.77 329.31,1122.3 380.08,1127.43 430.84,1110.54 481.6,1147.96" fill="none" stroke="#0000ff" stroke-width="1.1" stroke-linejoin="round"/>
<path d="M72.2 1167.2H78.8M75.5 1163.9V1170.5" stroke="#0000ff" stroke-width="1.1" fill="none"/>
<path d="M122.96 1119.95H129.56M126.26 1116.65V1123.25" stroke="#0000ff" stroke-width="1.1" fill="none"/>
<path d="M173.72 1126.58H180.33M177.03 1123.28V1129.88" stroke="#0000ff" stroke-width="1.1" fill="none"/>
<path d="M224.49 1150.95H231.09M227.79 1147.65V1154.25" stroke="#0000ff" stroke-width="1.1" fill="none"/>
<path d="M275.25 1138.77H281.85M278.55 1135.47V1142.07" stroke="#0000ff" stroke-width="1.1" fill="none"/>
<path d="M326.01 1122.3H332.61M329.31 1119V1125.6" stroke="#0000ff" stroke-width="1.1" fill="none"/>
<path d="M376.78 1127.43H383.38M380.08 1124.13V1130.73" stroke="#0000ff" stroke-width="1.1" fill="none"/>
<path d="M427.54 1110.54H434.14M430.84 1107.24V1113.84" stroke="#0000ff" stroke-width="1.1" fill="none"/>
<path d="M478.3 1147.96H484.9M481.6 1144.66V1151.26" stroke="#0000ff" stroke-width="1.1" fill="none"/>
<polyline points="75.5,1158.44 126.26,1107.33 177.03,1145.82 227.79,1122.3 278.55,1118.45 329.31,1138.12 380.08,1114.6 430.84,1130.85 481.6,1128.5" fill="none" stroke="#008000" stroke-width="1.1" stroke-linejoin="round"/>
<circle cx="75.5" cy="1158.44" r="2.6" fill="#008000" stroke="#000" stroke-width="0.9"/>
<circle cx="126.26" cy="1107.33" r="2.6" fill="#008000" stroke="#000" stroke-width="0.9"/>
<circle cx="177.03" cy="1145.82" r="2.6" fill="#008000" stroke="#000" stroke-width="0.9"/>
<circle cx="227.79" cy="1122.3" r="2.6" fill="#008000" stroke="#000" stroke-width="0.9"/>
<circle cx="278.55" cy="1118.45" r="2.6" fill="#008000" stroke="#000" stroke-width="0.9"/>
<circle cx="329.31" cy="1138.12" r="2.6" fill="#008000" stroke="#000" stroke-width="0.9"/>
<circle cx="380.08" cy="1114.6" r="2.6" fill="#008000" stroke="#000" stroke-width="0.9"/>
<circle cx="430.84" cy="1130.85" r="2.6" fill="#008000" stroke="#000" stroke-width="0.9"/>
<circle cx="481.6" cy="1128.5" r="2.6" fill="#008000" stroke="#000" stroke-width="0.9"/>
<polyline points="75.5,1170.2 126.26,1125.51 177.03,1116.96 227.79,1128.5 278.55,1150.95 329.31,1156.51 380.08,1118.45 430.84,1090.23 481.6,1129.57" fill="none" stroke="#ffa500" stroke-width="1.1" stroke-linejoin="round"/>
<path d="M75.5 1167.7L78 1172.7L73 1172.7Z" fill="#ffa500" stroke="#000" stroke-width="0.8" stroke-linejoin="miter"/>
<path d="M126.26 1123.01L128.76 1128.01L123.76 1128.01Z" fill="#ffa500" stroke="#000" stroke-width="0.8" stroke-linejoin="miter"/>
<path d="M177.03 1114.46L179.53 1119.46L174.53 1119.46Z" fill="#ffa500" stroke="#000" stroke-width="0.8" stroke-linejoin="miter"/>
<path d="M227.79 1126L230.29 1131L225.29 1131Z" fill="#ffa500" stroke="#000" stroke-width="0.8" stroke-linejoin="miter"/>
<path d="M278.55 1148.45L281.05 1153.45L276.05 1153.45Z" fill="#ffa500" stroke="#000" stroke-width="0.8" stroke-linejoin="miter"/>
<path d="M329.31 1154.01L331.81 1159.01L326.81 1159.01Z" fill="#ffa500" stroke="#000" stroke-width="0.8" stroke-linejoin="miter"/>
<path d="M380.08 1115.95L382.58 1120.95L377.58 1120.95Z" fill="#ffa500" stroke="#000" stroke-width="0.8" stroke-linejoin="miter"/>
<path d="M430.84 1087.73L433.34 1092.73L428.34 1092.73Z" fill="#ffa500" stroke="#000" stroke-width="0.8" stroke-linejoin="miter"/>
<path d="M481.6 1127.07L484.1 1132.07L479.1 1132.07Z" fill="#ffa500" stroke="#000" stroke-width="0.8" stroke-linejoin="miter"/>
<polyline points="75.5,1347.23 126.26,1361.56 177.03,1359.63 227.79,1356.85 278.55,1362.2 329.31,1362.2 380.08,1357.92 430.84,1356.85 481.6,1361.13" fill="none" stroke="#800080" stroke-width="1.1" stroke-linejoin="round"/>
<path d="M75.5 1349.73L78 1344.73L73 1344.73Z" fill="#800080" stroke="#000" stroke-width="0.8" stroke-linejoin="miter"/>
<path d="M126.26 1364.06L128.76 1359.06L123.76 1359.06Z" fill="#800080" stroke="#000" stroke-width="0.8" stroke-linejoin="miter"/>
<path d="M177.03 1362.13L179.53 1357.13L174.53 1357.13Z" fill="#800080" stroke="#000" stroke-width="0.8" stroke-linejoin="miter"/>
<path d="M227.79 1359.35L230.29 1354.35L225.29 1354.35Z" fill="#800080" stroke="#000" stroke-width="0.8" stroke-linejoin="miter"/>
<path d="M278.55 1364.7L281.05 1359.7L276.05 1359.7Z" fill="#800080" stroke="#000" stroke-width="0.8" stroke-linejoin="miter"/>
<path d="M329.31 1364.7L331.81 1359.7L326.81 1359.7Z" fill="#800080" stroke="#000" stroke-width="0.8" stroke-linejoin="miter"/>
<path d="M380.08 1360.42L382.58 1355.42L377.58 1355.42Z" fill="#800080" stroke="#000" stroke-width="0.8" stroke-linejoin="miter"/>
<path d="M430.84 1359.35L433.34 1354.35L428.34 1354.35Z" fill="#800080" stroke="#000" stroke-width="0.8" stroke-linejoin="miter"/>
<path d="M481.6 1363.63L484.1 1358.63L479.1 1358.63Z" fill="#800080" stroke="#000" stroke-width="0.8" stroke-linejoin="miter"/>
</g>
<line x1="319.01" y1="1173.33" x2="356.85" y2="1173.33" stroke="#ff0000" stroke-width="1.1"/>
<path d="M337.93 1169.33L340.03 1173.33L337.93 1177.33L335.83 1173.33Z" fill="#ff0000" stroke="#000" stroke-width="0.9"/>
<text transform="translate(371.02 1180.21) scale(0.985 1)" class="lg">SDNE</text>
<line x1="319.01" y1="1200.69" x2="356.85" y2="1200.69" stroke="#0000ff" stroke-width="1.1"/>
<path d="M334.63 1200.69H341.23M337.93 1197.39V1203.99" stroke="#0000ff" stroke-width="1.1" fill="none"/>
<text transform="translate(371.02 1207.58) scale(0.985 1)" class="lg">DeepWalk</text>
<line x1="319.01" y1="1227.85" x2="356.85" y2="1227.85" stroke="#008000" stroke-width="1.1"/>
<circle cx="337.93" cy="1227.85" r="2.6" fill="#008000" stroke="#000" stroke-width="0.9"/>
<text transform="translate(371.02 1234.74) scale(0.985 1)" class="lg">N2V-S</text>
<line x1="319.01" y1="1255.22" x2="356.85" y2="1255.22" stroke="#ffa500" stroke-width="1.1"/>
<path d="M337.93 1252.72L340.43 1257.72L335.43 1257.72Z" fill="#ffa500" stroke="#000" stroke-width="0.8" stroke-linejoin="miter"/>
<text transform="translate(371.02 1262.1) scale(0.985 1)" class="lg">N2V-H</text>
<line x1="319.01" y1="1282.37" x2="356.85" y2="1282.37" stroke="#800080" stroke-width="1.1"/>
<path d="M337.93 1284.87L340.43 1279.87L335.43 1279.87Z" fill="#800080" stroke="#000" stroke-width="0.8" stroke-linejoin="miter"/>
<text transform="translate(371.02 1289.26) scale(0.985 1)" class="lg">PD</text>
<rect x="75.5" y="1076.9" width="406.1" height="303.9" fill="none" stroke="#000" stroke-width="1.1"/>
<path d="M75.5 1380.8v-3.6M75.5 1076.9v3.6M126.26 1380.8v-3.6M126.26 1076.9v3.6M177.03 1380.8v-3.6M177.03 1076.9v3.6M227.79 1380.8v-3.6M227.79 1076.9v3.6M278.55 1380.8v-3.6M278.55 1076.9v3.6M329.31 1380.8v-3.6M329.31 1076.9v3.6M380.08 1380.8v-3.6M380.08 1076.9v3.6M430.84 1380.8v-3.6M430.84 1076.9v3.6M481.6 1380.8v-3.6M481.6 1076.9v3.6M75.5 1380.8h3.6M481.6 1380.8h-3.6M75.5 1347.03h3.6M481.6 1347.03h-3.6M75.5 1313.27h3.6M481.6 1313.27h-3.6M75.5 1279.5h3.6M481.6 1279.5h-3.6M75.5 1245.73h3.6M481.6 1245.73h-3.6M75.5 1211.97h3.6M481.6 1211.97h-3.6M75.5 1178.2h3.6M481.6 1178.2h-3.6M75.5 1144.43h3.6M481.6 1144.43h-3.6M75.5 1110.67h3.6M481.6 1110.67h-3.6M75.5 1076.9h3.6M481.6 1076.9h-3.6" stroke="#000" stroke-width="1" fill="none"/>
<text transform="translate(71.7 1386.1) scale(0.975 1)" class="tk" text-anchor="end">0.08</text>
<text transform="translate(71.7 1352.33) scale(0.975 1)" class="tk" text-anchor="end">0.10</text>
<text transform="translate(71.7 1318.57) scale(0.975 1)" class="tk" text-anchor="end">0.12</text>
<text transform="translate(71.7 1284.8) scale(0.975 1)" class="tk" text-anchor="end">0.14</text>
<text transform="translate(71.7 1251.03) scale(0.975 1)" class="tk" text-anchor="end">0.16</text>
<text transform="translate(71.7 1217.27) scale(0.975 1)" class="tk" text-anchor="end">0.18</text>
<text transform="translate(71.7 1183.5) scale(0.975 1)" class="tk" text-anchor="end">0.20</text>
<text transform="translate(71.7 1149.73) scale(0.975 1)" class="tk" text-anchor="end">0.22</text>
<text transform="translate(71.7 1115.97) scale(0.975 1)" class="tk" text-anchor="end">0.24</text>
<text transform="translate(71.7 1082.2) scale(0.975 1)" class="tk" text-anchor="end">0.26</text>
<text x="75.5" y="1398.7" class="tk" text-anchor="middle">0.1</text>
<text x="126.26" y="1398.7" class="tk" text-anchor="middle">0.2</text>
<text x="177.03" y="1398.7" class="tk" text-anchor="middle">0.3</text>
<text x="227.79" y="1398.7" class="tk" text-anchor="middle">0.4</text>
<text x="278.55" y="1398.7" class="tk" text-anchor="middle">0.5</text>
<text x="329.31" y="1398.7" class="tk" text-anchor="middle">0.6</text>
<text x="380.08" y="1398.7" class="tk" text-anchor="middle">0.7</text>
<text x="430.84" y="1398.7" class="tk" text-anchor="middle">0.8</text>
<text x="481.6" y="1398.7" class="tk" text-anchor="middle">0.9</text>
<text x="64.5" y="1428" class="xl" textLength="108.5" lengthAdjust="spacingAndGlyphs">Fraction</text>
<text x="177.5" y="1428" class="xl" textLength="26" lengthAdjust="spacingAndGlyphs">of</text>
<text x="212" y="1428" class="xl" textLength="95" lengthAdjust="spacingAndGlyphs">Labeled</text>
<text x="310" y="1428" class="xl" textLength="117.5" lengthAdjust="spacingAndGlyphs">Training</text>
<text x="431.5" y="1428" class="xl" textLength="63" lengthAdjust="spacingAndGlyphs">Data</text>
<text transform="translate(20.3 1228.85) rotate(-90)" class="yl" text-anchor="middle" textLength="67.8" lengthAdjust="spacingAndGlyphs">Score</text>
<text x="5.4" y="1506.2" class="cb" textLength="44.6" lengthAdjust="spacingAndGlyphs"><tspan font-size="44">(</tspan>i<tspan font-size="44">)</tspan></text>
<text x="65.2" y="1506.2" class="ct" textLength="418.4" lengthAdjust="spacingAndGlyphs">Macro Openflights</text>
<clipPath id="clip12"><rect x="587.6" y="1076.9" width="406.1" height="303.9"/></clipPath>
<g clip-path="url(#clip12)">
<polygon points="587.6,1269.62 638.36,1283.52 689.12,1265.98 739.89,1248.45 790.65,1277.74 841.41,1262.78 892.18,1284.16 942.94,1272.4 993.7,1244.17 993.7,1351.94 942.94,1357.92 892.18,1315.37 841.41,1361.99 790.65,1326.06 739.89,1275.82 689.12,1327.99 638.36,1349.8 587.6,1342.31" fill="#ff0000" fill-opacity="0.1"/>
<polygon points="587.6,1215.74 638.36,1184.73 689.12,1170.84 739.89,1174.69 790.65,1149.46 841.41,1140.26 892.18,1132.99 942.94,1107.76 993.7,1113.54 993.7,1252.51 942.94,1174.04 892.18,1165.06 841.41,1191.58 790.65,1161.43 739.89,1187.51 689.12,1177.25 638.36,1206.12 587.6,1258.5" fill="#0000ff" fill-opacity="0.1"/>
<polygon points="587.6,1218.09 638.36,1186.45 689.12,1178.75 739.89,1170.2 790.65,1158.44 841.41,1123.37 892.18,1133.42 942.94,1145.82 993.7,1180.89 993.7,1193.71 942.94,1171.48 892.18,1186.02 841.41,1189.65 790.65,1175.54 739.89,1183.02 689.12,1193.71 638.36,1224.93 587.6,1270.26" fill="#008000" fill-opacity="0.1"/>
<polygon points="587.6,1237.76 638.36,1178.32 689.12,1152.66 739.89,1172.55 790.65,1172.98 841.41,1154.8 892.18,1141.97 942.94,1121.66 993.7,1150.52 993.7,1190.29 942.94,1161.43 892.18,1212.53 841.41,1199.7 790.65,1190.08 739.89,1185.38 689.12,1193.29 638.36,1210.39 587.6,1250.59" fill="#ffa500" fill-opacity="0.1"/>
<polygon points="587.6,1208.9 638.36,1208.68 689.12,1209.11 739.89,1205.05 790.65,1205.9 841.41,1208.25 892.18,1164.21 942.94,1181.53 993.7,1185.8 993.7,1245.67 942.94,1242.68 892.18,1227.5 841.41,1230.49 790.65,1232.84 739.89,1227.71 689.12,1227.5 638.36,1223.65 587.6,1215.31" fill="#800080" fill-opacity="0.1"/>
</g>
<g clip-path="url(#clip12)">
<polyline points="587.6,1305.97 638.36,1316.66 689.12,1296.99 739.89,1262.13 790.65,1301.9 841.41,1312.38 892.18,1299.77 942.94,1315.16 993.7,1298.06" fill="none" stroke="#ff0000" stroke-width="1.1" stroke-linejoin="round"/>
<path d="M587.6 1301.97L589.7 1305.97L587.6 1309.97L585.5 1305.97Z" fill="#ff0000" stroke="#000" stroke-width="0.9"/>
<path d="M638.36 1312.66L640.46 1316.66L638.36 1320.66L636.26 1316.66Z" fill="#ff0000" stroke="#000" stroke-width="0.9"/>
<path d="M689.12 1292.99L691.23 1296.99L689.12 1300.99L687.02 1296.99Z" fill="#ff0000" stroke="#000" stroke-width="0.9"/>
<path d="M739.89 1258.13L741.99 1262.13L739.89 1266.13L737.79 1262.13Z" fill="#ff0000" stroke="#000" stroke-width="0.9"/>
<path d="M790.65 1297.9L792.75 1301.9L790.65 1305.9L788.55 1301.9Z" fill="#ff0000" stroke="#000" stroke-width="0.9"/>
<path d="M841.41 1308.38L843.51 1312.38L841.41 1316.38L839.31 1312.38Z" fill="#ff0000" stroke="#000" stroke-width="0.9"/>
<path d="M892.18 1295.77L894.28 1299.77L892.18 1303.77L890.08 1299.77Z" fill="#ff0000" stroke="#000" stroke-width="0.9"/>
<path d="M942.94 1311.16L945.04 1315.16L942.94 1319.16L940.84 1315.16Z" fill="#ff0000" stroke="#000" stroke-width="0.9"/>
<path d="M993.7 1294.06L995.8 1298.06L993.7 1302.06L991.6 1298.06Z" fill="#ff0000" stroke="#000" stroke-width="0.9"/>
<polyline points="587.6,1237.12 638.36,1195.43 689.12,1174.04 739.89,1181.1 790.65,1155.44 841.41,1165.92 892.18,1149.03 942.94,1140.9 993.7,1183.02" fill="none" stroke="#0000ff" stroke-width="1.1" stroke-linejoin="round"/>
<path d="M584.3 1237.12H590.9M587.6 1233.82V1240.42" stroke="#0000ff" stroke-width="1.1" fill="none"/>
<path d="M635.06 1195.43H641.66M638.36 1192.13V1198.73" stroke="#0000ff" stroke-width="1.1" fill="none"/>
<path d="M685.83 1174.04H692.42M689.12 1170.74V1177.34" stroke="#0000ff" stroke-width="1.1" fill="none"/>
<path d="M736.59 1181.1H743.19M739.89 1177.8V1184.4" stroke="#0000ff" stroke-width="1.1" fill="none"/>
<path d="M787.35 1155.44H793.95M790.65 1152.14V1158.74" stroke="#0000ff" stroke-width="1.1" fill="none"/>
<path d="M838.11 1165.92H844.71M841.41 1162.62V1169.22" stroke="#0000ff" stroke-width="1.1" fill="none"/>
<path d="M888.88 1149.03H895.48M892.18 1145.73V1152.33" stroke="#0000ff" stroke-width="1.1" fill="none"/>
<path d="M939.64 1140.9H946.24M942.94 1137.6V1144.2" stroke="#0000ff" stroke-width="1.1" fill="none"/>
<path d="M990.4 1183.02H997M993.7 1179.72V1186.32" stroke="#0000ff" stroke-width="1.1" fill="none"/>
<polyline points="587.6,1244.17 638.36,1205.69 689.12,1186.23 739.89,1176.61 790.65,1166.99 841.41,1156.51 892.18,1159.72 942.94,1158.65 993.7,1187.3" fill="none" stroke="#008000" stroke-width="1.1" stroke-linejoin="round"/>
<circle cx="587.6" cy="1244.17" r="2.6" fill="#008000" stroke="#000" stroke-width="0.9"/>
<circle cx="638.36" cy="1205.69" r="2.6" fill="#008000" stroke="#000" stroke-width="0.9"/>
<circle cx="689.12" cy="1186.23" r="2.6" fill="#008000" stroke="#000" stroke-width="0.9"/>
<circle cx="739.89" cy="1176.61" r="2.6" fill="#008000" stroke="#000" stroke-width="0.9"/>
<circle cx="790.65" cy="1166.99" r="2.6" fill="#008000" stroke="#000" stroke-width="0.9"/>
<circle cx="841.41" cy="1156.51" r="2.6" fill="#008000" stroke="#000" stroke-width="0.9"/>
<circle cx="892.18" cy="1159.72" r="2.6" fill="#008000" stroke="#000" stroke-width="0.9"/>
<circle cx="942.94" cy="1158.65" r="2.6" fill="#008000" stroke="#000" stroke-width="0.9"/>
<circle cx="993.7" cy="1187.3" r="2.6" fill="#008000" stroke="#000" stroke-width="0.9"/>
<polyline points="587.6,1244.17 638.36,1194.36 689.12,1172.98 739.89,1178.96 790.65,1181.53 841.41,1177.25 892.18,1177.25 942.94,1141.54 993.7,1170.41" fill="none" stroke="#ffa500" stroke-width="1.1" stroke-linejoin="round"/>
<path d="M587.6 1241.67L590.1 1246.67L585.1 1246.67Z" fill="#ffa500" stroke="#000" stroke-width="0.8" stroke-linejoin="miter"/>
<path d="M638.36 1191.86L640.86 1196.86L635.86 1196.86Z" fill="#ffa500" stroke="#000" stroke-width="0.8" stroke-linejoin="miter"/>
<path d="M689.12 1170.48L691.62 1175.48L686.62 1175.48Z" fill="#ffa500" stroke="#000" stroke-width="0.8" stroke-linejoin="miter"/>
<path d="M739.89 1176.46L742.39 1181.46L737.39 1181.46Z" fill="#ffa500" stroke="#000" stroke-width="0.8" stroke-linejoin="miter"/>
<path d="M790.65 1179.03L793.15 1184.03L788.15 1184.03Z" fill="#ffa500" stroke="#000" stroke-width="0.8" stroke-linejoin="miter"/>
<path d="M841.41 1174.75L843.91 1179.75L838.91 1179.75Z" fill="#ffa500" stroke="#000" stroke-width="0.8" stroke-linejoin="miter"/>
<path d="M892.18 1174.75L894.68 1179.75L889.68 1179.75Z" fill="#ffa500" stroke="#000" stroke-width="0.8" stroke-linejoin="miter"/>
<path d="M942.94 1139.04L945.44 1144.04L940.44 1144.04Z" fill="#ffa500" stroke="#000" stroke-width="0.8" stroke-linejoin="miter"/>
<path d="M993.7 1167.91L996.2 1172.91L991.2 1172.91Z" fill="#ffa500" stroke="#000" stroke-width="0.8" stroke-linejoin="miter"/>
<polyline points="587.6,1212.1 638.36,1216.17 689.12,1218.3 739.89,1216.38 790.65,1219.37 841.41,1219.37 892.18,1195.85 942.94,1212.1 993.7,1215.74" fill="none" stroke="#800080" stroke-width="1.1" stroke-linejoin="round"/>
<path d="M587.6 1214.6L590.1 1209.6L585.1 1209.6Z" fill="#800080" stroke="#000" stroke-width="0.8" stroke-linejoin="miter"/>
<path d="M638.36 1218.67L640.86 1213.67L635.86 1213.67Z" fill="#800080" stroke="#000" stroke-width="0.8" stroke-linejoin="miter"/>
<path d="M689.12 1220.8L691.62 1215.8L686.62 1215.8Z" fill="#800080" stroke="#000" stroke-width="0.8" stroke-linejoin="miter"/>
<path d="M739.89 1218.88L742.39 1213.88L737.39 1213.88Z" fill="#800080" stroke="#000" stroke-width="0.8" stroke-linejoin="miter"/>
<path d="M790.65 1221.87L793.15 1216.87L788.15 1216.87Z" fill="#800080" stroke="#000" stroke-width="0.8" stroke-linejoin="miter"/>
<path d="M841.41 1221.87L843.91 1216.87L838.91 1216.87Z" fill="#800080" stroke="#000" stroke-width="0.8" stroke-linejoin="miter"/>
<path d="M892.18 1198.35L894.68 1193.35L889.68 1193.35Z" fill="#800080" stroke="#000" stroke-width="0.8" stroke-linejoin="miter"/>
<path d="M942.94 1214.6L945.44 1209.6L940.44 1209.6Z" fill="#800080" stroke="#000" stroke-width="0.8" stroke-linejoin="miter"/>
<path d="M993.7 1218.24L996.2 1213.24L991.2 1213.24Z" fill="#800080" stroke="#000" stroke-width="0.8" stroke-linejoin="miter"/>
</g>
<line x1="831.37" y1="1244.95" x2="868.78" y2="1244.95" stroke="#ff0000" stroke-width="1.1"/>
<path d="M850.08 1240.95L852.18 1244.95L850.08 1248.95L847.98 1244.95Z" fill="#ff0000" stroke="#000" stroke-width="0.9"/>
<text transform="translate(882.95 1251.84) scale(0.985 1)" class="lg">SDNE</text>
<line x1="831.37" y1="1272.11" x2="868.78" y2="1272.11" stroke="#0000ff" stroke-width="1.1"/>
<path d="M846.78 1272.11H853.38M850.08 1268.81V1275.41" stroke="#0000ff" stroke-width="1.1" fill="none"/>
<text transform="translate(882.95 1279) scale(0.985 1)" class="lg">DeepWalk</text>
<line x1="831.37" y1="1299.47" x2="868.78" y2="1299.47" stroke="#008000" stroke-width="1.1"/>
<circle cx="850.08" cy="1299.47" r="2.6" fill="#008000" stroke="#000" stroke-width="0.9"/>
<text transform="translate(882.95 1306.36) scale(0.985 1)" class="lg">N2V-S</text>
<line x1="831.37" y1="1326.63" x2="868.78" y2="1326.63" stroke="#ffa500" stroke-width="1.1"/>
<path d="M850.08 1324.13L852.58 1329.13L847.58 1329.13Z" fill="#ffa500" stroke="#000" stroke-width="0.8" stroke-linejoin="miter"/>
<text transform="translate(882.95 1333.52) scale(0.985 1)" class="lg">N2V-H</text>
<line x1="831.37" y1="1354" x2="868.78" y2="1354" stroke="#800080" stroke-width="1.1"/>
<path d="M850.08 1356.5L852.58 1351.5L847.58 1351.5Z" fill="#800080" stroke="#000" stroke-width="0.8" stroke-linejoin="miter"/>
<text transform="translate(882.95 1360.89) scale(0.985 1)" class="lg">PD</text>
<rect x="587.6" y="1076.9" width="406.1" height="303.9" fill="none" stroke="#000" stroke-width="1.1"/>
<path d="M587.6 1380.8v-3.6M587.6 1076.9v3.6M638.36 1380.8v-3.6M638.36 1076.9v3.6M689.12 1380.8v-3.6M689.12 1076.9v3.6M739.89 1380.8v-3.6M739.89 1076.9v3.6M790.65 1380.8v-3.6M790.65 1076.9v3.6M841.41 1380.8v-3.6M841.41 1076.9v3.6M892.18 1380.8v-3.6M892.18 1076.9v3.6M942.94 1380.8v-3.6M942.94 1076.9v3.6M993.7 1380.8v-3.6M993.7 1076.9v3.6M587.6 1380.8h3.6M993.7 1380.8h-3.6M587.6 1347.03h3.6M993.7 1347.03h-3.6M587.6 1313.27h3.6M993.7 1313.27h-3.6M587.6 1279.5h3.6M993.7 1279.5h-3.6M587.6 1245.73h3.6M993.7 1245.73h-3.6M587.6 1211.97h3.6M993.7 1211.97h-3.6M587.6 1178.2h3.6M993.7 1178.2h-3.6M587.6 1144.43h3.6M993.7 1144.43h-3.6M587.6 1110.67h3.6M993.7 1110.67h-3.6M587.6 1076.9h3.6M993.7 1076.9h-3.6" stroke="#000" stroke-width="1" fill="none"/>
<text transform="translate(583.8 1386.1) scale(0.975 1)" class="tk" text-anchor="end">0.28</text>
<text transform="translate(583.8 1352.33) scale(0.975 1)" class="tk" text-anchor="end">0.30</text>
<text transform="translate(583.8 1318.57) scale(0.975 1)" class="tk" text-anchor="end">0.32</text>
<text transform="translate(583.8 1284.8) scale(0.975 1)" class="tk" text-anchor="end">0.34</text>
<text transform="translate(583.8 1251.03) scale(0.975 1)" class="tk" text-anchor="end">0.36</text>
<text transform="translate(583.8 1217.27) scale(0.975 1)" class="tk" text-anchor="end">0.38</text>
<text transform="translate(583.8 1183.5) scale(0.975 1)" class="tk" text-anchor="end">0.40</text>
<text transform="translate(583.8 1149.73) scale(0.975 1)" class="tk" text-anchor="end">0.42</text>
<text transform="translate(583.8 1115.97) scale(0.975 1)" class="tk" text-anchor="end">0.44</text>
<text transform="translate(583.8 1082.2) scale(0.975 1)" class="tk" text-anchor="end">0.46</text>
<text x="587.6" y="1398.7" class="tk" text-anchor="middle">0.1</text>
<text x="638.36" y="1398.7" class="tk" text-anchor="middle">0.2</text>
<text x="689.12" y="1398.7" class="tk" text-anchor="middle">0.3</text>
<text x="739.89" y="1398.7" class="tk" text-anchor="middle">0.4</text>
<text x="790.65" y="1398.7" class="tk" text-anchor="middle">0.5</text>
<text x="841.41" y="1398.7" class="tk" text-anchor="middle">0.6</text>
<text x="892.18" y="1398.7" class="tk" text-anchor="middle">0.7</text>
<text x="942.94" y="1398.7" class="tk" text-anchor="middle">0.8</text>
<text x="993.7" y="1398.7" class="tk" text-anchor="middle">0.9</text>
<text x="576.6" y="1428" class="xl" textLength="108.5" lengthAdjust="spacingAndGlyphs">Fraction</text>
<text x="689.6" y="1428" class="xl" textLength="26" lengthAdjust="spacingAndGlyphs">of</text>
<text x="724.1" y="1428" class="xl" textLength="95" lengthAdjust="spacingAndGlyphs">Labeled</text>
<text x="822.1" y="1428" class="xl" textLength="117.5" lengthAdjust="spacingAndGlyphs">Training</text>
<text x="943.6" y="1428" class="xl" textLength="63" lengthAdjust="spacingAndGlyphs">Data</text>
<text transform="translate(532.4 1228.85) rotate(-90)" class="yl" text-anchor="middle" textLength="67.8" lengthAdjust="spacingAndGlyphs">Score</text>
<text x="522.6" y="1506.2" class="cb" textLength="47.6" lengthAdjust="spacingAndGlyphs"><tspan font-size="44">(</tspan>j<tspan font-size="44">)</tspan></text>
<text x="585.4" y="1506.2" class="ct" textLength="405.8" lengthAdjust="spacingAndGlyphs">Micro Openflights</text>
<clipPath id="clip22"><rect x="1099.7" y="1076.9" width="406.1" height="303.9"/></clipPath>
<g clip-path="url(#clip22)">
<polygon points="1099.7,1264.91 1150.46,1267.48 1201.23,1189.01 1251.99,1250.38 1302.75,1263.85 1353.51,1276.67 1404.28,1264.91 1455.04,1161.64 1505.8,1258.07 1505.8,1292.28 1455.04,1242.04 1404.28,1305.54 1353.51,1306.61 1302.75,1336.54 1251.99,1323.07 1201.23,1260.42 1150.46,1284.59 1099.7,1284.16" fill="#ff0000" fill-opacity="0.1"/>
<polygon points="1099.7,1198.42 1150.46,1157.58 1201.23,1214.67 1251.99,1226.64 1302.75,1264.27 1353.51,1081.46 1404.28,1240.33 1455.04,1216.81 1505.8,1160.79 1505.8,1273.68 1455.04,1259.57 1404.28,1299.34 1353.51,1235.41 1302.75,1312.59 1251.99,1310.46 1201.23,1253.15 1150.46,1246.1 1099.7,1255.29" fill="#0000ff" fill-opacity="0.1"/>
<polygon points="1099.7,1201.84 1150.46,1191.15 1201.23,1255.72 1251.99,1223.22 1302.75,1206.76 1353.51,1236.05 1404.28,1261.28 1455.04,1183.67 1505.8,1277.53 1505.8,1315.16 1455.04,1285.44 1404.28,1295.49 1353.51,1283.94 1302.75,1296.56 1251.99,1325.85 1201.23,1323.29 1150.46,1274.54 1099.7,1232.63" fill="#008000" fill-opacity="0.1"/>
<polygon points="1099.7,1158.01 1150.46,1188.16 1201.23,1240.54 1251.99,1149.46 1302.75,1251.02 1353.51,1260 1404.28,1255.51 1455.04,1264.91 1505.8,1193.5 1505.8,1318.37 1455.04,1331.2 1404.28,1331.2 1353.51,1281.38 1302.75,1293.78 1251.99,1276.46 1201.23,1320.51 1150.46,1278.81 1099.7,1198.63" fill="#ffa500" fill-opacity="0.1"/>
<polygon points="1099.7,1339.32 1150.46,1336.54 1201.23,1340.39 1251.99,1335.47 1302.75,1337.61 1353.51,1335.47 1404.28,1332.48 1455.04,1332.69 1505.8,1319.44 1505.8,1351.51 1455.04,1345.52 1404.28,1350.44 1353.51,1341.89 1302.75,1350.44 1251.99,1341.89 1201.23,1346.8 1150.46,1342.96 1099.7,1343.6" fill="#800080" fill-opacity="0.1"/>
</g>
<g clip-path="url(#clip22)">
<polyline points="1099.7,1274.54 1150.46,1276.03 1201.23,1224.72 1251.99,1286.72 1302.75,1300.19 1353.51,1291.64 1404.28,1285.23 1455.04,1201.84 1505.8,1275.18" fill="none" stroke="#ff0000" stroke-width="1.1" stroke-linejoin="round"/>
<path d="M1099.7 1270.54L1101.8 1274.54L1099.7 1278.54L1097.6 1274.54Z" fill="#ff0000" stroke="#000" stroke-width="0.9"/>
<path d="M1150.46 1272.03L1152.56 1276.03L1150.46 1280.03L1148.36 1276.03Z" fill="#ff0000" stroke="#000" stroke-width="0.9"/>
<path d="M1201.23 1220.72L1203.33 1224.72L1201.23 1228.72L1199.13 1224.72Z" fill="#ff0000" stroke="#000" stroke-width="0.9"/>
<path d="M1251.99 1282.72L1254.09 1286.72L1251.99 1290.72L1249.89 1286.72Z" fill="#ff0000" stroke="#000" stroke-width="0.9"/>
<path d="M1302.75 1296.19L1304.85 1300.19L1302.75 1304.19L1300.65 1300.19Z" fill="#ff0000" stroke="#000" stroke-width="0.9"/>
<path d="M1353.51 1287.64L1355.61 1291.64L1353.51 1295.64L1351.41 1291.64Z" fill="#ff0000" stroke="#000" stroke-width="0.9"/>
<path d="M1404.28 1281.23L1406.38 1285.23L1404.28 1289.23L1402.18 1285.23Z" fill="#ff0000" stroke="#000" stroke-width="0.9"/>
<path d="M1455.04 1197.84L1457.14 1201.84L1455.04 1205.84L1452.94 1201.84Z" fill="#ff0000" stroke="#000" stroke-width="0.9"/>
<path d="M1505.8 1271.18L1507.9 1275.18L1505.8 1279.18L1503.7 1275.18Z" fill="#ff0000" stroke="#000" stroke-width="0.9"/>
<polyline points="1099.7,1226.86 1150.46,1201.84 1201.23,1233.91 1251.99,1268.55 1302.75,1288.43 1353.51,1158.44 1404.28,1269.83 1455.04,1238.19 1505.8,1217.23" fill="none" stroke="#0000ff" stroke-width="1.1" stroke-linejoin="round"/>
<path d="M1096.4 1226.86H1103M1099.7 1223.56V1230.16" stroke="#0000ff" stroke-width="1.1" fill="none"/>
<path d="M1147.16 1201.84H1153.76M1150.46 1198.54V1205.14" stroke="#0000ff" stroke-width="1.1" fill="none"/>
<path d="M1197.93 1233.91H1204.53M1201.23 1230.61V1237.21" stroke="#0000ff" stroke-width="1.1" fill="none"/>
<path d="M1248.69 1268.55H1255.29M1251.99 1265.25V1271.85" stroke="#0000ff" stroke-width="1.1" fill="none"/>
<path d="M1299.45 1288.43H1306.05M1302.75 1285.13V1291.73" stroke="#0000ff" stroke-width="1.1" fill="none"/>
<path d="M1350.21 1158.44H1356.81M1353.51 1155.14V1161.74" stroke="#0000ff" stroke-width="1.1" fill="none"/>
<path d="M1400.98 1269.83H1407.58M1404.28 1266.53V1273.13" stroke="#0000ff" stroke-width="1.1" fill="none"/>
<path d="M1451.74 1238.19H1458.34M1455.04 1234.89V1241.49" stroke="#0000ff" stroke-width="1.1" fill="none"/>
<path d="M1502.5 1217.23H1509.1M1505.8 1213.93V1220.53" stroke="#0000ff" stroke-width="1.1" fill="none"/>
<polyline points="1099.7,1217.23 1150.46,1232.84 1201.23,1289.5 1251.99,1274.54 1302.75,1251.66 1353.51,1260 1404.28,1278.38 1455.04,1234.55 1505.8,1296.34" fill="none" stroke="#008000" stroke-width="1.1" stroke-linejoin="round"/>
<circle cx="1099.7" cy="1217.23" r="2.6" fill="#008000" stroke="#000" stroke-width="0.9"/>
<circle cx="1150.46" cy="1232.84" r="2.6" fill="#008000" stroke="#000" stroke-width="0.9"/>
<circle cx="1201.23" cy="1289.5" r="2.6" fill="#008000" stroke="#000" stroke-width="0.9"/>
<circle cx="1251.99" cy="1274.54" r="2.6" fill="#008000" stroke="#000" stroke-width="0.9"/>
<circle cx="1302.75" cy="1251.66" r="2.6" fill="#008000" stroke="#000" stroke-width="0.9"/>
<circle cx="1353.51" cy="1260" r="2.6" fill="#008000" stroke="#000" stroke-width="0.9"/>
<circle cx="1404.28" cy="1278.38" r="2.6" fill="#008000" stroke="#000" stroke-width="0.9"/>
<circle cx="1455.04" cy="1234.55" r="2.6" fill="#008000" stroke="#000" stroke-width="0.9"/>
<circle cx="1505.8" cy="1296.34" r="2.6" fill="#008000" stroke="#000" stroke-width="0.9"/>
<polyline points="1099.7,1178.32 1150.46,1233.48 1201.23,1280.52 1251.99,1212.96 1302.75,1272.4 1353.51,1270.69 1404.28,1293.35 1455.04,1298.06 1505.8,1255.93" fill="none" stroke="#ffa500" stroke-width="1.1" stroke-linejoin="round"/>
<path d="M1099.7 1175.82L1102.2 1180.82L1097.2 1180.82Z" fill="#ffa500" stroke="#000" stroke-width="0.8" stroke-linejoin="miter"/>
<path d="M1150.46 1230.98L1152.96 1235.98L1147.96 1235.98Z" fill="#ffa500" stroke="#000" stroke-width="0.8" stroke-linejoin="miter"/>
<path d="M1201.23 1278.02L1203.73 1283.02L1198.73 1283.02Z" fill="#ffa500" stroke="#000" stroke-width="0.8" stroke-linejoin="miter"/>
<path d="M1251.99 1210.46L1254.49 1215.46L1249.49 1215.46Z" fill="#ffa500" stroke="#000" stroke-width="0.8" stroke-linejoin="miter"/>
<path d="M1302.75 1269.9L1305.25 1274.9L1300.25 1274.9Z" fill="#ffa500" stroke="#000" stroke-width="0.8" stroke-linejoin="miter"/>
<path d="M1353.51 1268.19L1356.01 1273.19L1351.01 1273.19Z" fill="#ffa500" stroke="#000" stroke-width="0.8" stroke-linejoin="miter"/>
<path d="M1404.28 1290.85L1406.78 1295.85L1401.78 1295.85Z" fill="#ffa500" stroke="#000" stroke-width="0.8" stroke-linejoin="miter"/>
<path d="M1455.04 1295.56L1457.54 1300.56L1452.54 1300.56Z" fill="#ffa500" stroke="#000" stroke-width="0.8" stroke-linejoin="miter"/>
<path d="M1505.8 1253.43L1508.3 1258.43L1503.3 1258.43Z" fill="#ffa500" stroke="#000" stroke-width="0.8" stroke-linejoin="miter"/>
<polyline points="1099.7,1341.46 1150.46,1339.75 1201.23,1343.6 1251.99,1338.68 1302.75,1344.03 1353.51,1338.68 1404.28,1341.46 1455.04,1339.11 1505.8,1335.47" fill="none" stroke="#800080" stroke-width="1.1" stroke-linejoin="round"/>
<path d="M1099.7 1343.96L1102.2 1338.96L1097.2 1338.96Z" fill="#800080" stroke="#000" stroke-width="0.8" stroke-linejoin="miter"/>
<path d="M1150.46 1342.25L1152.96 1337.25L1147.96 1337.25Z" fill="#800080" stroke="#000" stroke-width="0.8" stroke-linejoin="miter"/>
<path d="M1201.23 1346.1L1203.73 1341.1L1198.73 1341.1Z" fill="#800080" stroke="#000" stroke-width="0.8" stroke-linejoin="miter"/>
<path d="M1251.99 1341.18L1254.49 1336.18L1249.49 1336.18Z" fill="#800080" stroke="#000" stroke-width="0.8" stroke-linejoin="miter"/>
<path d="M1302.75 1346.53L1305.25 1341.53L1300.25 1341.53Z" fill="#800080" stroke="#000" stroke-width="0.8" stroke-linejoin="miter"/>
<path d="M1353.51 1341.18L1356.01 1336.18L1351.01 1336.18Z" fill="#800080" stroke="#000" stroke-width="0.8" stroke-linejoin="miter"/>
<path d="M1404.28 1343.96L1406.78 1338.96L1401.78 1338.96Z" fill="#800080" stroke="#000" stroke-width="0.8" stroke-linejoin="miter"/>
<path d="M1455.04 1341.61L1457.54 1336.61L1452.54 1336.61Z" fill="#800080" stroke="#000" stroke-width="0.8" stroke-linejoin="miter"/>
<path d="M1505.8 1337.97L1508.3 1332.97L1503.3 1332.97Z" fill="#800080" stroke="#000" stroke-width="0.8" stroke-linejoin="miter"/>
</g>
<line x1="1343.37" y1="1101.7" x2="1380.78" y2="1101.7" stroke="#ff0000" stroke-width="1.1"/>
<path d="M1362.08 1097.7L1364.18 1101.7L1362.08 1105.7L1359.98 1101.7Z" fill="#ff0000" stroke="#000" stroke-width="0.9"/>
<text transform="translate(1394.95 1108.59) scale(0.985 1)" class="lg">SDNE</text>
<line x1="1343.37" y1="1128.85" x2="1380.78" y2="1128.85" stroke="#0000ff" stroke-width="1.1"/>
<path d="M1358.78 1128.85H1365.38M1362.08 1125.55V1132.15" stroke="#0000ff" stroke-width="1.1" fill="none"/>
<text transform="translate(1394.95 1135.74) scale(0.985 1)" class="lg">DeepWalk</text>
<line x1="1343.37" y1="1156.22" x2="1380.78" y2="1156.22" stroke="#008000" stroke-width="1.1"/>
<circle cx="1362.08" cy="1156.22" r="2.6" fill="#008000" stroke="#000" stroke-width="0.9"/>
<text transform="translate(1394.95 1163.11) scale(0.985 1)" class="lg">N2V-S</text>
<line x1="1343.37" y1="1183.37" x2="1380.78" y2="1183.37" stroke="#ffa500" stroke-width="1.1"/>
<path d="M1362.08 1180.87L1364.58 1185.87L1359.58 1185.87Z" fill="#ffa500" stroke="#000" stroke-width="0.8" stroke-linejoin="miter"/>
<text transform="translate(1394.95 1190.26) scale(0.985 1)" class="lg">N2V-H</text>
<line x1="1343.37" y1="1210.74" x2="1380.78" y2="1210.74" stroke="#800080" stroke-width="1.1"/>
<path d="M1362.08 1213.24L1364.58 1208.24L1359.58 1208.24Z" fill="#800080" stroke="#000" stroke-width="0.8" stroke-linejoin="miter"/>
<text transform="translate(1394.95 1217.63) scale(0.985 1)" class="lg">PD</text>
<rect x="1099.7" y="1076.9" width="406.1" height="303.9" fill="none" stroke="#000" stroke-width="1.1"/>
<path d="M1099.7 1380.8v-3.6M1099.7 1076.9v3.6M1150.46 1380.8v-3.6M1150.46 1076.9v3.6M1201.23 1380.8v-3.6M1201.23 1076.9v3.6M1251.99 1380.8v-3.6M1251.99 1076.9v3.6M1302.75 1380.8v-3.6M1302.75 1076.9v3.6M1353.51 1380.8v-3.6M1353.51 1076.9v3.6M1404.28 1380.8v-3.6M1404.28 1076.9v3.6M1455.04 1380.8v-3.6M1455.04 1076.9v3.6M1505.8 1380.8v-3.6M1505.8 1076.9v3.6M1099.7 1380.8h3.6M1505.8 1380.8h-3.6M1099.7 1337.39h3.6M1505.8 1337.39h-3.6M1099.7 1293.97h3.6M1505.8 1293.97h-3.6M1099.7 1250.56h3.6M1505.8 1250.56h-3.6M1099.7 1207.14h3.6M1505.8 1207.14h-3.6M1099.7 1163.73h3.6M1505.8 1163.73h-3.6M1099.7 1120.31h3.6M1505.8 1120.31h-3.6M1099.7 1076.9h3.6M1505.8 1076.9h-3.6" stroke="#000" stroke-width="1" fill="none"/>
<text transform="translate(1095.9 1386.1) scale(0.975 1)" class="tk" text-anchor="end">0.11</text>
<text transform="translate(1095.9 1342.69) scale(0.975 1)" class="tk" text-anchor="end">0.12</text>
<text transform="translate(1095.9 1299.27) scale(0.975 1)" class="tk" text-anchor="end">0.13</text>
<text transform="translate(1095.9 1255.86) scale(0.975 1)" class="tk" text-anchor="end">0.14</text>
<text transform="translate(1095.9 1212.44) scale(0.975 1)" class="tk" text-anchor="end">0.15</text>
<text transform="translate(1095.9 1169.03) scale(0.975 1)" class="tk" text-anchor="end">0.16</text>
<text transform="translate(1095.9 1125.61) scale(0.975 1)" class="tk" text-anchor="end">0.17</text>
<text transform="translate(1095.9 1082.2) scale(0.975 1)" class="tk" text-anchor="end">0.18</text>
<text x="1099.7" y="1398.7" class="tk" text-anchor="middle">0.1</text>
<text x="1150.46" y="1398.7" class="tk" text-anchor="middle">0.2</text>
<text x="1201.23" y="1398.7" class="tk" text-anchor="middle">0.3</text>
<text x="1251.99" y="1398.7" class="tk" text-anchor="middle">0.4</text>
<text x="1302.75" y="1398.7" class="tk" text-anchor="middle">0.5</text>
<text x="1353.51" y="1398.7" class="tk" text-anchor="middle">0.6</text>
<text x="1404.28" y="1398.7" class="tk" text-anchor="middle">0.7</text>
<text x="1455.04" y="1398.7" class="tk" text-anchor="middle">0.8</text>
<text x="1505.8" y="1398.7" class="tk" text-anchor="middle">0.9</text>
<text x="1088.7" y="1428" class="xl" textLength="108.5" lengthAdjust="spacingAndGlyphs">Fraction</text>
<text x="1201.7" y="1428" class="xl" textLength="26" lengthAdjust="spacingAndGlyphs">of</text>
<text x="1236.2" y="1428" class="xl" textLength="95" lengthAdjust="spacingAndGlyphs">Labeled</text>
<text x="1334.2" y="1428" class="xl" textLength="117.5" lengthAdjust="spacingAndGlyphs">Training</text>
<text x="1455.7" y="1428" class="xl" textLength="63" lengthAdjust="spacingAndGlyphs">Data</text>
<text transform="translate(1044.5 1228.85) rotate(-90)" class="yl" text-anchor="middle" textLength="67.8" lengthAdjust="spacingAndGlyphs">Score</text>
<text x="1037.6" y="1506.2" class="cb" textLength="56" lengthAdjust="spacingAndGlyphs"><tspan font-size="44">(</tspan>k<tspan font-size="44">)</tspan></text>
<text x="1109.2" y="1506.2" class="ct" textLength="390.8" lengthAdjust="spacingAndGlyphs">Macro Bitcoinotc</text>
<clipPath id="clip32"><rect x="1611.7" y="1076.9" width="406.1" height="303.9"/></clipPath>
<g clip-path="url(#clip32)">
<polygon points="1611.7,1246.74 1662.46,1264.49 1713.23,1252.73 1763.99,1240.33 1814.75,1268.12 1865.51,1279.03 1916.28,1247.17 1967.04,1295.06 2017.8,1227.5 2017.8,1298.06 1967.04,1342.96 1916.28,1294.21 1865.51,1314.09 1814.75,1287.36 1763.99,1290.79 1713.23,1372.46 1662.46,1285.87 1611.7,1283.09" fill="#ff0000" fill-opacity="0.1"/>
<polygon points="1611.7,1273.04 1662.46,1253.58 1713.23,1227.07 1763.99,1212.1 1814.75,1215.74 1865.51,1222.37 1916.28,1195.43 1967.04,1158.01 2017.8,1212.96 2017.8,1264.27 1967.04,1224.29 1916.28,1241.61 1865.51,1285.23 1814.75,1241.4 1763.99,1237.76 1713.23,1252.73 1662.46,1313.45 1611.7,1300.83" fill="#0000ff" fill-opacity="0.1"/>
<polygon points="1611.7,1273.68 1662.46,1224.29 1713.23,1216.38 1763.99,1208.9 1814.75,1212.53 1865.51,1187.94 1916.28,1244.6 1967.04,1158.65 2017.8,1225.36 2017.8,1289.5 1967.04,1267.69 1916.28,1272.4 1865.51,1247.81 1814.75,1233.91 1763.99,1228.14 1713.23,1242.04 1662.46,1237.12 1611.7,1313.02" fill="#008000" fill-opacity="0.1"/>
<polygon points="1611.7,1276.25 1662.46,1229.64 1713.23,1223.22 1763.99,1217.23 1814.75,1210.39 1865.51,1180.46 1916.28,1229.21 1967.04,1206.97 2017.8,1164.42 2017.8,1341.89 1967.04,1253.15 1916.28,1254.87 1865.51,1233.91 1814.75,1227.5 1763.99,1289.93 1713.23,1240.33 1662.46,1242.46 1611.7,1301.9" fill="#ffa500" fill-opacity="0.1"/>
<polygon points="1611.7,1209.32 1662.46,1197.14 1713.23,1217.88 1763.99,1184.31 1814.75,1195.64 1865.51,1181.53 1916.28,1168.7 1967.04,1163.78 2017.8,1100.92 2017.8,1259.14 1967.04,1236.48 1916.28,1255.51 1865.51,1216.59 1814.75,1257.22 1763.99,1217.23 1713.23,1230.7 1662.46,1210.82 1611.7,1215.74" fill="#800080" fill-opacity="0.1"/>
</g>
<g clip-path="url(#clip32)">
<polyline points="1611.7,1264.91 1662.46,1275.18 1713.23,1312.59 1763.99,1265.56 1814.75,1277.74 1865.51,1296.56 1916.28,1270.69 1967.04,1319.01 2017.8,1262.78" fill="none" stroke="#ff0000" stroke-width="1.1" stroke-linejoin="round"/>
<path d="M1611.7 1260.91L1613.8 1264.91L1611.7 1268.91L1609.6 1264.91Z" fill="#ff0000" stroke="#000" stroke-width="0.9"/>
<path d="M1662.46 1271.18L1664.56 1275.18L1662.46 1279.18L1660.36 1275.18Z" fill="#ff0000" stroke="#000" stroke-width="0.9"/>
<path d="M1713.23 1308.59L1715.33 1312.59L1713.23 1316.59L1711.13 1312.59Z" fill="#ff0000" stroke="#000" stroke-width="0.9"/>
<path d="M1763.99 1261.56L1766.09 1265.56L1763.99 1269.56L1761.89 1265.56Z" fill="#ff0000" stroke="#000" stroke-width="0.9"/>
<path d="M1814.75 1273.74L1816.85 1277.74L1814.75 1281.74L1812.65 1277.74Z" fill="#ff0000" stroke="#000" stroke-width="0.9"/>
<path d="M1865.51 1292.56L1867.61 1296.56L1865.51 1300.56L1863.41 1296.56Z" fill="#ff0000" stroke="#000" stroke-width="0.9"/>
<path d="M1916.28 1266.69L1918.38 1270.69L1916.28 1274.69L1914.18 1270.69Z" fill="#ff0000" stroke="#000" stroke-width="0.9"/>
<path d="M1967.04 1315.01L1969.14 1319.01L1967.04 1323.01L1964.94 1319.01Z" fill="#ff0000" stroke="#000" stroke-width="0.9"/>
<path d="M2017.8 1258.78L2019.9 1262.78L2017.8 1266.78L2015.7 1262.78Z" fill="#ff0000" stroke="#000" stroke-width="0.9"/>
<polyline points="1611.7,1286.94 1662.46,1283.52 1713.23,1239.9 1763.99,1224.93 1814.75,1228.57 1865.51,1253.8 1916.28,1218.52 1967.04,1191.15 2017.8,1238.62" fill="none" stroke="#0000ff" stroke-width="1.1" stroke-linejoin="round"/>
<path d="M1608.4 1286.94H1615M1611.7 1283.64V1290.24" stroke="#0000ff" stroke-width="1.1" fill="none"/>
<path d="M1659.16 1283.52H1665.76M1662.46 1280.22V1286.82" stroke="#0000ff" stroke-width="1.1" fill="none"/>
<path d="M1709.93 1239.9H1716.53M1713.23 1236.6V1243.2" stroke="#0000ff" stroke-width="1.1" fill="none"/>
<path d="M1760.69 1224.93H1767.29M1763.99 1221.63V1228.23" stroke="#0000ff" stroke-width="1.1" fill="none"/>
<path d="M1811.45 1228.57H1818.05M1814.75 1225.27V1231.87" stroke="#0000ff" stroke-width="1.1" fill="none"/>
<path d="M1862.21 1253.8H1868.81M1865.51 1250.5V1257.1" stroke="#0000ff" stroke-width="1.1" fill="none"/>
<path d="M1912.98 1218.52H1919.58M1916.28 1215.22V1221.82" stroke="#0000ff" stroke-width="1.1" fill="none"/>
<path d="M1963.74 1191.15H1970.34M1967.04 1187.85V1194.45" stroke="#0000ff" stroke-width="1.1" fill="none"/>
<path d="M2014.5 1238.62H2021.1M2017.8 1235.32V1241.92" stroke="#0000ff" stroke-width="1.1" fill="none"/>
<polyline points="1611.7,1293.35 1662.46,1230.7 1713.23,1229.21 1763.99,1218.52 1814.75,1223.22 1865.51,1217.88 1916.28,1258.5 1967.04,1213.17 2017.8,1257.43" fill="none" stroke="#008000" stroke-width="1.1" stroke-linejoin="round"/>
<circle cx="1611.7" cy="1293.35" r="2.6" fill="#008000" stroke="#000" stroke-width="0.9"/>
<circle cx="1662.46" cy="1230.7" r="2.6" fill="#008000" stroke="#000" stroke-width="0.9"/>
<circle cx="1713.23" cy="1229.21" r="2.6" fill="#008000" stroke="#000" stroke-width="0.9"/>
<circle cx="1763.99" cy="1218.52" r="2.6" fill="#008000" stroke="#000" stroke-width="0.9"/>
<circle cx="1814.75" cy="1223.22" r="2.6" fill="#008000" stroke="#000" stroke-width="0.9"/>
<circle cx="1865.51" cy="1217.88" r="2.6" fill="#008000" stroke="#000" stroke-width="0.9"/>
<circle cx="1916.28" cy="1258.5" r="2.6" fill="#008000" stroke="#000" stroke-width="0.9"/>
<circle cx="1967.04" cy="1213.17" r="2.6" fill="#008000" stroke="#000" stroke-width="0.9"/>
<circle cx="2017.8" cy="1257.43" r="2.6" fill="#008000" stroke="#000" stroke-width="0.9"/>
<polyline points="1611.7,1289.08 1662.46,1236.05 1713.23,1231.77 1763.99,1253.58 1814.75,1218.94 1865.51,1207.19 1916.28,1242.04 1967.04,1230.06 2017.8,1253.15" fill="none" stroke="#ffa500" stroke-width="1.1" stroke-linejoin="round"/>
<path d="M1611.7 1286.58L1614.2 1291.58L1609.2 1291.58Z" fill="#ffa500" stroke="#000" stroke-width="0.8" stroke-linejoin="miter"/>
<path d="M1662.46 1233.55L1664.96 1238.55L1659.96 1238.55Z" fill="#ffa500" stroke="#000" stroke-width="0.8" stroke-linejoin="miter"/>
<path d="M1713.23 1229.27L1715.73 1234.27L1710.73 1234.27Z" fill="#ffa500" stroke="#000" stroke-width="0.8" stroke-linejoin="miter"/>
<path d="M1763.99 1251.08L1766.49 1256.08L1761.49 1256.08Z" fill="#ffa500" stroke="#000" stroke-width="0.8" stroke-linejoin="miter"/>
<path d="M1814.75 1216.44L1817.25 1221.44L1812.25 1221.44Z" fill="#ffa500" stroke="#000" stroke-width="0.8" stroke-linejoin="miter"/>
<path d="M1865.51 1204.69L1868.01 1209.69L1863.01 1209.69Z" fill="#ffa500" stroke="#000" stroke-width="0.8" stroke-linejoin="miter"/>
<path d="M1916.28 1239.54L1918.78 1244.54L1913.78 1244.54Z" fill="#ffa500" stroke="#000" stroke-width="0.8" stroke-linejoin="miter"/>
<path d="M1967.04 1227.56L1969.54 1232.56L1964.54 1232.56Z" fill="#ffa500" stroke="#000" stroke-width="0.8" stroke-linejoin="miter"/>
<path d="M2017.8 1250.65L2020.3 1255.65L2015.3 1255.65Z" fill="#ffa500" stroke="#000" stroke-width="0.8" stroke-linejoin="miter"/>
<polyline points="1611.7,1212.53 1662.46,1203.98 1713.23,1224.29 1763.99,1200.77 1814.75,1226.43 1865.51,1199.06 1916.28,1212.1 1967.04,1200.13 2017.8,1180.03" fill="none" stroke="#800080" stroke-width="1.1" stroke-linejoin="round"/>
<path d="M1611.7 1215.03L1614.2 1210.03L1609.2 1210.03Z" fill="#800080" stroke="#000" stroke-width="0.8" stroke-linejoin="miter"/>
<path d="M1662.46 1206.48L1664.96 1201.48L1659.96 1201.48Z" fill="#800080" stroke="#000" stroke-width="0.8" stroke-linejoin="miter"/>
<path d="M1713.23 1226.79L1715.73 1221.79L1710.73 1221.79Z" fill="#800080" stroke="#000" stroke-width="0.8" stroke-linejoin="miter"/>
<path d="M1763.99 1203.27L1766.49 1198.27L1761.49 1198.27Z" fill="#800080" stroke="#000" stroke-width="0.8" stroke-linejoin="miter"/>
<path d="M1814.75 1228.93L1817.25 1223.93L1812.25 1223.93Z" fill="#800080" stroke="#000" stroke-width="0.8" stroke-linejoin="miter"/>
<path d="M1865.51 1201.56L1868.01 1196.56L1863.01 1196.56Z" fill="#800080" stroke="#000" stroke-width="0.8" stroke-linejoin="miter"/>
<path d="M1916.28 1214.6L1918.78 1209.6L1913.78 1209.6Z" fill="#800080" stroke="#000" stroke-width="0.8" stroke-linejoin="miter"/>
<path d="M1967.04 1202.63L1969.54 1197.63L1964.54 1197.63Z" fill="#800080" stroke="#000" stroke-width="0.8" stroke-linejoin="miter"/>
<path d="M2017.8 1182.53L2020.3 1177.53L2015.3 1177.53Z" fill="#800080" stroke="#000" stroke-width="0.8" stroke-linejoin="miter"/>
</g>
<line x1="1628.09" y1="1101.7" x2="1665.5" y2="1101.7" stroke="#ff0000" stroke-width="1.1"/>
<path d="M1646.79 1097.7L1648.89 1101.7L1646.79 1105.7L1644.69 1101.7Z" fill="#ff0000" stroke="#000" stroke-width="0.9"/>
<text transform="translate(1679.88 1108.59) scale(0.985 1)" class="lg">SDNE</text>
<line x1="1628.09" y1="1128.85" x2="1665.5" y2="1128.85" stroke="#0000ff" stroke-width="1.1"/>
<path d="M1643.49 1128.85H1650.09M1646.79 1125.55V1132.15" stroke="#0000ff" stroke-width="1.1" fill="none"/>
<text transform="translate(1679.88 1135.74) scale(0.985 1)" class="lg">DeepWalk</text>
<line x1="1628.09" y1="1156.22" x2="1665.5" y2="1156.22" stroke="#008000" stroke-width="1.1"/>
<circle cx="1646.79" cy="1156.22" r="2.6" fill="#008000" stroke="#000" stroke-width="0.9"/>
<text transform="translate(1679.88 1163.11) scale(0.985 1)" class="lg">N2V-S</text>
<line x1="1628.09" y1="1183.37" x2="1665.5" y2="1183.37" stroke="#ffa500" stroke-width="1.1"/>
<path d="M1646.79 1180.87L1649.29 1185.87L1644.29 1185.87Z" fill="#ffa500" stroke="#000" stroke-width="0.8" stroke-linejoin="miter"/>
<text transform="translate(1679.88 1190.26) scale(0.985 1)" class="lg">N2V-H</text>
<line x1="1628.09" y1="1210.74" x2="1665.5" y2="1210.74" stroke="#800080" stroke-width="1.1"/>
<path d="M1646.79 1213.24L1649.29 1208.24L1644.29 1208.24Z" fill="#800080" stroke="#000" stroke-width="0.8" stroke-linejoin="miter"/>
<text transform="translate(1679.88 1217.63) scale(0.985 1)" class="lg">PD</text>
<rect x="1611.7" y="1076.9" width="406.1" height="303.9" fill="none" stroke="#000" stroke-width="1.1"/>
<path d="M1611.7 1380.8v-3.6M1611.7 1076.9v3.6M1662.46 1380.8v-3.6M1662.46 1076.9v3.6M1713.23 1380.8v-3.6M1713.23 1076.9v3.6M1763.99 1380.8v-3.6M1763.99 1076.9v3.6M1814.75 1380.8v-3.6M1814.75 1076.9v3.6M1865.51 1380.8v-3.6M1865.51 1076.9v3.6M1916.28 1380.8v-3.6M1916.28 1076.9v3.6M1967.04 1380.8v-3.6M1967.04 1076.9v3.6M2017.8 1380.8v-3.6M2017.8 1076.9v3.6M1611.7 1380.8h3.6M2017.8 1380.8h-3.6M1611.7 1320.02h3.6M2017.8 1320.02h-3.6M1611.7 1259.24h3.6M2017.8 1259.24h-3.6M1611.7 1198.46h3.6M2017.8 1198.46h-3.6M1611.7 1137.68h3.6M2017.8 1137.68h-3.6M1611.7 1076.9h3.6M2017.8 1076.9h-3.6" stroke="#000" stroke-width="1" fill="none"/>
<text transform="translate(1607.9 1386.1) scale(0.975 1)" class="tk" text-anchor="end">0.50</text>
<text transform="translate(1607.9 1325.32) scale(0.975 1)" class="tk" text-anchor="end">0.52</text>
<text transform="translate(1607.9 1264.54) scale(0.975 1)" class="tk" text-anchor="end">0.54</text>
<text transform="translate(1607.9 1203.76) scale(0.975 1)" class="tk" text-anchor="end">0.56</text>
<text transform="translate(1607.9 1142.98) scale(0.975 1)" class="tk" text-anchor="end">0.58</text>
<text transform="translate(1607.9 1082.2) scale(0.975 1)" class="tk" text-anchor="end">0.60</text>
<text x="1611.7" y="1398.7" class="tk" text-anchor="middle">0.1</text>
<text x="1662.46" y="1398.7" class="tk" text-anchor="middle">0.2</text>
<text x="1713.23" y="1398.7" class="tk" text-anchor="middle">0.3</text>
<text x="1763.99" y="1398.7" class="tk" text-anchor="middle">0.4</text>
<text x="1814.75" y="1398.7" class="tk" text-anchor="middle">0.5</text>
<text x="1865.51" y="1398.7" class="tk" text-anchor="middle">0.6</text>
<text x="1916.28" y="1398.7" class="tk" text-anchor="middle">0.7</text>
<text x="1967.04" y="1398.7" class="tk" text-anchor="middle">0.8</text>
<text x="2017.8" y="1398.7" class="tk" text-anchor="middle">0.9</text>
<text x="1600.7" y="1428" class="xl" textLength="108.5" lengthAdjust="spacingAndGlyphs">Fraction</text>
<text x="1713.7" y="1428" class="xl" textLength="26" lengthAdjust="spacingAndGlyphs">of</text>
<text x="1748.2" y="1428" class="xl" textLength="95" lengthAdjust="spacingAndGlyphs">Labeled</text>
<text x="1846.2" y="1428" class="xl" textLength="117.5" lengthAdjust="spacingAndGlyphs">Training</text>
<text x="1967.7" y="1428" class="xl" textLength="63" lengthAdjust="spacingAndGlyphs">Data</text>
<text transform="translate(1556.5 1228.85) rotate(-90)" class="yl" text-anchor="middle" textLength="67.8" lengthAdjust="spacingAndGlyphs">Score</text>
<text x="1562.2" y="1506.2" class="cb" textLength="43.4" lengthAdjust="spacingAndGlyphs"><tspan font-size="44">(</tspan>l<tspan font-size="44">)</tspan></text>
<text x="1621.6" y="1506.2" class="ct" textLength="379.4" lengthAdjust="spacingAndGlyphs">Micro Bitcoinotc</text>
</svg></body></html>
